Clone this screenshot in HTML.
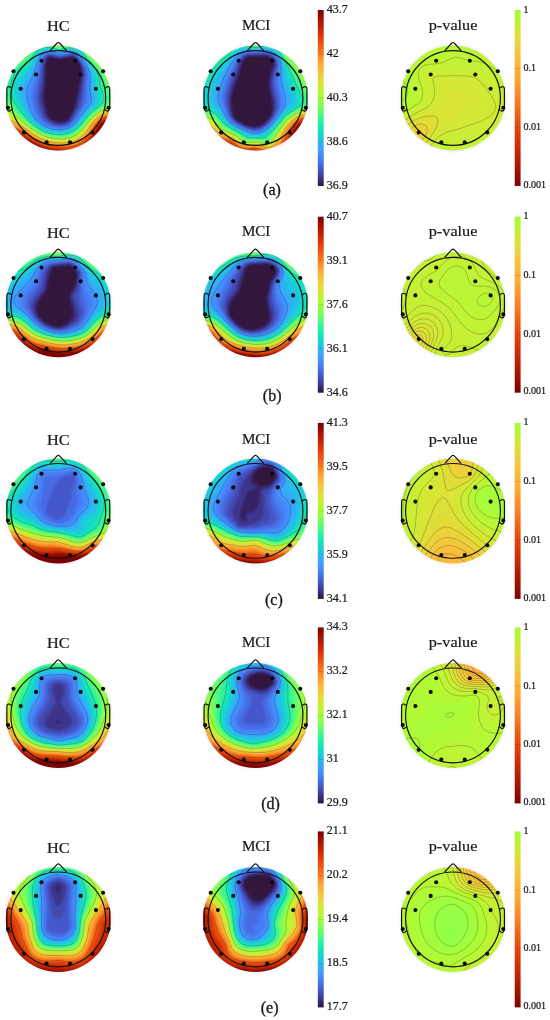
<!DOCTYPE html>
<html lang="en"><head><meta charset="utf-8"><title>Topographic maps</title>
<style>html,body{margin:0;padding:0;background:#fff}body{width:550px;height:1020px;overflow:hidden}svg{display:block}text{font-family:"Liberation Serif","DejaVu Serif",serif;fill:#181818;stroke:#181818;stroke-width:.22}.t{font-size:15.2px;text-anchor:middle}.l{font-size:16px;text-anchor:middle;stroke-width:.35}.k{font-size:12px}.p{font-size:10px}.cl{fill:none;stroke:#1a1a1a;stroke-width:.4;stroke-opacity:.6}.hd{fill:none;stroke:#111;stroke-width:1.15;stroke-linejoin:round}</style></head><body>
<svg width="550" height="1020" viewBox="0 0 550 1020">
<defs><clipPath id="cd"><circle r="52.5"/></clipPath><filter id="b1" x="-10%" y="-10%" width="120%" height="120%"><feGaussianBlur stdDeviation="0.9"/></filter><filter id="b2" x="-10%" y="-10%" width="120%" height="120%"><feGaussianBlur stdDeviation="1.1"/></filter><linearGradient id="gt" x1="0" y1="0" x2="0" y2="1"><stop offset="0.0000" stop-color="#7a0403"/><stop offset="0.0312" stop-color="#920b01"/><stop offset="0.0625" stop-color="#a91601"/><stop offset="0.0938" stop-color="#be2102"/><stop offset="0.1250" stop-color="#d02f05"/><stop offset="0.1562" stop-color="#df3f08"/><stop offset="0.1875" stop-color="#eb500e"/><stop offset="0.2188" stop-color="#f46617"/><stop offset="0.2500" stop-color="#fb7e21"/><stop offset="0.2812" stop-color="#fe962b"/><stop offset="0.3125" stop-color="#fdac34"/><stop offset="0.3438" stop-color="#f8be39"/><stop offset="0.3750" stop-color="#eecf3a"/><stop offset="0.4062" stop-color="#dfdf37"/><stop offset="0.4375" stop-color="#cdec34"/><stop offset="0.4688" stop-color="#b9f635"/><stop offset="0.5000" stop-color="#a4fc3c"/><stop offset="0.5312" stop-color="#8bff4b"/><stop offset="0.5625" stop-color="#6dfe62"/><stop offset="0.5938" stop-color="#4ef97d"/><stop offset="0.6250" stop-color="#32f298"/><stop offset="0.6562" stop-color="#1fe9af"/><stop offset="0.6875" stop-color="#18ddc2"/><stop offset="0.7188" stop-color="#1ccdd8"/><stop offset="0.7500" stop-color="#28bceb"/><stop offset="0.7812" stop-color="#37a8fa"/><stop offset="0.8125" stop-color="#4294ff"/><stop offset="0.8438" stop-color="#4680f6"/><stop offset="0.8750" stop-color="#466be3"/><stop offset="0.9062" stop-color="#4456c7"/><stop offset="0.9375" stop-color="#4040a2"/><stop offset="0.9688" stop-color="#392a73"/><stop offset="1.0000" stop-color="#30123b"/></linearGradient><linearGradient id="gp" x1="0" y1="0" x2="0" y2="1"><stop offset="0.0000" stop-color="#a4fc3c"/><stop offset="0.0312" stop-color="#affa37"/><stop offset="0.0625" stop-color="#bef434"/><stop offset="0.0938" stop-color="#cbed34"/><stop offset="0.1250" stop-color="#d7e535"/><stop offset="0.1562" stop-color="#e1dd37"/><stop offset="0.1875" stop-color="#e9d539"/><stop offset="0.2188" stop-color="#f1cb3a"/><stop offset="0.2500" stop-color="#f6c33a"/><stop offset="0.2812" stop-color="#f9bc39"/><stop offset="0.3125" stop-color="#fbb637"/><stop offset="0.3438" stop-color="#fdae35"/><stop offset="0.3750" stop-color="#fea732"/><stop offset="0.4062" stop-color="#fe9e2f"/><stop offset="0.4375" stop-color="#fe932a"/><stop offset="0.4688" stop-color="#fd8a26"/><stop offset="0.5000" stop-color="#fb8122"/><stop offset="0.5312" stop-color="#f9751d"/><stop offset="0.5625" stop-color="#f56918"/><stop offset="0.5938" stop-color="#f15d13"/><stop offset="0.6250" stop-color="#ec530f"/><stop offset="0.6562" stop-color="#e7490c"/><stop offset="0.6875" stop-color="#e14109"/><stop offset="0.7188" stop-color="#da3907"/><stop offset="0.7500" stop-color="#d23105"/><stop offset="0.7812" stop-color="#ca2a04"/><stop offset="0.8125" stop-color="#c12302"/><stop offset="0.8438" stop-color="#b71d02"/><stop offset="0.8750" stop-color="#ac1701"/><stop offset="0.9062" stop-color="#a11201"/><stop offset="0.9375" stop-color="#950d01"/><stop offset="0.9688" stop-color="#880802"/><stop offset="1.0000" stop-color="#7a0403"/></linearGradient><g id="head"><circle class="hd" r="47.4"/><path class="hd" d="M-8.4 -47.2L-1.2 -55Q0 -56 1.2 -55L8.4 -47.2"/><path class="hd" d="M-46.4 -9.8L-49.3 -11.4Q-51.4 -11.6 -51.4 -9V7Q-51.8 12.6 -49.2 13.3L-46.1 11.4"/><path class="hd" d="M46.4 -9.8L49.3 -11.4Q51.4 -11.6 51.4 -9V7Q51.8 12.6 49.2 13.3L46.1 11.4"/><circle cx="-16.8" cy="-37.2" r="2.05" fill="#0a0a0a"/><circle cx="16.8" cy="-37.2" r="2.05" fill="#0a0a0a"/><circle cx="-44.8" cy="-26.7" r="2.05" fill="#0a0a0a"/><circle cx="44.8" cy="-26.7" r="2.05" fill="#0a0a0a"/><circle cx="-22.3" cy="-23.5" r="2.05" fill="#0a0a0a"/><circle cx="22.3" cy="-23.5" r="2.05" fill="#0a0a0a"/><circle cx="-37.6" cy="-9.3" r="2.05" fill="#0a0a0a"/><circle cx="37.6" cy="-9.3" r="2.05" fill="#0a0a0a"/><circle cx="-50.3" cy="9.7" r="2.05" fill="#0a0a0a"/><circle cx="50.3" cy="9.7" r="2.05" fill="#0a0a0a"/><circle cx="-34.3" cy="34.4" r="2.05" fill="#0a0a0a"/><circle cx="34.3" cy="34.4" r="2.05" fill="#0a0a0a"/><circle cx="-11.7" cy="44.2" r="2.05" fill="#0a0a0a"/><circle cx="11.7" cy="44.2" r="2.05" fill="#0a0a0a"/></g></defs>
<g id="row-a">
<text class="t" x="58.2" y="30.8" textLength="22.6" lengthAdjust="spacingAndGlyphs">HC</text>
<text class="t" x="256.1" y="29.7" textLength="28.4" lengthAdjust="spacingAndGlyphs">MCI</text>
<text class="t" x="453.1" y="29.7" textLength="48.7" lengthAdjust="spacingAndGlyphs">p-value</text>
<text class="l" x="272.0" y="195.3">(a)</text>
<rect x="317.8" y="10.0" width="5.9" height="176" fill="url(#gt)"/>
<rect x="514.7" y="10.0" width="5.9" height="176" fill="url(#gp)"/>
<text class="k" x="326.7" y="12.9">43.7</text>
<text class="k" x="326.7" y="56.9">42</text>
<rect x="317.8" y="53.7" width="5.9" height=".6" fill="#000" fill-opacity=".18"/>
<text class="k" x="326.7" y="100.9">40.3</text>
<rect x="317.8" y="97.7" width="5.9" height=".6" fill="#000" fill-opacity=".18"/>
<text class="k" x="326.7" y="144.9">38.6</text>
<rect x="317.8" y="141.7" width="5.9" height=".6" fill="#000" fill-opacity=".18"/>
<text class="k" x="326.7" y="188.9">36.9</text>
<text class="p" x="523.4" y="12.5">1</text>
<text class="p" x="523.4" y="71.2">0.1</text>
<rect x="514.6" y="68.4" width="6" height=".6" fill="#000" fill-opacity=".18"/>
<text class="p" x="523.4" y="129.9">0.01</text>
<rect x="514.6" y="127.0" width="6" height=".6" fill="#000" fill-opacity=".18"/>
<text class="p" x="523.4" y="187.6">0.001</text>
<g transform="translate(58.3 98.0)">
<circle r="54" fill="#e6e8fa" fill-opacity=".5" filter="url(#b2)"/>
<g clip-path="url(#cd)"><g filter="url(#b1)">
<rect x="-57" y="-57" width="114" height="114" fill="#30123b"/>
<path fill="#372466" d="M-57 -57l114 0 0 114 -114 0 0 -114zM11.5 -41l-6.5 1.5 -3.5 .5 -3.5 -.3 -5.5 -1.3 -1.5 0 -1.7 1.6 -1.3 4 -.4 5 0 14 -1.7 13 .6 7 2.7 10.5 1.8 3.8 2 2.2 2 1.4 5 1.8 4 .1 3.3 -.8 2.2 -1.7 2.2 -3.3 3.6 -8 1.4 -4 5.7 -27 .4 -7 -.7 -3.5 -1.1 -2.5 -2.5 -3.7 -2.5 -2.5 -2 -.9 -2.5 .1z"/>
<path fill="#3d358b" d="M-57 -57l114 0 0 114 -114 0 0 -114zM12.5 -42l-8 1.7 -3 .3 -3.5 -.3 -6 -1.6 -1.5 .1 -2.1 1.8 -1.6 4.5 -.7 6 -.2 14 -1.9 12 .5 7.5 3 11.5 1.7 3.5 1.8 2 2.5 1.9 2.5 1.2 3 .8 4 .4 3.5 -.5 2.5 -1.2 2.1 -2.1 1.9 -3.1 4.8 -10.4 3 -12.5 3.1 -18 .1 -4 -.5 -3.5 -1.4 -4 -3.6 -5.1 -3 -2.5 -3 -.4z"/>
<path fill="#4249b1" d="M-57 -57l114 0 0 114 -114 0 0 -114zM-10 -42.7l-1.8 1.2 -1.3 2 -1.8 7 -.9 16 -2.2 13 0 5 .8 4.5 3.1 11 1.8 3 2.3 2.3 3.4 2.2 4.1 1.4 4.5 .6 4.4 -.5 3.4 -1.5 2.9 -3 5.5 -10.5 1.9 -4.5 2.2 -9.5 2.7 -18 .2 -4.5 -.6 -4.5 -1.3 -3.5 -2.5 -4 -2.8 -3.3 -2.6 -1.7 -3.4 -.3 -7.5 1.7 -3.5 .3 -3 -.3 -6 -1.7 -2 .1z"/>
<path fill="#4559cb" d="M-57 -57l114 0 0 114 -114 0 0 -114zM-9.5 -43.6l-2 .7 -2 2 -1.1 2.4 -1.4 5.5 -1.5 15.7 -2.6 13.3 0 5.5 .7 5 3.4 11 1.9 3 2.5 2.5 3.9 2.5 4.2 1.4 5 .7 4.5 -.4 4 -1.5 3.4 -3.2 6.3 -11 2.5 -5.5 1.7 -7 2.3 -19.5 .2 -4 -.5 -4 -1.2 -4 -2.3 -4 -3.4 -4.3 -3 -2.2 -2 -.6 -2 .1 -7.5 1.6 -3.5 .3 -3 -.3 -5.5 -1.6 -2 -.1z"/>
<path fill="#466be3" d="M-57 -57l114 0 0 114 -114 0 0 -114zM-10.5 -44.1l-2.3 1.1 -1.8 2 -1.1 2.5 -1.7 6.5 -1.7 13 -3.2 14.5 0 6.5 .9 6 1.7 6 1.7 4 2.6 3.5 3.4 3 4 2.2 4.5 1.4 5 .5 5 -.5 4.5 -1.9 3.3 -3.2 7.7 -12.5 2.6 -5.5 1.2 -5 .6 -11 1.1 -10 0 -4 -.6 -3.5 -1.6 -4.5 -2.8 -4.6 -3.5 -4.2 -3 -2 -4 -.5 -7.5 1.7 -3.5 .3 -3 -.4 -5.5 -1.5 -3 .1z"/>
<path fill="#477bf2" d="M-57 -57l114 0 0 114 -114 0 0 -114zM-11.5 -44.6l-3.1 2.1 -1.9 3.5 -2.3 7.5 -2.1 12 -3.2 11 -.6 4 -.1 4 .3 4.5 .8 4.5 1.7 5.5 2.2 4.5 2.7 3.5 4.1 3.4 4 2.2 5 1.5 5.5 .5 5 -.5 5 -2.1 3.8 -3.5 9.4 -14.5 2.3 -4.5 .9 -4 -.1 -10.5 .9 -11 -.1 -3.5 -.6 -3.5 -1.8 -5 -2.8 -4.5 -3.6 -4.5 -3.3 -2.3 -2 -.6 -2.5 0 -8 1.7 -3 .2 -3 -.3 -6 -1.6 -3.5 .3z"/>
<path fill="#458afc" d="M-57 -57l114 0 0 114 -114 0 0 -114zM-11 -45.5l-2 .7 -1.8 1.3 -2.4 3.5 -2.8 8 -2.4 11 -4 11 -.7 3.5 -.3 3.5 .4 6 .8 4.5 2.1 6.5 2.6 5 2.9 3.5 4.1 3.3 4.9 2.7 5 1.5 5.6 .6 5.5 -.6 5 -2 4.2 -3.5 11.6 -16.5 1.9 -3.5 .8 -4 -.8 -9.5 .7 -12 -.6 -6 -1.8 -5 -3 -5.1 -4 -5.1 -3.5 -2.6 -2.5 -.7 -2.5 -.1 -8 1.7 -3 .3 -3 -.4 -6 -1.6 -3 .1z"/>
<path fill="#3e9bfe" d="M-57 -57l114 0 0 114 -114 0 0 -114zM-11.5 -46.1l-2 .7 -2 1.3 -2.6 3.6 -3.1 8 -2.8 10 -5 11.5 -.9 3.5 -.2 3.5 1.2 10 2.2 6.5 3 6 3.2 4 4.3 3.5 5.2 3 5.5 1.8 6.5 .7 6 -.7 5 -2 4.5 -3.8 13.1 -17.5 2 -3.5 .5 -3 -1.4 -10 .5 -12 -.7 -5.5 -1.9 -5 -3.2 -5.5 -4.3 -5.5 -3.6 -2.7 -2.5 -.9 -2.5 -.2 -9 1.8 -3 .2 -8.5 -1.9 -3.5 .1z"/>
<path fill="#35abf8" d="M-57 -57l114 0 0 114 -114 0 0 -114zM-12.5 -46.6l-3.8 2.1 -2.7 3.5 -3.1 7 -3.8 10.5 -6.2 12 -.8 3 -.3 3.5 1.4 9 2.4 7 3.7 7 3.4 4.5 4.3 3.5 6 3.7 5.5 1.8 7.5 .8 6.5 -.8 5 -2 4.4 -3.5 8.6 -11.4 6.1 -7.1 1.9 -3 .7 -3.5 -2 -10 .3 -11.5 -.8 -5.5 -2.1 -5.5 -3.8 -6 -4.3 -5.5 -4 -2.9 -2.5 -.8 -3 -.2 -8.5 1.8 -3 .2 -9 -2 -4 .3z"/>
<path fill="#28bceb" d="M-57 -57l114 0 0 114 -114 0 0 -114zM-11.5 -47.5l-4.2 1.5 -1.9 1.5 -1.6 2 -2.5 4.5 -5.8 12.9 -6.8 11.1 -1.3 3 -.6 3 .1 3.5 .7 4 2.3 7.5 3.1 6.5 4.8 7.5 4 4 7.2 4.7 5.7 2.3 8.3 1.2 7 -.7 5.5 -2.1 4.6 -3.4 9.4 -11.9 7 -7.6 1.9 -3 .6 -2 .1 -2 -2.4 -9.5 .1 -11 -.6 -4.5 -1.7 -5 -3.1 -5.5 -5.9 -7.8 -4 -3.4 -3 -1.1 -3 -.2 -9 1.8 -3 .2 -8.5 -2 -3.5 0z"/>
<path fill="#1fc9dd" d="M-57 -57l114 0 0 114 -114 0 0 -114zM-12.5 -48.1l-4 1.6 -3.5 3.4 -8.8 16.1 -8.2 11.5 -1.5 3.5 -.6 3 .1 3.5 .6 3.5 2.3 7 3.7 7.5 5.8 8.5 3.8 4 7.8 5.1 6 2.6 8.5 1.3 4 -.1 4 -.7 5.7 -2.2 4.6 -3.5 9.7 -12 7.4 -7.5 2.4 -3.5 .7 -2 .1 -2 -3 -10 .1 -10 -.6 -4.5 -2 -5.5 -3.4 -5.5 -6.5 -8.5 -4.2 -3.4 -3 -1 -3 -.2 -12 2 -8.5 -2 -4.5 0z"/>
<path fill="#19d5cd" d="M-57 -57l114 0 0 114 -114 0 0 -114zM-14 -48.5l-3.5 1.6 -3.1 2.9 -8.9 14.4 -7.6 9.1 -2.4 3.5 -1.5 3.5 -.8 3.5 .1 4 .8 4 2.6 7 4.1 7.5 7 9.5 4.2 4 8.5 5.4 5.5 2.1 9 1.3 4 -.2 4 -.7 6 -2.4 4.5 -3.5 9.4 -11.5 8.7 -8.5 2.9 -4 .6 -2 .1 -2 -.6 -2.5 -2.9 -7 0 -9.5 -.8 -5 -2.2 -5.5 -3.6 -5.5 -7.1 -9.1 -2 -1.9 -2.5 -1.6 -3 -1 -3 -.2 -12 2.1 -9.5 -2.2 -5 .4z"/>
<path fill="#19e2bb" d="M-57 -57l114 0 0 114 -114 0 0 -114zM-13 -49.5l-4 1.3 -3.6 2.7 -2 2.5 -7.9 11.6 -10.5 11.4 -2.1 4 -1.1 4 -.2 4 .7 4.5 2.5 7 4.3 7.5 7.2 9.5 5.2 5.5 9 5.7 6 2.5 4.5 .9 5 .4 4 -.1 4 -.6 5.8 -2.3 4.7 -3.3 3 -3.2 7.5 -9.4 9.3 -8.6 3.3 -4 .7 -2 .1 -2.5 -.7 -2.5 -3.2 -7 -.2 -8.5 -.6 -4 -2.1 -5.5 -3.4 -5.5 -8.7 -11 -2.1 -2 -2.3 -1.5 -3.1 -1.1 -3.5 -.3 -9.5 1.9 -3 .2 -8.5 -2.2 -4.5 0z"/>
<path fill="#20eaac" d="M-57 -57l114 0 0 114 -114 0 0 -114zM-14 -50.1l-4 1.5 -3.5 2.6 -9.5 12.5 -9.8 9 -2.5 3 -2.2 4 -1.2 4.5 -.2 4.5 .8 5 2.8 7 4.6 7.5 9.1 11 5.1 5 9 5.6 6 2.4 4.5 .9 5 .4 4.5 -.2 4 -.7 5.5 -2.1 4.8 -3.3 3.4 -3.5 7.8 -9.7 11.2 -9.8 2.5 -3 .9 -2.5 0 -2.5 -.9 -3 -2.9 -6.5 -1.5 -11.5 -2.1 -5.5 -3.6 -5.5 -9.7 -12 -4.4 -3.5 -3.5 -1.3 -3.5 -.3 -12 2.2 -9.5 -2.3 -5 .1z"/>
<path fill="#32f298" d="M-57 -57l114 0 0 114 -114 0 0 -114zM-13 -51l-4.5 1.1 -4 2.5 -2.3 2.4 -7.7 9.5 -3.5 3.2 -7.4 5.8 -2.6 2.7 -2.5 4.3 -1.5 5 -.3 5 .7 5 2.6 7 4.7 7.5 8.1 9.5 5.2 5.5 3 2.5 8.7 5.5 6.3 2.6 5 1 5 .4 4.5 -.1 4 -.6 5.5 -2.1 4.9 -3.2 3.6 -3.6 8.9 -10.9 12.9 -10.5 1.6 -2 .8 -2 .2 -2 -.3 -2.5 -3.4 -8.5 -1.9 -10 -2.1 -5.5 -4.4 -6.5 -10 -12 -2.6 -2.5 -3.7 -2.2 -4 -1 -4 .2 -10 1.9 -9 -2.2 -4.5 -.2z"/>
<path fill="#46f884" d="M-57 -57l114 0 0 114 -114 0 0 -114zM-15 -51.5l-4 1.3 -3.4 2.2 -9.6 10.7 -4 3.3 -8 5.7 -3.2 3.3 -2.8 4.9 -1.4 5.1 -.2 5.5 1 5.5 3.1 7.5 5.2 7.5 4.8 5.5 7.9 8 6.1 4.9 8.6 5.1 6.4 2.2 5 .8 5 .3 4.5 -.3 4 -.8 5 -2.1 4 -2.7 4 -3.9 6.2 -8 3.3 -3.4 5.5 -4.5 8.5 -6.1 1.4 -2 .9 -2.5 .1 -3 -.6 -3 -3 -8 -2.7 -10 -2.2 -4.5 -4.4 -6 -6.9 -7.5 -4.4 -5.5 -2.7 -2.5 -3.5 -1.9 -4 -.9 -4.5 .2 -9.5 1.9 -10 -2.5 -5.5 .2z"/>
<path fill="#5dfc6f" d="M-57 -57l114 0 0 114 -114 0 0 -114zM-14 -52.5l-4.5 1.1 -4.3 2.4 -2.8 2.5 -6.9 7.5 -12.5 8.6 -4 3.8 -2.9 4.6 -1.7 5.5 -.4 5.5 .9 6 1.4 4 1.9 4 5.2 7.5 5.6 6 8.3 8 6.8 5.5 8.4 5 7 2.4 5 .8 5 .3 4.5 -.3 4 -.7 5 -2 4.5 -3 4 -3.9 6.3 -8.1 3.3 -3.5 5.9 -4.7 9 -5.8 1.5 -2 1.1 -3 .1 -3.5 -.6 -3.5 -5.6 -16.5 -2.2 -4.5 -4.6 -6 -8.2 -8.5 -4.5 -5.7 -2.6 -2.3 -3.9 -2.1 -4 -.9 -4.5 .2 -9.5 1.9 -9.5 -2.4 -5 -.2z"/>
<path fill="#79fe59" d="M-57 -57l114 0 0 114 -114 0 0 -114zM-16 -53.1l-4 1.3 -3.5 2 -2.8 2.3 -6.7 6.7 -13.4 8.8 -4.8 4.5 -3.1 5 -1.7 5.5 -.3 6 1.3 6.5 1.7 4.5 2.1 4 5.7 7.5 5.4 5.5 10.6 9.5 7.5 5.5 8 4.4 7 2 5 .6 5 .2 4 -.3 4 -.9 4.5 -1.8 4.1 -2.7 3.9 -3.8 6.8 -8.7 3.9 -4 5.3 -4.1 8 -4.4 2 -1.6 1.9 -2.9 .9 -3.5 .1 -4 -.9 -4.5 -4.9 -13.5 -2.9 -5.5 -5 -6 -8.7 -8.5 -4.5 -5.7 -3.3 -2.8 -3.7 -1.9 -4 -.8 -4.5 .2 -9.5 1.9 -10 -2.5 -3.5 -.3 -3 .3z"/>
<path fill="#8fff49" d="M-57 -57l114 0 0 114 -114 0 0 -61.2 3.6 7.7 5.1 7 7.2 7 14.1 11.9 7.8 5.1 6.2 3 6.5 1.7 8 .7 5.5 -.3 4.5 -.9 4.5 -1.9 4 -2.6 4 -3.9 7 -9 4 -4.1 5.5 -4 8.2 -4.2 1.9 -1.5 1.4 -2 1.2 -2.5 .9 -5.5 -.5 -4.5 -1.6 -5.5 -3.8 -9.5 -3.1 -5.5 -4.9 -5.5 -9.7 -9 -6 -7.1 -4 -2.7 -4.5 -1.4 -5.5 -.1 -10 1.9 -8.5 -2.2 -3.5 -.5 -4.5 .1 -4.5 1.3 -5.4 3.2 -9.1 8 -11 6.6 -3.9 2.9 -4.2 4.5 -2.9 5.2 0 -34.7z"/>
<path fill="#a4fc3c" d="M-57 -57l114 0 0 114 -114 0 0 -56.4 4.4 6.9 5.9 6.5 16.9 14 6.8 4.9 6.5 3.8 5.5 2.1 7 1.4 8 .4 5 -.5 4 -1.1 4.3 -2 3.7 -2.7 3.5 -3.5 7.2 -9.3 3.8 -3.9 5 -3.6 9 -4.3 2 -1.7 1.9 -2.5 1.2 -2.5 .8 -3 .3 -3.5 -.6 -5 -1.7 -5.5 -3.4 -8 -3.2 -5.5 -5 -5.5 -10.3 -9.1 -5.8 -6.9 -2.4 -2 -2.6 -1.5 -3.2 -1.1 -3.5 -.5 -4 .2 -9.5 1.7 -12 -2.7 -4.5 0 -3.9 .9 -5.3 2.5 -10.3 8.2 -14.1 8.3 -4.2 3.5 -3.2 4 0 -29.5z"/>
<path fill="#b4f836" d="M-57 -57l114 0 0 50 -1 -5 -2.2 -6 -3 -6 -3 -4.5 -4.8 -5 -11 -9.3 -6.3 -7.2 -2.6 -2 -2.6 -1.4 -3 -1 -3.5 -.5 -4 .2 -9.5 1.6 -12 -2.7 -4.5 0 -4 .8 -5.9 2.5 -10.6 7.6 -13.2 7.4 -4.2 3 -3.1 3.1 0 -25.6zM57 -1.5l0 58.5 -114 0 0 -53.1 4.6 6.1 6.2 6 18.2 14.2 7.1 4.8 5.9 3.1 5.5 1.8 7 1.1 7.5 .2 4.5 -.5 4 -1.1 4 -1.8 3.5 -2.5 4 -3.9 7.1 -9.4 3.9 -4 5 -3.5 9 -4.2 2.4 -1.8 3 -4.5 1.6 -5.5z"/>
<path fill="#c3f134" d="M-57 -57l114 0 0 42.7 -4.1 -9.2 -5.1 -7 -4.8 -4.5 -10 -8.1 -7 -7.7 -3 -2.2 -3 -1.4 -3.5 -1 -4 -.2 -12 1.6 -12.5 -2.7 -4.5 0 -4 .7 -3.5 1.2 -3.5 1.8 -10 6.5 -13.5 7.2 -6 4.5 0 -22.2zM56.9 3.5l.1 53.5 -114 0 0 -50.3 4.6 5.3 6.2 5.5 19.7 14.5 6.5 4.2 5.5 2.7 5.5 1.8 6.5 1 7 .3 4.5 -.4 4 -1 3.5 -1.4 3.6 -2.2 4.9 -4.5 7.1 -9.5 3.7 -4 5.7 -4.1 10.4 -4.9 2.9 -3 2.1 -3.5z"/>
<path fill="#d4e735" d="M-57 -57l36.1 0 -3.6 1.1 -4 1.9 -10 5.9 -13 6.6 -5.5 3.7 0 -19.2zM-8.3 -57l65.3 0 0 38.1 -3.9 -7.1 -4.4 -5.5 -4.5 -4 -10.2 -8 -6.5 -7 -4 -3.1 -4 -1.8 -4 -.9 -5 0 -10 1.3 -8.8 -2zM56.7 6l.3 -.5 0 51.5 -114 0 0 -48 4.9 5 6.1 5 21 14.8 6 3.7 5 2.3 5.5 1.6 6.5 1 7 .2 4.5 -.4 3.5 -.8 3.7 -1.4 3.3 -2 5.5 -5 7.4 -10 3.8 -4 5.3 -3.6 9.8 -4.4 2.5 -2 2.4 -3z"/>
<path fill="#e1dd37" d="M-57 -57l32 0 -4.7 2 -9.8 5.2 -11.1 5.3 -6.4 3.8 0 -16.3zM-4.6 -57l13.8 0 -8.2 1 -5.6 -1zM16.2 -57l40.8 0 0 34.5 -3.5 -5.5 -4 -4.5 -4.6 -4 -9.9 -7.5 -7.9 -8 -5.1 -3.3 -5.8 -1.7zM56.8 7.5l.2 49.5 -114 0 0 -46 4.8 4.5 5.8 4.5 12.4 8.1 10 7.1 5.5 3.3 5 2.2 5.5 1.5 6.5 .9 7 .2 4.5 -.4 3.5 -.8 3.5 -1.4 3.5 -2.1 5.5 -5.1 7.5 -10.2 4 -4.2 5 -3.3 9.8 -4.3 2.2 -1.6 2.3 -2.4z"/>
<path fill="#eecf3a" d="M-57 -57l28.2 0 -22.2 10.3 -6 3.2 0 -13.5zM19.8 -57l37.2 0 0 31.4 -3.7 -4.9 -4.8 -4.7 -12.5 -9.3 -9.4 -9 -3.2 -2 -3.6 -1.5zM56.6 9l.4 -.5 0 48.5 -114 0 0 -44.1 4.8 4.1 5.5 4 12.7 7.9 10.5 7.4 5.5 3.1 5 2.1 5.5 1.4 6.5 .9 7 .2 7.5 -1.1 3.6 -1.4 3.5 -2 5.5 -5 8 -11 3.9 -4 5 -3.3 9.5 -4 4.1 -3.2z"/>
<path fill="#f6c33a" d="M-57 -57l24.3 0 -18.3 7.8 -6 3 0 -10.8zM22.2 -57l34.8 0 0 28.8 -3.5 -4.1 -4 -3.7 -13 -9.5 -9 -8.4 -5.3 -3.1zM56.7 10l.3 -.3 0 47.3 -114 0 0 -42.4 9.3 6.9 12.7 7.5 11 7.7 6.5 3.6 5 2 5.5 1.4 6.5 .8 7 .2 4 -.4 3.5 -.8 3.5 -1.3 3.5 -2 5.6 -5.2 7.9 -11 4 -4.2 5 -3.2 9 -3.7 4.2 -2.9z"/>
<path fill="#fbb637" d="M-57 -57l19.8 0 -19.8 8.1 0 -8.1zM24.3 -57l32.7 0 0 26.5 -6.7 -6.5 -12.3 -8.8 -9 -8.1 -4.7 -3.1zM56.7 11l.3 -.3 0 46.3 -114 0 0 -40.9 9 6.4 13 7.3 11.1 7.7 6.9 3.8 5.5 2 5.5 1.2 7 .8 6.5 .1 4 -.5 3.5 -.9 3.5 -1.4 3 -1.8 5.7 -5.3 7.7 -11 4.1 -4.4 4 -2.6 9.5 -3.9 4.2 -2.6z"/>
<path fill="#fea431" d="M-57 -57l14.3 0 -14.3 5.5 0 -5.5zM26.1 -57l30.9 0 0 24.3 -5.8 -5.3 -12.7 -8.9 -8.5 -7.4 -3.9 -2.7zM56.6 12l.4 -.3 0 45.3 -114 0 0 -39.4 8 5.4 14 7.6 11 7.5 7.2 3.9 5.3 1.9 5.5 1.3 7.5 .8 6.5 0 4 -.4 3.5 -1 3.5 -1.4 3 -1.9 3 -2.4 3 -3.3 7.2 -10.6 3.8 -4.2 4.5 -3 9 -3.5 4.1 -2.3z"/>
<path fill="#fe932a" d="M-57 -57l7.7 0 -7.7 2.9 0 -2.9zM27.9 -57l29.1 0 0 22.3 -5 -4.4 -12.9 -8.9 -11.2 -9zM56.3 13l.7 -.4 0 44.4 -114 0 0 -37.9 8.7 5.4 13.8 7.1 10.5 7.3 7.5 3.9 5 1.8 5.5 1.2 7.5 .8 6.5 .1 4 -.4 3.5 -.9 3.5 -1.4 3 -1.7 3 -2.4 3.2 -3.4 7.8 -11.5 3.5 -3.9 4.5 -2.9 8.5 -3.2 3.8 -2z"/>
<path fill="#fb7e21" d="M-57 -57l.7 0 -.7 .3 0 -.3zM29.7 -57l27.3 0 0 20.3 -5.5 -4.4 -12 -8.1 -9.8 -7.8zM56.8 13.5l.2 43.5 -114 0 0 -36.6 8.6 5.1 13.9 6.9 10.5 7.2 8 4.1 5 1.7 5.5 1.2 8 .8 6 0 4 -.4 3.5 -.9 3.5 -1.5 3 -1.7 3 -2.5 3.2 -3.4 7.6 -11.5 3.6 -4 4.6 -2.9 8.4 -3.1 3.9 -2z"/>
<path fill="#f66c19" d="M31.5 -57l25.5 0 0 18.4 -5.1 -3.9 -11.4 -7.6 -9 -6.9zM56.5 14.5l.5 -.3 0 42.8 -114 0 0 -35.3 8.5 4.8 13.5 6.3 11 7.5 8 4.1 5 1.7 5.5 1.1 8.5 .9 6 0 4 -.5 3.5 -.9 3.5 -1.5 3 -1.7 3.5 -3 3 -3.4 7.2 -11.1 3.5 -4 4.3 -2.8 12 -4.7z"/>
<path fill="#f05b12" d="M33.4 -57l23.6 0 0 16.5 -15.5 -10.5 -8.1 -6zM57 15l0 42 -114 0 0 -34 8 4.3 14 6.3 11 7.5 8.5 4.2 5 1.6 5.5 1 8.5 .9 6 0 4 -.5 3.5 -1 3.5 -1.5 3 -1.8 3.5 -3 3 -3.4 7 -11.1 3.5 -4.1 4.5 -2.8 12 -4.6z"/>
<path fill="#e7490c" d="M35.5 -57l21.5 0 0 14.7 -21.5 -14.7zM56.4 16l.6 -.3 0 41.3 -114 0 0 -32.8 7.4 3.8 14.1 6.1 11.5 7.7 8.5 4.2 5 1.5 5.5 1.1 9 .9 6 0 7.5 -1.6 3.5 -1.5 3 -1.8 3.5 -3 3 -3.4 7.2 -11.7 3.3 -3.8 4.5 -2.8 10.9 -3.9z"/>
<path fill="#dd3d08" d="M37.6 -57l19.4 0 0 12.8 -19.4 -12.8zM56.9 16.5l.1 40.5 -114 0 0 -31.6 7.4 3.6 13.6 5.7 11.5 7.6 9 4.4 5 1.5 5.5 1.1 9.5 .9 5.5 0 4 -.5 4 -1.1 3.5 -1.6 3 -1.8 3.5 -3.1 3 -3.4 2.9 -4.2 4.2 -7.5 3.4 -4 4 -2.5 11.4 -4z"/>
<path fill="#d02f05" d="M39.9 -57l17.1 0 0 11 -17.1 -11zM56.3 17.5l.7 -.3 0 39.8 -114 0 0 -30.4 20.5 8.7 12.5 8 9 4.2 5 1.5 5.5 1 9 .9 6 0 7.5 -1.6 3.5 -1.4 3.2 -1.9 3.5 -3 3.3 -3.8 2.8 -4.2 4.2 -7.5 3.3 -4 4.2 -2.6 10.3 -3.4z"/>
<path fill="#c32503" d="M42.4 -57l14.6 0 0 9.2 -14.6 -9.2zM56.8 18l.2 39 -114 0 0 -29.3 20.1 8.3 12.9 8.1 9 4.2 5.5 1.5 5.5 1 9 .9 6 -.1 7.5 -1.6 3.5 -1.5 3.2 -2 3.5 -3 3.4 -4 2.7 -4 4.4 -8 2.9 -3.5 3.9 -2.5 10.8 -3.5z"/>
<path fill="#b41b01" d="M45.2 -57l11.8 0 0 7.3 -11.8 -7.3zM56 19l1 -.4 0 38.4 -114 0 0 -28.1 19.5 7.7 14 8.5 9 4 5 1.5 5.5 .9 9 .9 6 -.1 4 -.6 4 -1.1 3.5 -1.5 3.3 -2.1 3.4 -3 3.4 -4 2.7 -4 4.3 -8 2.9 -3.6 4 -2.5 9.5 -2.9z"/>
<path fill="#a11201" d="M48.1 -57l8.9 0 0 5.4 -8.9 -5.4zM56.6 19.5l.4 -.2 0 37.7 -114 0 0 -27 19 7.3 15 8.8 8.5 3.8 5.5 1.5 5.5 .9 9 .8 6 -.1 4 -.6 4 -1.2 3.5 -1.5 3.4 -2.2 3.6 -3.2 3.2 -3.8 2.6 -4 4.6 -8.5 2.8 -3.5 3.8 -2.2 9.6 -2.8z"/>
<path fill="#8e0a01" d="M51.2 -57l5.8 0 0 3.5 -5.8 -3.5zM55.7 20.5l1.3 -.4 0 36.9 -114 0 0 -25.9 18.5 6.9 15.5 8.9 8.5 3.7 5.5 1.5 6 1 8.5 .8 6 -.1 4.5 -.8 4 -1.2 3.5 -1.6 3.5 -2.2 3.5 -3.2 3.5 -4.3 6.8 -12 2.7 -3.5 3.5 -2 8.7 -2.5z"/>
<path fill="#7a0403" d="M54.4 -57l2.6 0 0 1.6 -2.6 -1.6zM56.3 21l.7 -.2 0 36.2 -114 0 0 -24.8 18.5 6.8 15.5 8.7 8.5 3.6 5.5 1.5 6.5 1.1 8.5 .7 6 -.1 4.5 -.8 4 -1.2 3.5 -1.7 3.5 -2.3 3.5 -3.1 3.5 -4.3 6.8 -12.1 2.6 -3.5 3.5 -2 8.9 -2.5z"/>
</g>
<path class="cl" d="M-11 -46.6l-4 1.6 -1.7 1.5 -1.7 2.5 -3.2 7.5 -3.4 10.7 -5.4 11.3 -1.2 6.5 1.2 9.5 2 6.5 3.5 7 3 4 4.1 3.5 5.8 3.6 5.3 1.9 6.7 .9 6.5 -.5 5.5 -2.1 4.5 -3.6 14.1 -18.2 1.9 -3 .7 -3.5 -1.8 -10 .4 -11.5 -.6 -5 -1.9 -5.5 -3.2 -5.5 -4.6 -6 -3.8 -3 -2.7 -.9 -2.5 -.2 -12 2 -8 -1.8 -3.5 -.2M-13.5 -50.6l-4 1.2 -4 2.7 -10 12.4 -10 8.7 -2.5 2.7 -2.5 4.4 -1.3 4.5 -.3 5 .8 5 2.6 7 4.7 7.5 9.7 11.5 5.8 5.4 9 5.6 6 2.4 9.5 1.3 8.5 -.8 5.5 -2.1 4.8 -3.3 3.5 -3.5 8.2 -10.1 12.7 -10.9 1.6 -2 .8 -2 -.1 -4.5 -3.4 -8 -1.7 -10.5 -2.2 -6 -4.4 -6.5 -9.3 -11.3 -2.5 -2.4 -3.5 -2.1 -4 -1 -4 .1 -10 2 -9 -2.3 -5 -.1M-57 2.4l4.6 6.6 5.9 6 17.5 14 7.5 5.2 6 3.3 6 2.1 7 1.1 7.5 .2 7.5 -1.3 6.5 -3.2 5 -4.5 8 -10.3 4 -4 5.5 -3.8 9.7 -4.8 2.2 -2.5 1.6 -3 1.1 -3.5 .3 -4 -.7 -5.5 -1.9 -6 -3.4 -7.5 -3.5 -5.5 -4.8 -5 -10.4 -9 -6.7 -7.6 -4 -2.7 -4 -1.3 -6 -.3 -10.5 1.8 -12.5 -2.8 -4.5 .1 -4 1 -5 2.3 -10.5 7.9 -14 8.1 -3.8 3 -3.2 3.5M-34.9 -57l-22.1 9.4M57 -29.4l-7.1 -7.1 -12.9 -9.4 -9 -8.2 -4.7 -2.9M-57 15.4l9.1 6.6 12.9 7.4 11 7.6 6.5 3.7 5 1.9 6 1.5 7 .8 6.5 .1 7.5 -1.2 6.7 -3.3 5.8 -5.4 7.5 -10.6 4 -4.3 5 -3.3 9.6 -3.9 3.9 -2.8M57 -41.4l-22.6 -15.6M-57 23.6l7.5 3.9 14.5 6.5 11 7.4 8.5 4.2 5 1.6 5.5 1.1 9 .8 5.5 0 7.5 -1.4 6.5 -3.2 3.5 -2.9 3.2 -3.6 7.2 -11.5 3.4 -4 4.2 -2.7 12 -4.4M57 -52.5l-7.4 -4.5M-57 30.6l19 7.2 15 8.7 8.5 3.7 11 2.4 9 .9 6 -.1 8 -1.8 7 -3.7 3.5 -3.1 3.5 -4.2 7 -12.2 3 -3.8 3.5 -1.9 10 -3"/>
</g>
<use href="#head"/>
</g>
<g transform="translate(255.5 98.0)">
<circle r="54" fill="#e6e8fa" fill-opacity=".5" filter="url(#b2)"/>
<g clip-path="url(#cd)"><g filter="url(#b1)">
<rect x="-57" y="-57" width="114" height="114" fill="#30123b"/>
<path fill="#372466" d="M-57 -57l114 0 0 114 -114 0 0 -114zM2.5 -42l-10 .6 -2.5 1.5 -2.5 3 -1.6 3.9 -2.2 9.5 -5.3 14.5 -1.4 5.5 -.8 5 -.1 5.5 .6 5.5 1.2 4.5 1.8 3.5 2.8 2.4 5.7 3.1 4.4 2 3.9 .8 3.5 0 3.5 -.7 2.5 -1.1 3 -2.3 3.5 -3.6 2.2 -3.1 1.4 -3.5 .7 -4 -.3 -6.5 -3.2 -14.5 -.4 -4.5 1.3 -8 3.7 -9.5 .2 -4 -.6 -1.5 -1.5 -1.4 -4 -2.1 -4.5 -.9 -5 .4z"/>
<path fill="#3d358b" d="M-57 -57l114 0 0 114 -114 0 0 -114zM3.5 -43l-11.5 .7 -3 1.8 -2.5 3 -2 4.5 -2 8.5 -5.4 14 -1.6 6 -.8 5 -.1 5.5 .8 6.5 1.5 5 1.9 3.5 2.2 2.1 5.3 2.9 6.2 2.9 4 .9 4 0 3.5 -.8 2.5 -1.1 3.1 -2.4 3.5 -3.5 2.6 -3.5 1.7 -4 .9 -4.5 -.4 -7 -3.2 -14 -.4 -3.5 1.3 -8 3.6 -10 .2 -2.5 -.2 -2 -1.7 -2.6 -4.1 -2.4 -4.9 -1.2 -5 .2z"/>
<path fill="#4249b1" d="M-57 -57l114 0 0 114 -114 0 0 -114zM5.5 -44l-5 .5 -8.5 .2 -3 1.5 -2.8 2.8 -2.7 5 -2.5 9 -4.8 12 -2.1 7 -1 5 -.1 5.5 .9 7 1.6 5.5 2.1 4 2.4 2.5 3.5 2.1 8.5 4 4.5 1.1 4 0 3.5 -.7 3.2 -1.5 3.3 -2.5 3.8 -4 2.5 -3.5 2 -4.5 1 -4.5 .1 -3.5 -.5 -4 -3.1 -13 -.4 -3.5 1 -7.5 3.3 -10 .2 -2.5 -.3 -2.5 -1.6 -2.8 -3.5 -2.5 -4.5 -1.4 -5 -.3z"/>
<path fill="#4559cb" d="M-57 -57l114 0 0 114 -114 0 0 -114zM4 -44.5l-12.5 .5 -3.1 1.5 -3.1 3 -3.1 5.5 -2.8 8.5 -4.7 11.5 -2.3 7.5 -1 6 0 5.5 1.3 7 1.9 5.5 2.7 4.5 2.7 2.5 4.6 2.5 7.9 3.6 5 1 4 -.1 4 -1.1 3.3 -1.9 3.7 -3.2 3.5 -3.9 2.4 -3.9 2.1 -5 .9 -4.5 -.5 -7 -2.9 -12 -.5 -4 .8 -7 2.9 -9.5 .2 -3 -.6 -3 -.8 -1.7 -1.5 -1.8 -4 -2.4 -5 -1.3 -5.5 .2z"/>
<path fill="#466be3" d="M-57 -57l114 0 0 114 -114 0 0 -114zM7 -45.5l-6.5 .6 -9 .2 -3.5 1.4 -3.3 2.8 -3.8 6.5 -7.1 17.5 -2.6 8 -1.5 6.5 -.1 5.5 1.3 6.5 2.4 7 2.9 5 2.5 2.5 3.8 2.3 9.5 4.4 4.5 1.2 4.5 .1 4 -1 3.5 -1.8 4 -3.2 3.7 -4 2.8 -4 2.6 -5.5 1.4 -5 .1 -3 -.4 -4 -3 -12.5 -.5 -4 .6 -6.5 2.4 -9 .1 -3 -.5 -3 -1.8 -3.5 -3.5 -2.9 -4.5 -1.6 -5 -.5z"/>
<path fill="#477bf2" d="M-57 -57l114 0 0 114 -114 0 0 -114zM5.5 -46l-5 .5 -7 -.1 -3 .3 -3.5 1.5 -3.2 2.8 -4.3 7 -7 16 -3.1 9 -1.6 7.5 .1 5 1.6 6.5 2.9 7.5 3.2 5 2.9 2.8 4 2.3 10 4.5 5 1.2 4.5 -.1 4 -1.2 4 -2.4 4 -3.4 4 -4.7 3.2 -5 2.6 -5.5 1 -4.5 -.5 -7 -2.7 -11 -.6 -4.5 .3 -6 1.9 -9 -.1 -3.5 -.7 -3 -.9 -2.1 -1.5 -2 -4 -2.9 -5 -1.5 -5.5 0z"/>
<path fill="#458afc" d="M-57 -57l114 0 0 114 -114 0 0 -114zM4.5 -46.5l-5 .4 -7 -.2 -2.5 .4 -4 1.7 -3.5 3.2 -4.5 7 -7.1 15 -3.6 10.5 -1.6 7.5 .3 4.5 1.7 5.5 3.8 9 3.5 5.1 3.3 2.9 4.3 2.5 10.4 4.6 5 1.1 4.5 -.2 3.5 -1.1 4.1 -2.4 4.4 -3.7 4.1 -4.8 4.3 -6.5 2.8 -5.5 1 -4 -.5 -7.5 -2.7 -10.5 -.7 -4 0 -5.5 1.4 -10 -.3 -3.5 -1.1 -3.5 -2.7 -4 -4.1 -2.8 -5.5 -1.4 -6 .2z"/>
<path fill="#3e9bfe" d="M-57 -57l114 0 0 114 -114 0 0 -114zM8.5 -47.5l-8 .8 -7.5 -.3 -3 .3 -4 1.5 -3.6 2.7 -2.5 3 -2.7 4 -7.3 14 -3 7.5 -3.2 11.5 -.1 4 1.2 4.5 5.4 11.5 3.7 5.5 3.2 3 3.9 2.5 11.5 5.2 4.5 1.2 4.5 .1 4 -.9 4 -2.2 4.5 -3.5 4.1 -4.4 4.6 -6.5 4.6 -7.5 1.4 -4 -.3 -7.5 -2.9 -11 -.8 -4.5 -.2 -4.5 .8 -9.5 -.5 -3.5 -.8 -3 -2.5 -4.5 -3.4 -3 -4.6 -1.9 -5 -.6z"/>
<path fill="#35abf8" d="M-57 -57l114 0 0 114 -114 0 0 -114zM6.5 -48l-6 .7 -8 -.3 -3.5 .4 -4.3 1.7 -3.8 3 -5.6 7.5 -7.7 13.5 -2.8 7 -3.7 12.5 .1 4 1.2 3.5 7.5 13.5 3.8 5 3.5 3 4.3 2.5 11.5 5.2 4.5 1.1 4.5 0 4 -1 4 -2.3 4.5 -3.5 5 -5.5 9.4 -13 1.7 -3 .8 -3 -.5 -6.5 -3.2 -10.5 -1 -4.5 -.4 -4.5 -.1 -10 -.8 -4 -1.3 -3.5 -3.1 -4.5 -4 -2.9 -5 -1.6 -5.5 0z"/>
<path fill="#28bceb" d="M-57 -57l114 0 0 114 -114 0 0 -114zM5.5 -48.5l-5.5 .6 -7.5 -.4 -4 .4 -4.5 1.8 -4.1 3.1 -6.3 8 -8.1 13 -2.3 5 -3.9 10.5 -1.2 5 .2 3.5 1.3 3 5.4 7.6 4.8 7.9 3.3 4 3.6 3 4.3 2.5 12 5.5 4.5 1.1 5 -.1 3.5 -.8 3 -1.6 5.5 -4.1 4 -4.1 8 -10.4 6.1 -7 1.5 -2.5 .7 -2.5 -.6 -4.5 -5.2 -15 -.9 -5 -.9 -11 -1.3 -4.5 -1.8 -4 -3.1 -4 -4.5 -3 -5 -1.2 -6 .2z"/>
<path fill="#1fc9dd" d="M-57 -57l114 0 0 114 -114 0 0 -114zM5 -49.1l-5 .7 -8 -.6 -4 .4 -5 1.9 -4.2 3.2 -7.5 9 -8.1 12 -2.6 5 -4.3 10 -1.5 6 .3 3.5 1.4 3 7 7.7 5.8 8.8 3.7 4 3.9 3 4.1 2.3 12 5.6 4.5 1 5 0 4 -.9 2.5 -1.3 5.5 -4.1 4 -4 9.5 -11.9 8.2 -7.7 1.6 -2.5 .5 -2 -.7 -4 -4.2 -9 -2.3 -6.5 -3.5 -17.5 -1.5 -4 -2.1 -3.9 -3.5 -4 -4.5 -2.5 -5 -1 -6 .3z"/>
<path fill="#19d5cd" d="M-57 -57l114 0 0 114 -114 0 0 -114zM7.5 -50l-7.5 1 -8 -.6 -4 .2 -5 1.7 -4.5 3 -3.3 3.2 -5.1 6 -9.2 12 -3.2 5.5 -3.9 8 -1.6 4 -.7 3.3 .2 4.7 1.7 3.5 9.1 8.1 6.1 8.4 3.2 3.5 3.8 3 3.9 2.3 8.5 3.8 4.5 2.5 3.5 .9 6 .2 4.5 -.6 2.5 -1.3 5 -3.7 4.5 -4.4 10 -12.1 10.4 -8.6 1.8 -2.5 .7 -2 -.1 -2 -.7 -2 -4.6 -9 -2.7 -6.5 -4.8 -17.5 -4 -8.3 -3.1 -3.7 -3.9 -2.6 -4.5 -1.3 -5.5 -.1z"/>
<path fill="#19e2bb" d="M-57 -57l114 0 0 114 -114 0 0 -114zM6.5 -50.6l-6.5 1 -8 -.7 -4.5 .2 -5.1 1.6 -4.8 3 -3.8 3.5 -7.3 8 -8.7 10.5 -3.5 5.5 -3.4 6.5 -1.6 4 -.9 4 .3 5.5 .9 2.5 1.2 2 1.5 1.5 6.2 4 3 2.5 6.7 8.5 2.8 2.9 4 3.1 3.5 2.1 9.5 4.3 4 2.4 3.5 .9 9.5 .1 2.5 -.5 2 -1 8 -6.8 8 -9.9 4 -4.2 8.3 -5.9 4.1 -3.5 1.5 -2 .6 -2 -.7 -4 -6.8 -13.5 -7 -19.5 -5 -9.5 -3.5 -3.8 -4 -2.3 -5 -1.2 -5.5 .2z"/>
<path fill="#20eaac" d="M-57 -57l114 0 0 114 -114 0 0 -114zM9.5 -51.5l-9.5 1.3 -8 -.9 -4.5 .2 -5.2 1.4 -4.8 2.6 -3.5 2.9 -8.7 8.5 -9.8 10.5 -3.5 5 -3.2 5.5 -2 4.5 -1 4 -.3 4 .6 4 1.4 3.5 2.2 3 10.3 6.4 2.5 2.4 6.3 7.7 4.9 4 5.1 3 8.7 4 3.5 2.4 3 1 11.5 .3 2.5 -.4 1.8 -.8 7.7 -6.8 11.5 -13.7 3.5 -2.9 5 -3.1 6.3 -4.5 1.8 -2 .7 -2 -.1 -2.5 -1 -3 -5.9 -11.5 -8.7 -20.5 -5.3 -9.5 -2.9 -3.5 -3.9 -2.7 -4.5 -1.5 -4.5 -.3z"/>
<path fill="#32f298" d="M-57 -57l114 0 0 114 -114 0 0 -58.4 1.7 5.9 3.1 4.5 2.2 1.8 6 3 3.5 2.3 2.5 2.3 5.6 6.6 2.9 2.7 5.9 3.8 10.1 5 4 2.8 2.1 .7 3.4 .3 11.5 .2 2 -.3 1.3 -.7 7.2 -7.1 7.5 -9.5 4.5 -4.7 3.5 -2.8 10.5 -6.4 2.7 -2 1.3 -2 .4 -2.5 -.4 -2.5 -.9 -2.5 -10.3 -21.5 -5.1 -10 -5.9 -10 -2.8 -3.4 -3 -2.3 -3.5 -1.6 -4 -.8 -4.5 0 -8 1.3 -8 -1 -5 .1 -5 1.2 -5 2.6 -3.9 2.9 -11.7 10.5 -9 9 -3.7 5 -2.9 5 -1.9 4.5 -.9 4.1 0 -50.1z"/>
<path fill="#46f884" d="M-57 -57l114 0 0 114 -114 0 0 -51.7 2.2 3.2 2.6 2.5 8.2 4.2 3.5 2.4 7.5 8.1 3.2 2.8 4.7 3 10.7 5.5 4.4 3.2 3 .8 16 .6 2 -.4 1.5 -1.2 7 -8.1 6.5 -8.5 4.8 -4.9 3.7 -2.8 13.5 -7.9 1.6 -2.3 .5 -3 -.3 -2.5 -.8 -2.5 -9.1 -19.5 -13.4 -22.2 -2.5 -3.2 -2.5 -2.2 -3.5 -1.9 -3.5 -1.1 -5.5 -.3 -9 1.4 -8 -1 -4.5 -.1 -4.5 .8 -4.7 1.8 -6.2 4 -18.5 15.5 -6.4 7 -4.2 6.7 0 -40.2z"/>
<path fill="#5dfc6f" d="M-57 -57l114 0 0 114 -114 0 0 -48.8 4.5 4.1 8 4 3.3 2.2 7.7 8 3 2.6 14.5 7.9 5.5 4.2 2.5 .6 9 0 9.5 .9 1.5 -.4 1.5 -1.3 12.1 -16 5.4 -5.7 5 -3.6 11.7 -6.2 1.8 -1.3 1.7 -2.7 .5 -3.5 -.3 -2.5 -.9 -2.8 -9.6 -20.7 -14.9 -22.2 -2.5 -2.8 -3.5 -2.4 -4.5 -1.7 -4.5 -.6 -11 1.5 -8.5 -1.2 -4.5 0 -4 .6 -3.5 1.1 -7 3.7 -17.4 13 -6.8 6 -5.3 6.3 0 -34.3z"/>
<path fill="#79fe59" d="M-57 -57l114 0 0 114 -114 0 0 -46.7 4.1 3.2 10.4 5.3 2.6 2.2 5.6 6 2.8 2.5 14 7.5 6.5 5.1 2.5 .5 10 -.2 9.5 1.4 1.5 -.4 2 -1.8 11.5 -15.9 5.3 -5.7 5.7 -4.1 11.9 -5.9 1.6 -1.2 2 -3.3 .7 -4 -.3 -2.5 -1 -3 -6.3 -15 -2.9 -5.5 -12.2 -16.1 -4.5 -6.8 -3 -3 -3 -1.9 -4.5 -1.6 -4.5 -.5 -11 1.3 -8.5 -1.1 -4.5 -.1 -4 .5 -3.5 .9 -7.5 3.5 -15.3 10.4 -8 6 -5.7 5.6 0 -29.6z"/>
<path fill="#8fff49" d="M-57 -57l114 0 0 114 -114 0 0 -44.9 4 2.7 10 5 2.7 2.2 8 8 14.2 7.5 6.6 5.5 2.5 .4 10.5 -.4 10 1.6 2 -.7 2 -1.9 10.8 -15.5 5.5 -6 6.2 -4.4 11 -5.1 2.2 -1.5 1.6 -2 1 -2 .7 -4.5 -.3 -3 -1 -3 -5.4 -13.5 -3.3 -6.5 -13.5 -16.3 -4.9 -7.2 -2.6 -2.5 -3 -1.9 -4.5 -1.7 -4.5 -.6 -11.5 1.3 -12 -1.3 -4.5 .3 -4 .8 -6 2.3 -6.7 3.8 -15.7 10 -8.1 6.5 0 -25.5z"/>
<path fill="#a4fc3c" d="M-57 -57l114 0 0 114 -114 0 0 -43.4 3.5 2.2 10 4.9 2.5 2 8 7.9 14 7.2 7.5 6.1 2.5 .2 10 -.5 10.5 1.8 2.5 -.9 2.3 -2 10.5 -15.5 5.7 -6.2 6 -4.2 11.2 -5.1 2.8 -2 2.5 -4 .9 -5 -.4 -3.5 -1.1 -3.5 -4.8 -12.5 -3.7 -7 -13.4 -15 -6 -8.3 -3 -2.7 -3 -1.9 -4 -1.4 -4.5 -.7 -4 .2 -8 1 -12 -1.3 -4.5 .2 -4 .7 -6 1.9 -6.6 3.3 -15.6 9 -8.3 5.8 0 -21.8z"/>
<path fill="#b4f836" d="M-57 -57l40.6 0 -7.1 1.3 -7.2 2.7 -16.7 8.5 -9.6 5.9 0 -18.4zM-10.6 -57l67.6 0 0 54.1 -1 -4.1 -3.5 -9.5 -2.2 -5 -2.5 -4.5 -3.2 -4 -11.1 -11.4 -5.6 -7.6 -3.4 -3.3 -5 -2.9 -5.5 -1.4 -5 -.1 -9.5 1 -10.1 -1.3zM57 2.5l0 54.5 -114 0 0 -41.9 13 6.4 2.5 2 8 7.9 13.5 6.5 8 6.5 2.5 .4 10 -.7 9 1.8 2.5 .1 2.7 -1 2.8 -2.5 9.5 -14.5 4.6 -5.5 3.4 -2.9 3.5 -2.3 4.5 -2.3 7 -2.9 2.5 -1.5 2.9 -3.6 1.6 -4.5z"/>
<path fill="#c3f134" d="M-57 -57l33.5 0 -6 1.8 -7.5 3.2 -12 5.7 -8 4.4 0 -15.1zM-3.5 -57l7.1 0 -3.6 .3 -3.5 -.3zM16.7 -57l40.3 0 0 47.7 -4.5 -11.7 -2.5 -4.5 -2.5 -3.5 -13 -12.9 -5.5 -7.1 -2.8 -3 -4.2 -3 -5.3 -2zM56.8 6.5l.2 50.5 -114 0 0 -40.6 12.5 6 2.5 1.9 7.8 7.7 13.2 6.1 8.9 6.9 2.6 .4 10 -.7 9 1.8 2.5 .1 3.3 -1.1 2.8 -2.5 9.7 -15 5.7 -6.4 3.4 -2.6 3.6 -2.1 11.5 -5.1 2.7 -2.3 2.1 -3z"/>
<path fill="#d4e735" d="M-57 -57l28.3 0 -14.4 5.5 -13.9 6.5 0 -12zM19.7 -57l37.3 0 0 42.4 -3.9 -8.9 -4.6 -6.6 -13 -12.4 -8.5 -10 -3.5 -2.6 -3.8 -1.9zM57 8l0 49 -114 0 0 -39.3 12 5.5 10.5 9.6 13 5.7 9 7 3 .5 10 -.8 9 1.9 2.5 .2 3.5 -1.1 3.3 -2.7 9.9 -15.5 2.8 -3.5 3 -2.9 6.5 -4.3 11.2 -4.8 2.7 -2 2.1 -2.5z"/>
<path fill="#e1dd37" d="M-57 -57l23 0 -13 4.7 -10 4.3 0 -9zM22 -57l35 0 0 37.7 -3.5 -6.7 -4.2 -5.5 -12.8 -11.7 -8.5 -9.7 -3 -2.4 -3 -1.7zM56.9 9.5l.1 47.5 -114 0 0 -38.1 11.5 5.2 10.5 9.4 13 5.4 3 2 4.5 4 1.9 1.1 3.1 .5 10 -.7 9 1.9 3 .1 3.9 -1.3 3.1 -2.6 2.5 -3.4 7.2 -12 2.8 -3.5 3 -3 6.5 -4.3 11.2 -4.7 4.2 -3.5z"/>
<path fill="#eecf3a" d="M-57 -57l16.9 0 -16.9 6.1 0 -6.1zM24 -57l33 0 0 33.8 -3.3 -5.3 -3.8 -4.5 -12.5 -11 -8.7 -9.5 -4.7 -3.5zM56.6 11l.4 -.4 0 46.4 -114 0 0 -36.9 11 4.9 10.5 9.1 13 5.3 9.5 7 3.5 .6 10 -.7 9 2 3 .1 2.1 -.4 2.3 -1 3.5 -3 2.5 -3.5 7.2 -12 2.8 -3.5 3.1 -3 5 -3.4 11.2 -4.6 4.4 -3z"/>
<path fill="#f6c33a" d="M-57 -57l9.7 0 -9.7 3.3 0 -3.3zM25.9 -57l31.1 0 0 30.5 -2.9 -4 -3.6 -4 -11.5 -9.8 -8.8 -9.2 -4.3 -3.5zM56.6 12l.4 -.3 0 45.3 -114 0 0 -35.7 10 4.3 11 9.1 13 5.1 3 1.9 5 4.1 2 1.1 3.5 .6 10 -.7 8.5 1.9 3.5 .3 2.5 -.5 2 -.8 4 -3.2 2.5 -3.5 7.4 -12.5 2.8 -3.5 2.8 -2.7 5.5 -3.6 10.5 -4.1 4.1 -2.6z"/>
<path fill="#fbb637" d="M-57 -57l1.3 0 -1.3 .4 0 -.4zM27.7 -57l29.3 0 0 27.7 -5.5 -6.3 -12 -10.1 -8 -8.1 -3.8 -3.2zM56.5 13l.5 -.4 0 44.4 -114 0 0 -34.5 10 4.4 7.9 6.6 3.1 2.1 10 3.5 3.5 1.6 6.8 5.3 2.7 1.5 4 .6 9.5 -.8 9 2.1 3.5 .1 4.5 -1.3 4 -3.2 2.9 -4 7 -12 2.7 -3.5 3.1 -3 5.3 -3.5 10 -3.7 4 -2.3z"/>
<path fill="#fea431" d="M29.5 -57l27.5 0 0 25.1 -5 -5.3 -11.5 -9.4 -11 -10.4zM56.3 14l.7 -.5 0 43.5 -114 0 0 -33.3 9.5 4.2 7.7 6.1 3.8 2.4 13 4.7 7 5.3 2.5 1.4 4 .8 10 -.8 8.5 2 4 .3 2.5 -.4 2.5 -1 4 -3.2 3 -4 7.2 -12.5 2.8 -3.5 3 -2.9 5 -3.2 9.5 -3.5 3.8 -1.9z"/>
<path fill="#fe932a" d="M31.3 -57l25.7 0 0 22.6 -4.5 -4.4 -11.5 -9.3 -9.7 -8.9zM56.8 14.5l.2 42.5 -114 0 0 -32.1 9 4 8.2 6.1 3.3 1.9 10 3.3 3.5 1.5 7 5.3 2.5 1.3 4.5 .7 9.5 -.7 9 2.2 4 .2 2.5 -.5 2.5 -1.1 2.4 -1.6 2.1 -2 2.9 -4 7.2 -12.5 2.7 -3.5 2.6 -2.5 5.1 -3.2 9.2 -3.3 4.1 -2z"/>
<path fill="#fb7e21" d="M33.2 -57l23.8 0 0 20.3 -23.8 -20.3zM56.4 15.5l.6 -.3 0 41.8 -114 0 0 -31 8 3.6 8.5 5.9 3.5 2 13.5 4.6 7 5.2 3 1.5 4.5 .7 9.5 -.7 8.5 2.1 4.5 .3 3 -.5 2.5 -1.1 4.5 -3.6 3 -4.1 7 -12.4 2.7 -3.5 2.8 -2.7 5 -3.2 9 -3 3.4 -1.6z"/>
<path fill="#f66c19" d="M35.2 -57l21.8 0 0 18.1 -21.8 -18.1zM56.9 16l.1 41 -114 0 0 -29.8 7.5 3.3 11.9 7.5 14.1 4.7 7 5.2 3 1.5 4.5 .6 9.5 -.7 9 2.3 4.5 .2 3 -.6 2.5 -1.1 4.5 -3.6 3.3 -4.5 7.1 -12.5 2.7 -3.5 2.5 -2.5 4.9 -3 8.5 -2.8 3.9 -1.7z"/>
<path fill="#f05b12" d="M37.3 -57l19.7 0 0 15.8 -19.7 -15.8zM56.4 17l.6 -.3 0 40.3 -114 0 0 -28.6 7 3.1 12 7.1 14 4.5 7 5.1 3.5 1.7 4.5 .6 9 -.8 9.5 2.4 4.5 .3 3 -.6 2.5 -1 2.5 -1.5 2.5 -2.3 3.4 -4.5 7.3 -13 2.7 -3.5 2.6 -2.5 4.5 -2.6 11.4 -3.9z"/>
<path fill="#e7490c" d="M39.5 -57l17.5 0 0 13.7 -17.5 -13.7zM56.9 17.5l.1 39.5 -114 0 0 -27.4 6.5 2.8 12 6.7 14.5 4.6 7 5.1 3.5 1.6 4.5 .6 9 -.8 9.5 2.5 5 .2 3 -.6 3 -1.3 2.5 -1.6 2.5 -2.4 3.2 -4.5 7 -12.5 2.6 -3.5 2.5 -2.5 4.2 -2.5 11.9 -4z"/>
<path fill="#dd3d08" d="M42 -57l15 0 0 11.5 -15 -11.5zM56.3 18.5l.7 -.3 0 38.8 -114 0 0 -26.3 6 2.6 12 6.4 14.5 4.4 7.5 5.3 3.5 1.5 4.5 .7 9 -.9 9.5 2.6 5.2 .2 2.8 -.5 3 -1.2 2.8 -1.8 2.7 -2.5 3.5 -4.9 7 -12.6 4.6 -5.5 4.4 -2.6 10.8 -3.4z"/>
<path fill="#d02f05" d="M44.6 -57l12.4 0 0 9.3 -12.4 -9.3zM56.9 19l.1 38 -114 0 0 -25.1 18 8.6 14.5 4.3 7 4.9 3.5 1.6 5 .8 9 -.8 9.5 2.5 5.5 .3 3 -.6 3 -1.3 2.8 -1.7 2.7 -2.5 3.6 -5 7.2 -13 2.2 -3 2.5 -2.5 4 -2.2 10.9 -3.3z"/>
<path fill="#c32503" d="M47.4 -57l9.6 0 0 7.1 -9.6 -7.1zM56.1 20l.9 -.3 0 37.3 -114 0 0 -23.9 17.5 8 14.5 4.1 7 4.8 4 1.8 5 .8 9 -.7 9.5 2.5 6 .2 3 -.6 3 -1.3 3 -1.9 2.5 -2.3 3.7 -5 7.4 -13.5 4.3 -5 3.6 -2.1 10.1 -2.9z"/>
<path fill="#b41b01" d="M50.4 -57l6.6 0 0 4.8 -6.6 -4.8zM56.7 20.5l.3 -.1 0 36.6 -114 0 0 -22.8 17 7.5 15 4.2 7 4.7 4 1.8 5 .7 9 -.6 9.5 2.5 6 .2 3.5 -.7 3 -1.3 3 -1.9 2.5 -2.3 4 -5.5 7.1 -13 4.4 -5.2 3.5 -2 10.2 -2.8z"/>
<path fill="#a11201" d="M53.5 -57l3.5 0 0 2.6 -3.5 -2.6zM55.9 21.5l1.1 -.4 0 35.9 -114 0 0 -21.6 16.5 6.9 15 4.1 7.5 4.8 4.5 1.9 4.5 .5 9 -.4 8 2.1 4 .6 3.5 -.1 3.5 -.7 5.5 -2.6 4.8 -4.5 3.4 -5 6.4 -12 4 -5 3.4 -2 9.4 -2.5z"/>
<path fill="#8e0a01" d="M56.6 -57l.4 .3 -.4 -.3zM56.6 22l.4 -.1 0 35.1 -114 0 0 -20.5 16.5 6.6 14.5 3.8 8 5 4.5 1.7 4.5 .6 9 -.4 8 2.1 4 .6 4 -.1 3.5 -.7 5.5 -2.7 4.8 -4.5 3.5 -5 6.7 -12.5 3.6 -4.5 3.4 -2 9.6 -2.5z"/>
<path fill="#7a0403" d="M55.8 23l1.2 -.4 0 34.4 -40.6 0 3.6 -.8 3.5 -1.5 3 -2 3 -2.7 4 -5.5 7.4 -13.5 3.6 -4.3 3 -1.6 8.3 -2.1zM-57 38l0 -.4 16.5 6.3 14 3.6 8 4.7 4.5 1.9 5 .7 9 -.3 10.8 2.5 -67.8 0 0 -19z"/>
</g>
<path class="cl" d="M5 -47.5l-5 .5 -7 -.3 -3.5 .4 -4.5 1.8 -3.8 3.1 -5.4 7.5 -7.3 13.5 -2.9 7.5 -3.3 12 .3 4 1.4 4 6.5 12.5 3.8 5 3.5 3 4.2 2.4 11 4.9 5 1.1 4.5 -.1 3.5 -1 4.5 -2.7 4.5 -3.6 4.7 -5.5 7.3 -10.5 2.2 -4 .8 -3 -.4 -7 -3.9 -15 -.3 -4.5 .3 -10 -.7 -4 -1.3 -3.5 -3.1 -4.5 -4.1 -2.8 -5.5 -1.4 -6 .2M6.5 -51.6l-6.5 1.1 -8.5 -.9 -5 .2 -5.5 1.7 -5 3 -15.2 14 -7.4 8 -6.4 10 -1.8 4.5 -.9 4 -.1 4.5 .9 4 1.5 3.5 2.4 3.1 11 6.6 8.5 9.6 5 4 14 7.2 3.5 2.5 3 .8 12.5 .3 3.8 -1.1 7.7 -7.2 11 -13.2 4 -3.3 12 -7.8 1.7 -2 .7 -2 -.2 -3 -1.1 -3 -5.2 -10 -9.5 -21 -6.4 -11 -3.5 -3.7 -4.5 -2.5 -5 -1.1 -5.5 .2M-57 14.4l13 6.5 3 2.4 7.7 7.7 13.8 6.8 7.5 6.3 2.5 .4 10.5 -.6 8.5 1.7 2.5 .1 2.5 -1 2.4 -2.2 10.3 -15.5 5.5 -6 6.3 -4.3 11 -5 3 -2.2 2.7 -4.5 .8 -5 -.7 -5 -3.6 -10 -2.8 -6.5 -2.9 -5 -13.5 -14.6 -7 -9.3 -3.5 -2.8 -4.5 -2.1 -7 -1.1 -12 1.1 -12 -1.3 -8.5 1 -6 2 -6.5 3.1 -14.5 8 -8.5 5.6M-51.4 -57l-5.6 1.8M57 -28l-6 -7 -12 -10.2 -8 -8.3 -4.2 -3.5M-57 21.9l10 4.4 10.7 8.7 13.3 5.1 7.8 5.9 2.2 1.2 4 .6 9.5 -.8 9 2.1 3.5 .1 4.5 -1.4 4 -3.3 2.5 -3.5 7 -12 5.8 -6.5 5.2 -3.5 10.5 -4.1 4.5 -2.7M57 -42.2l-18.6 -14.8M-57 29l7 3.1 12 6.9 14 4.4 7.1 5.1 3.4 1.6 4.5 .7 9 -.8 9.5 2.4 5 .2 5.5 -1.7 5 -3.9 3.3 -4.5 7.3 -13 4.8 -5.5 4.6 -2.8 12 -4.1M57 -55.6l-2 -1.4M-57 35.9l16.5 6.8 15 4 7.4 4.8 4.1 1.7 5 .7 9 -.4 10 2.5 6 .1 3.5 -.8 3.2 -1.3 3 -2 2.8 -2.5 4 -5.5 7.1 -13 4.1 -5 3.3 -1.8 10 -2.7"/>
</g>
<use href="#head"/>
</g>
<g transform="translate(453.0 98.0)">
<circle r="54" fill="#e6e8fa" fill-opacity=".5" filter="url(#b2)"/>
<g clip-path="url(#cd)"><g filter="url(#b1)">
<rect x="-57" y="-57" width="114" height="114" fill="#acfb38"/>
<path fill="#b1f936" d="M-40.8 -56.5l.7 -.5 97.1 0 0 114 -114 0 0 -56.2 2 -1.5 1.5 -1.8 1 -2 .4 -2.5 -.8 -4 -4.1 -10.5 0 -15.7 2.3 -5.3 3.4 -5 4.4 -4.5 6.1 -4.5z"/>
<path fill="#b7f735" d="M-18.8 -56.5l.5 -.5 58.9 0 16.4 6.7 0 107.3 -114 0 0 -48.8 5.1 -2.2 4.7 -3.5 3.1 -4 1.3 -4 0 -2 -.7 -2.5 -5 -9.5 -1.7 -4.5 -.5 -5 .9 -5 1.3 -3 1.9 -3 2.3 -2.5 2.8 -2.3 5.5 -3.1 11.5 -4.4 2.8 -1.7 2.9 -2.5z"/>
<path fill="#bcf534" d="M-4.3 -56.5l.8 -.5 15.2 0 11.8 6.1 15 5.7 18.5 8.3 0 93.9 -114 0 0 -44.3 7 -2.8 7 -4.9 4.4 -4.5 1 -2 .7 -2.5 .1 -3 -.5 -3 -4.9 -10 -1.7 -5 -.1 -3.5 1.1 -3.5 1.5 -2.5 1.9 -2.1 2.5 -1.9 3 -1.5 5.5 -1.5 9.5 -.5 2.7 -1 2.8 -2.6 6 -8 3.2 -2.9z"/>
<path fill="#c1f334" d="M.5 -46.5l2 -.5 2.5 .3 12 5.3 10.5 2 5.5 1.6 5 2.2 10.4 6.1 8.6 4.1 0 82.4 -114 0 0 -40.5 8.5 -3.8 10.2 -6.7 3.8 -3.5 1.9 -4 .3 -3.5 -.5 -4 -3.8 -10.5 -.9 -3.5 0 -3.5 1 -3 3 -3.5 4 -2.1 4.5 -.8 8 .1 3.9 -1.2 4.3 -2.5 6.8 -5.4 2.5 -1.6z"/>
<path fill="#c6f034" d="M2.2 -36.5l4.3 .1 9.5 2 8 .9 6 1.7 5.5 2.8 10 7.2 11.5 7.1 0 64.5 -11 .4 -22.5 -2.2 -7 -.1 -2.4 .6 -1.6 .9 -7 6.3 -2.5 1 -2 .1 -2 -.5 -1.7 -1.3 -1.3 -2 -2.3 -5.5 -1.7 -1.4 -1.5 -.3 -1 .2 -1 .9 -1.2 2.6 -.4 3.5 .4 4 -44.3 0 0 -37.2 6.3 -2.8 5.3 -3 12 -7.5 2.4 -2 1.1 -1.5 1.3 -3.5 .4 -4 -.7 -4.5 -3.5 -12 .1 -3.5 1.3 -3 2.5 -2.5 3 -1.3 12.5 -1.3 11.5 -3.3 3.7 -.6z"/>
<path fill="#cbed34" d="M0 -30l6.5 -.1 13 1.2 4.5 .9 3.5 1.3 6.5 4.3 22.5 19.9 .5 .6 0 31 -6 3.2 -8 2.2 -27.5 2.9 -12.5 2.9 -9.5 -.3 -4 .7 -3.5 2.2 -3 4 -1.8 4.6 -.9 5.5 -37.3 0 0 -34.1 8 -3.9 17.9 -10.5 2.7 -2 2 -2.5 1.7 -4 .5 -4.5 -.6 -4.5 -3 -10.5 0 -3 .9 -2.5 2.1 -2 3.3 -1.2 10.5 -.5 11 -1.3z"/>
<path fill="#d0ea34" d="M-5.7 -24l11.2 -.3 13 .7 4 .9 3.7 2.2 3.3 2.9 3.3 3.6 10 12.5 3.4 5 1.7 3.5 .6 3 -.5 3 -1.2 2.5 -2.1 2.5 -3.2 2.5 -3.5 2 -5 2.2 -8.5 2.8 -21 6.1 -10.5 2.1 -4.5 1.9 -4.5 3.6 -4.2 5.3 -1.9 4 -1.8 6.5 -33.1 0 0 -31 8.5 -4.5 10 -6.3 10.1 -5.2 3.4 -2.5 2.2 -2.5 2.1 -4 .9 -5 -.4 -5.5 -2.5 -10 .1 -2 .9 -1.5 3.2 -.9 12.8 -.1z"/>
<path fill="#d4e735" d="M.9 -17.5l8.1 .1 6.7 .9 4.3 1.7 3.5 2.9 4.5 6.4 1.9 4 1.1 3.5 .3 3 -.2 2.5 -.8 2.5 -1.5 2.5 -4 4 -6.3 4 -7 3.3 -17 6.6 -3.5 1.8 -3.5 2.5 -4.5 4.2 -5.7 7.1 -1.8 3.5 -3 7.5 -29.5 0 0 -27.9 18 -11.2 13 -6.1 5.1 -3.3 2.9 -3 2.3 -4 1.4 -4.5 1.4 -8.5 1.4 -2.9 1.5 -1.1 2.7 -1 8.2 -1z"/>
<path fill="#d9e436" d="M2.4 -7l3.7 0 3.7 1 3 2 1.9 2.5 .9 3 -.1 3.5 -1.1 3 -2.4 3.3 -4.4 3.7 -11.1 6.7 -7.5 6.8 -5 5.7 -8.5 10.9 -6.6 11.9 -25.9 0 0 -24.4 5 -3.8 14.5 -9.5 5 -2.2 13.1 -4.6 5.4 -2.7 4.1 -3.8 6.4 -10 2.5 -1.9 3.4 -1.1z"/>
<path fill="#dde037" d="M-22.2 17.5l4.2 .3 2.7 1.7 .9 2.5 -.6 4 -2.2 5 -3.3 5.5 -14.8 20.5 -21.7 0 0 -20.1 .7 -.9 6.5 -6 11.8 -8.3 7 -2.8 8.8 -1.4z"/>
<path fill="#e1dd37" d="M-27.6 21l3.1 .3 2.5 1 1.6 1.7 .7 2.5 -.3 3 -1.3 4 -2.1 4 -2.7 4 -8.4 10 -3.5 3.1 -3.5 2.3 -13.4 .1 -2.1 -3.3 0 -8.8 1.7 -4.4 2.9 -4.5 5.3 -5.5 8.1 -6.2 5.5 -2.4 5.9 -.9z"/>
<path fill="#e5d938" d="M-33.3 24l3.3 -.3 2.5 .3 2.1 1 1.4 1.5 .7 2 .1 2.5 -.7 3 -1.3 3 -2.3 3.5 -3 3.7 -3.5 3.3 -3 2.3 -3.5 1.8 -3 .7 -2.5 .1 -2.5 -.9 -2.2 -2 -1.2 -3.5 .3 -4 1.8 -4.5 3.1 -4.5 4.7 -4.4 4.5 -3.1 4.2 -1.5z"/>
<path fill="#e9d539" d="M-34.7 26.5l2.2 -.4 2.5 .3 1.6 .6 1.4 1.3 .9 1.7 .2 2 -1.2 4.5 -3.4 4.9 -4.5 3.8 -2.5 1.3 -2.5 .7 -2 .1 -2 -.4 -2 -1.5 -1.1 -2.4 0 -3 1.1 -3.5 2.2 -3.5 2.8 -2.9 3 -2.2 3.3 -1.4z"/>
<path fill="#ecd13a" d="M-35.7 29l3.2 -.4 2.5 1 1.4 2.4 -.3 3.5 -2 3.5 -3.1 2.6 -3.5 1.5 -3 -.2 -1.4 -.9 -1 -1.5 -.3 -2 .5 -2.5 1.3 -2.5 1.7 -2 1.9 -1.5 2.1 -1z"/>
<path fill="#eecf3a" d="M-35.6 31.5l2.1 -.2 1.4 .7 .8 1.5 0 1.5 -.7 1.6 -1.5 1.6 -1.6 .8 -1.9 .2 -1 -.3 -.9 -.9 -.2 -2.5 1.3 -2.5 2.2 -1.5z"/>
</g>
<path class="cl" d="M51.1 -57l5.9 2.3M-57 6.4l4.3 -1.9 3.7 -2.9 2.5 -3.1 1.3 -3.5 -.5 -4.5 -5.2 -10.5 -1.7 -6 0 -6 2.1 -6.2 3.3 -4.8 4.7 -4.3 4.5 -2.7 9.7 -4.5 4.2 -2.5M-57 18.2l6.5 -2.8 5.9 -3.4 9.8 -6.5 3.2 -3.5 1.3 -4 -.1 -4.5 -.8 -4 -3.2 -9.5 -.4 -5 .7 -2.5 1.6 -2.5 2 -1.7 2.9 -1.3 3.6 -.7 10 -.7 4 -1.3 10 -4.5 2.5 -.5 3 0 11 3.4 9.5 1.1 6 1.8 5.5 2.7 9.5 6.3 10 5.3M-57 26.9l9 -4.9 9.5 -6.1 11.5 -5.8 2.9 -2.1 2.3 -2.5 2.3 -4 1.2 -5 -.1 -5.5 -1.7 -9.5 .3 -1.5 .8 -1 3.5 -.8 15 -.6 15.5 .4 6.5 1.2 5 3.3 6.7 8 5.5 8 2.8 5 1 3 .3 3 -.5 2.5 -1.4 2.5 -4.8 4.5 -8.6 4.5 -21.9 7.5 -12.6 3.4 -5 2.5 -4.5 3.8 -4.6 5.8 -1.9 4 -2 6.5M-57 37.4l3.5 -3.9 4 -3.5 9 -6.6 4.5 -2.5 6 -2 6.5 -.9 4 .1 3 1.4 1.2 2 .2 2.5 -.9 3.5 -1.8 4 -4.6 7.5 -13.4 18M-33.4 26l4.4 .4 1.7 1.1 1.1 1.5 .5 4 -1.7 4.5 -3.6 4.7 -5 3.9 -5 1.7 -2 -.1 -2 -.7 -1.9 -2 -.7 -2.5 .3 -3.5 1.5 -3.5 2.6 -3.5 3.2 -3 3.5 -2.1 3.1 -.9M-35 34.5l.7 0 -.2 .6 -.6 -.1 .1 -.5"/>
</g>
<use href="#head"/>
</g>
</g>
<g id="row-b">
<text class="t" x="58.2" y="237.5" textLength="22.6" lengthAdjust="spacingAndGlyphs">HC</text>
<text class="t" x="256.1" y="236.4" textLength="28.4" lengthAdjust="spacingAndGlyphs">MCI</text>
<text class="t" x="453.1" y="236.4" textLength="48.7" lengthAdjust="spacingAndGlyphs">p-value</text>
<text class="l" x="272.2" y="400.9">(b)</text>
<rect x="317.8" y="216.7" width="5.9" height="176" fill="url(#gt)"/>
<rect x="514.7" y="216.7" width="5.9" height="176" fill="url(#gp)"/>
<text class="k" x="326.7" y="219.6">40.7</text>
<text class="k" x="326.7" y="263.6">39.1</text>
<rect x="317.8" y="260.4" width="5.9" height=".6" fill="#000" fill-opacity=".18"/>
<text class="k" x="326.7" y="307.6">37.6</text>
<rect x="317.8" y="304.4" width="5.9" height=".6" fill="#000" fill-opacity=".18"/>
<text class="k" x="326.7" y="351.6">36.1</text>
<rect x="317.8" y="348.4" width="5.9" height=".6" fill="#000" fill-opacity=".18"/>
<text class="k" x="326.7" y="395.6">34.6</text>
<text class="p" x="523.4" y="219.2">1</text>
<text class="p" x="523.4" y="277.9">0.1</text>
<rect x="514.6" y="275.1" width="6" height=".6" fill="#000" fill-opacity=".18"/>
<text class="p" x="523.4" y="336.6">0.01</text>
<rect x="514.6" y="333.7" width="6" height=".6" fill="#000" fill-opacity=".18"/>
<text class="p" x="523.4" y="394.3">0.001</text>
<g transform="translate(58.3 304.7)">
<circle r="54" fill="#e6e8fa" fill-opacity=".5" filter="url(#b2)"/>
<g clip-path="url(#cd)"><g filter="url(#b1)">
<rect x="-57" y="-57" width="114" height="114" fill="#30123b"/>
<path fill="#372466" d="M-57 -57l114 0 0 114 -114 0 0 -114zM5.5 -39l-9 1.1 -1.5 .6 -1.2 1.3 -2.8 9 -2.5 12.5 -1.5 2.8 -6.3 8.7 -1.3 3 -.6 3 .1 3.5 .9 3 1.7 2.8 2.4 2.7 3.1 2.5 4 2.3 4 1.5 4 .8 3.5 -.2 4.1 -1.9 5.1 -4.5 2.1 -3.5 .5 -2.5 -.1 -3 -3.1 -11 -.4 -4 1.2 -3.5 4.9 -8 1.9 -9.5 -.3 -2.5 -3 -3 -2.1 -3.5 -2.8 -.8 -5 .3z"/>
<path fill="#3d358b" d="M-57 -57l114 0 0 114 -114 0 0 -114zM5.5 -40.1l-10.4 1.1 -1.1 .5 -1.5 1.5 -1.1 2 -2.2 7 -2.3 13 -1.4 2.3 -6.5 8.2 -1.4 3 -.8 3.5 .1 3.5 1.1 3.8 1.9 3.2 2.7 3 3.8 3 4.1 2.3 4.5 1.6 4.5 .8 2.5 .1 2 -.5 5.1 -2.8 3.9 -3 1.9 -2 1.4 -2.5 .6 -2.5 0 -2.5 -.6 -3 -3.3 -9.5 -.5 -3.5 .6 -2 3.5 -5.5 1.6 -3.5 .7 -5.5 1.1 -4.5 0 -2.5 -.5 -1 -3.5 -2.8 -1.4 -3.2 -1.1 -.8 -3 -.6 -5 .3z"/>
<path fill="#4249b1" d="M-57 -57l114 0 0 114 -114 0 0 -114zM6 -41l-11.2 1 -2.2 1 -2 2 -1.4 2.5 -1.9 5.5 -2.3 13 -1.5 2.5 -6.5 8 -1.5 3 -.8 3.5 .2 4 1.3 4 2.1 3.5 3.1 3.5 3.8 3 4.5 2.5 4.8 1.7 5 1 3 0 3.5 -1 8.3 -4.7 2.2 -1.8 1.5 -1.9 1.1 -2.3 .6 -2.5 0 -2.5 -.5 -3 -3.7 -9.5 -.6 -3 .4 -2 2.8 -5 1.3 -3.5 .5 -6 1.3 -5 -.1 -2.5 -1.1 -2 -3.4 -2.5 -1.3 -3 -1.1 -1 -3.2 -.9 -5 .4z"/>
<path fill="#4559cb" d="M-57 -57l114 0 0 114 -114 0 0 -114zM7 -42l-13 1.3 -2.7 1.2 -2.8 2.5 -1.6 2.5 -1.4 3.5 -2 11.1 -.9 2.9 -1.5 2.5 -6.4 8 -1.6 3 -.7 3 .2 4 1.3 4 2.5 4.5 3.4 4 4.2 3.4 4.5 2.6 5.4 2 5.1 1.1 3.5 0 4 -.9 5 -2.2 5.4 -3 2.1 -1.8 1.7 -2.2 1.3 -3 .6 -3 -.5 -5.5 -3.4 -8.5 -.6 -3 2.6 -9.5 .2 -6.5 1.4 -5.5 -.3 -3 -1.2 -2 -3.4 -2.5 -1.5 -3 -1.4 -1.3 -3 -.9 -4.5 .2z"/>
<path fill="#466be3" d="M-57 -57l114 0 0 114 -114 0 0 -114zM9.5 -43l-16 1.5 -3.5 1.5 -3.7 3 -1.5 2 -1.3 3 -2.3 10.5 -1 3 -1.8 3 -6.3 8 -1.6 3 -.7 2.5 .1 3.5 1.5 4.5 3.2 5.5 3.7 4.5 4.1 3.5 4.6 2.7 5 2.1 5.5 1.4 4.5 .3 4 -.6 5.4 -1.9 6.6 -3.1 2.5 -1.9 2 -2.5 1.7 -3.5 1.2 -4 .3 -3.5 -.4 -3 -3 -8 -.5 -3 .6 -8 -.5 -6.5 1.5 -5.5 -.4 -3.5 -1 -2 -3.6 -3 -2.9 -4 -2.5 -1.2 -3.5 -.3z"/>
<path fill="#477bf2" d="M-57 -57l114 0 0 114 -114 0 0 -114zM7 -43.5l-14.7 1.5 -4.4 2 -3.9 3 -2.4 4.5 -2.6 9.3 -1.3 3.2 -1.9 3 -6.7 8.5 -1.6 3 -.7 3 .3 3.5 2 4.5 4.8 7 4.6 5.1 4.5 3.4 4.7 2.5 5.5 2 5.8 1.2 4.5 0 4.5 -.9 8.5 -3 4.3 -2.3 2.5 -2.5 2.4 -4 2.2 -5.5 1 -4.5 -.2 -4.5 -3.3 -9.5 -2 -12 0 -2 1.1 -5 -.6 -4 -1.7 -2.5 -3.2 -3 -1.8 -2.5 -1.7 -1.5 -3.5 -1.2 -5 .2z"/>
<path fill="#458afc" d="M-57 -57l114 0 0 114 -114 0 0 -114zM10 -44.5l-17.5 1.6 -4.5 1.6 -4.5 2.9 -1.7 1.9 -1.5 2.5 -5.2 12.5 -8.7 11 -2.1 3.5 -1.1 3 .2 3.5 1.7 3.5 7.7 10 4.7 5 3.8 3 4.4 2.5 5.3 2.1 5.5 1.5 5.5 .5 5 -.6 10 -3 4.5 -2.1 2.6 -2.4 3 -4.5 3.7 -7.5 1.8 -5.5 .3 -3 -.5 -3 -4.6 -10 -2.4 -7.5 -.2 -2 .6 -6 -1.1 -4 -1.7 -2.5 -6.5 -6.7 -3 -1.4 -3.5 -.4z"/>
<path fill="#3e9bfe" d="M-57 -57l114 0 0 114 -114 0 0 -114zM7.5 -45l-16 1.5 -5 1.8 -4 2.5 -3.4 4.2 -6.1 11.4 -10.7 12.1 -2.8 4 -1.2 3 .4 3 1.8 3 14.1 15 3.4 3.1 4.1 2.9 5.1 2.5 5.8 2 5.5 1.1 5 .2 5.5 -.9 9.5 -2.7 4.5 -2.2 3.5 -4 6.7 -11 2.6 -5 1.2 -4 -.1 -3 -.9 -3 -6 -9.3 -2 -4.1 -.6 -2.6 -.5 -7 -2.1 -4.5 -6.4 -7 -2.4 -1.9 -3.5 -1.2 -5 .1z"/>
<path fill="#35abf8" d="M-57 -57l114 0 0 114 -114 0 0 -114zM6 -45.5l-15.5 1.4 -4.7 1.6 -3.8 2.3 -3.2 3.2 -5.8 8.8 -3 3.8 -14 12.9 -1.9 3 -.9 3 .4 3.5 1.9 3 10 7.6 9.3 9.4 3.7 3.1 4.6 2.9 5.4 2.3 6 1.8 5.5 .9 5.5 -.1 6 -1.2 8 -2.2 4.5 -2.3 3 -3.2 11.5 -16.5 1.8 -3.5 .8 -3.5 -.3 -3.5 -1.2 -3 -1.9 -3 -4.7 -5.5 -2 -2.8 -1.2 -2.7 -2 -7.5 -3 -5 -5.8 -6.1 -3 -2.1 -4.5 -1.2 -5.5 .4z"/>
<path fill="#28bceb" d="M-57 -57l114 0 0 114 -114 0 0 -114zM8.5 -46.5l-7.5 1 -10.5 .6 -4.5 1.3 -4.1 2.1 -3.5 3 -6.4 8.1 -3.5 3.7 -11.9 8.7 -3.4 3 -2.9 4 -1.3 4 0 2.5 .6 2.5 .9 2 1.6 2 2.4 1.9 6.5 3.3 4 2.7 12.6 11.6 3.9 2.5 5.4 2.5 5.6 1.8 5.5 1.1 5.5 .3 6.5 -.8 9.5 -2.4 5 -2.3 2.5 -2.5 6.5 -8.9 8.3 -9.8 1.8 -3 1 -3.5 -.2 -4.5 -1.6 -4.5 -2.5 -3.5 -7.3 -7.8 -4.3 -8.7 -2.8 -4 -5.9 -6.3 -2.9 -2.2 -4.1 -1.4 -4.5 -.1z"/>
<path fill="#1fc9dd" d="M-57 -57l114 0 0 114 -114 0 0 -114zM7 -47l-6.5 .9 -10.5 .5 -4.5 1.2 -4 1.9 -3.8 3 -6.7 7.4 -3.5 3.1 -4 2.8 -8.3 4.7 -4.4 3.5 -2.3 2.5 -1.5 2.5 -1 2.5 -.4 2.5 .2 3.5 1 3.5 1.8 3 2.7 2.5 8.7 3.8 4 2.3 3.5 2.8 8.5 7.9 5 3.3 9 3.7 9.5 2 6 0 6.5 -.9 8.5 -2.2 4.6 -2.2 2.5 -2.5 7.9 -10.1 9.2 -9.4 2 -3.5 1 -4 .1 -3 -.6 -3 -2.5 -5.5 -2.9 -3.5 -7.3 -6.6 -6.2 -8.9 -3.9 -4.5 -4.5 -4.5 -3.4 -2.2 -4.5 -1.1 -5 .3z"/>
<path fill="#19d5cd" d="M-57 -57l114 0 0 114 -114 0 0 -61.3 2.3 5.3 3.7 4.2 2.5 1.6 7.5 2.5 4.5 2.3 4 3 8 7.4 3.7 2.5 5.8 2.8 6.8 2.2 6.7 1.3 5.5 .3 6 -.6 7.2 -1.5 5.3 -1.7 3.5 -1.9 10 -11.8 11 -10.1 2.7 -5 .8 -5.5 -.4 -4 -1.1 -3.5 -1.9 -3.5 -2.4 -3 -9.7 -7.8 -7.5 -8.7 -7 -7 -4.1 -2.5 -4.9 -1 -11 1.3 -10.5 .3 -4.2 .9 -3.8 1.5 -4.3 3 -6.7 6.5 -4 3.2 -4 2.5 -8.5 4.1 -5 3.3 -4.1 4.4 -2.4 5 0 -45z"/>
<path fill="#19e2bb" d="M-57 -57l114 0 0 114 -114 0 0 -56 2.7 3.5 3 2.5 2.8 1.4 7.5 2.2 4 1.9 4 2.9 8.5 7.6 5.9 3.5 6.4 2.5 7.2 1.9 6 .8 5.5 0 6 -.9 6.5 -1.4 4.5 -1.6 3 -1.8 10.5 -11.9 9.7 -7.6 2.4 -2.5 1.6 -2.5 1.2 -3 .8 -3 .3 -3.5 -.4 -4 -1.3 -4 -1.9 -3.5 -2.9 -3.6 -2.5 -2.2 -6 -3.6 -3 -2.3 -14.4 -14.3 -3.6 -2.1 -4 -1 -4 0 -9 1.3 -10 .1 -4 .7 -3.5 1.2 -4.8 2.8 -7.2 6.3 -4 2.9 -4.5 2.4 -8.1 3.4 -4.5 2.5 -3.9 3 -2.5 2.8 0 -37.8z"/>
<path fill="#20eaac" d="M-57 -57l114 0 0 114 -114 0 0 -53.2 3.4 3.2 3.1 2 8.5 2.3 5 2.3 4 2.9 8.6 7.5 6.9 3.8 7 2.4 7.5 1.7 6 .5 6 -.3 6.5 -1.1 5.5 -1.5 4 -1.6 2.7 -1.9 9.8 -11 4 -3.3 6.4 -4.2 2.6 -2.6 1.9 -2.9 1.6 -3.5 1 -3.5 .3 -4 -.5 -4.5 -1.4 -4 -2.4 -4 -3 -3.4 -3 -2.4 -6.5 -3.6 -3.5 -2.4 -14.4 -13.2 -3.6 -1.9 -3.5 -.9 -4.5 0 -9 1.3 -10.5 .1 -6.6 1.4 -5.4 2.8 -7 5.6 -4 2.7 -4.5 2.2 -11.8 4.7 -4.2 2.5 -3 2.3 0 -33.3z"/>
<path fill="#32f298" d="M-57 -57l114 0 0 42.9 -1 -3.4 -1.8 -3.5 -2.3 -3 -3 -3 -2.9 -2 -7.5 -3.9 -4 -2.5 -4.5 -3.6 -6.2 -6 -3.2 -2.5 -3.6 -1.8 -3.5 -.7 -4.5 0 -9 1.4 -11 -.1 -6 1.2 -5.5 2.5 -7.5 5.5 -4 2.4 -16.2 6.1 -6.8 3.7 0 -29.7zM57 -5l0 62 -114 0 0 -51.1 3 2.4 3 1.7 8.5 2.2 5 2.2 4 2.8 9 7.7 6.9 3.6 6.6 2.2 7.5 1.8 6 .6 6 -.2 6 -.9 5.9 -1.5 4.1 -1.6 3 -1.8 11 -11.7 3.5 -2.7 6.8 -4.2 2.3 -2 3.8 -5.5 2.1 -6z"/>
<path fill="#46f884" d="M-57 -57l114 0 0 36.4 -3.1 -4.4 -4.5 -4 -3.4 -2.1 -8.5 -4.1 -4 -2.5 -3.5 -2.6 -6 -5.7 -3 -2.3 -3.5 -1.6 -4 -.9 -4.5 0 -9 1.5 -11.5 -.2 -5.6 1 -5.9 2.5 -7 4.8 -4 2.2 -16.5 5.6 -6.5 3 0 -26.6zM56.9 .5l.1 56.5 -114 0 0 -49.5 5.5 3.3 9 2.4 4.5 1.9 4 2.7 9 7.6 6.8 3.6 6.2 2.1 7.5 1.8 6 .8 5.5 -.1 6 -.6 6 -1.3 4.5 -1.5 3.5 -1.9 2.7 -2.3 6.3 -7 3.5 -3.3 11.9 -7.7 3.1 -3.5 2.4 -4z"/>
<path fill="#5dfc6f" d="M-57 -57l114 0 0 32.5 -3.2 -3.5 -4 -3 -12.3 -5.9 -6 -3.6 -9.5 -8.2 -4 -1.9 -4.5 -1 -5 .2 -8.5 1.5 -10.5 -.5 -7 1 -5.5 2.1 -7.5 4.7 -4 2 -16.5 5 -6 2.3 0 -23.7zM56.9 3.5l.1 53.5 -114 0 0 -48.1 5 2.7 9 2.3 4.5 1.9 4.5 3 8.5 7.1 7 3.7 6 2 8 1.9 5.5 .7 5.5 .1 5.5 -.5 6 -1.2 5 -1.5 3.5 -1.7 3.7 -2.9 8.8 -9.3 4 -2.9 8.5 -4.8 2.6 -2.5 2.8 -3.5z"/>
<path fill="#79fe59" d="M-57 -57l114 0 0 29.4 -3.2 -2.9 -3.8 -2.4 -12.5 -5.6 -5 -2.7 -7.3 -6.3 -3.2 -2.2 -4 -1.8 -4.5 -.9 -5 .2 -8.5 1.6 -10.5 -.6 -7 .8 -6 2 -8 4.6 -3.5 1.5 -16.5 4.5 -5.5 1.9 0 -21.1zM56.6 6l.4 -.4 0 51.4 -114 0 0 -46.9 5 2.4 8.5 2.1 4.5 1.8 4.5 3 9 7.4 7 3.5 6 2 8 1.8 5.5 .8 5.5 .1 5.5 -.5 6 -1.2 4.5 -1.3 4 -1.8 4.2 -3.2 9.3 -9.5 4 -2.8 7.9 -4.2 4.7 -4.5z"/>
<path fill="#8fff49" d="M-57 -57l114 0 0 26.7 -3.5 -2.6 -3.5 -2 -12 -4.9 -4.5 -2.3 -2.5 -1.6 -5.5 -4.8 -3.5 -2.3 -4 -1.6 -4.5 -.8 -5 .2 -8.5 1.6 -11 -.7 -7 .7 -5.9 1.9 -8.1 4.1 -4 1.6 -21 5.3 0 -18.5zM56.9 7.5l.1 49.5 -114 0 0 -45.7 4.5 1.9 8.5 2.1 4.5 1.7 4.5 2.9 9 7.4 7.3 3.7 6.2 1.9 8 1.8 5.5 .8 5.5 .1 6 -.5 5.5 -1.1 4.5 -1.3 4 -1.8 4.5 -3.3 9.5 -9.5 3.5 -2.4 8.1 -4.2 4.8 -4z"/>
<path fill="#a4fc3c" d="M-57 -57l114 0 0 24.2 -6.5 -3.7 -16 -6.5 -3 -1.9 -6 -4.9 -3.5 -2 -4 -1.5 -4 -.7 -5 .2 -9 1.6 -11 -.8 -7 .6 -6 1.6 -12.5 5.2 -20.5 4.6 0 -16zM56.9 9l.1 48 -114 0 0 -44.7 4.5 1.7 9 2.2 4 1.7 4 2.5 9.4 7.6 7.1 3.6 6 1.8 8.5 1.9 5.5 .8 5 .1 6 -.4 5.5 -1 5 -1.4 4 -1.8 4.5 -3.1 10 -9.8 3.5 -2.3 8 -4.1 4.4 -3.3z"/>
<path fill="#b4f836" d="M-57 -57l114 0 0 21.9 -6.5 -3.3 -15.5 -6 -9 -6.3 -3.5 -2 -4 -1.4 -4 -.7 -5 .1 -10 1.6 -11 -.8 -7 .5 -5.7 1.4 -13.3 4.8 -19.5 3.8 0 -13.6zM56.7 10.5l.3 -.2 0 46.7 -114 0 0 -43.7 4.5 1.5 8.5 2.1 4 1.6 4.1 2.5 9.4 7.5 7 3.6 6 1.8 9 2.1 5.5 .7 5 .2 5.5 -.4 5.9 -1 4.6 -1.2 4.2 -1.8 5.1 -3.5 7.2 -7.2 3.3 -2.8 3.2 -2 8 -4 3.7 -2.5z"/>
<path fill="#c3f134" d="M-57 -57l114 0 0 19.8 -6 -2.9 -14.5 -5.2 -12 -7.5 -3.5 -1.6 -4 -1 -6.5 -.3 -11 1.7 -11 -.9 -6.5 .3 -6 1.2 -14 4.4 -19 3.2 0 -11.2zM56.3 12l.7 -.5 0 45.5 -114 0 0 -42.8 12.5 3.3 4 1.5 4.1 2.5 9.9 7.8 7 3.5 5.5 1.7 9.5 2.1 5.5 .7 5 .2 6 -.4 5.5 -1 5 -1.3 4 -1.7 5.2 -3.6 7.3 -7.2 3 -2.5 14.3 -7.8z"/>
<path fill="#d4e735" d="M-57 -57l114 0 0 17.7 -5.5 -2.4 -14 -4.9 -13 -7.4 -3.5 -1.4 -4 -1 -6.5 -.2 -11 1.6 -11.5 -.9 -6.5 .3 -6 1 -14 3.7 -18.5 2.7 0 -8.8zM56.5 13l.5 -.3 0 44.3 -114 0 0 -41.9 12 3 4 1.4 4.5 2.8 9.5 7.5 7 3.6 5.5 1.6 10.5 2.3 5 .6 5 .2 6 -.4 5.5 -.9 5 -1.4 4 -1.6 5.5 -3.7 7.5 -7.4 3 -2.4 14 -7.3z"/>
<path fill="#e1dd37" d="M-57 -57l63.4 0 -7.4 1 -11.5 -.9 -7 .2 -5.5 .9 -14 3.1 -18 2.1 0 -6.4zM19 -57l38 0 0 15.6 -5.5 -2.2 -13.5 -4.5 -12.5 -6.7 -6.5 -2.2zM56.6 14l.4 -.2 0 43.2 -114 0 0 -41 11.5 2.6 4.5 1.7 4 2.5 10 7.8 6.8 3.4 5.2 1.5 11 2.4 5 .7 5 .1 6 -.4 5.5 -.9 5 -1.3 4 -1.6 6 -4 7.5 -7.3 3 -2.4 13.6 -6.8z"/>
<path fill="#eecf3a" d="M-57 -57l30.6 0 -13.1 2.4 -17.5 1.6 0 -4zM23 -57l34 0 0 13.6 -18.5 -6.2 -11.5 -5.8 -4 -1.6zM56.6 15l.4 -.2 0 42.2 -114 0 0 -40.2 11 2.4 4.5 1.6 4 2.5 10 7.8 7 3.5 5 1.4 12 2.6 9.5 .7 11.5 -1.2 5 -1.3 4 -1.6 6 -3.9 8 -7.6 3 -2.4 13.1 -6.3z"/>
<path fill="#f6c33a" d="M-57 -57l21 0 -21 1.6 0 -1.6zM26.3 -57l30.7 0 0 11.5 -18 -5.7 -12.7 -5.8zM56.6 16l.4 -.2 0 41.2 -114 0 0 -39.3 10.5 2.1 4.5 1.6 4 2.4 10.5 8.1 6.5 3.3 5 1.4 12.5 2.6 9.5 .8 11.5 -1.3 5 -1.3 4 -1.5 6.5 -4.2 8 -7.6 2.7 -2.1 12.9 -6z"/>
<path fill="#fbb637" d="M29.7 -57l27.3 0 0 9.5 -17 -5.2 -10.3 -4.3zM56.5 17l.5 -.2 0 40.2 -114 0 0 -38.5 10.5 2 4.3 1.5 4 2.5 10.2 7.9 3.5 2 3.5 1.5 17.5 3.9 9 .8 6 -.4 6 -.8 5 -1.3 4 -1.6 6.6 -4 10.9 -9.8 12.5 -5.7z"/>
<path fill="#fea431" d="M33.4 -57l23.6 0 0 7.4 -15.5 -4.4 -8.1 -3zM56.4 18l.6 -.3 0 39.3 -114 0 0 -37.7 10 1.8 4.5 1.5 3.8 2.4 10.7 8.2 6.5 3.3 4.5 1.2 14 2.8 8.5 .7 12 -1.2 5 -1.3 4 -1.5 3.5 -1.8 3.5 -2.4 11 -9.8 11.9 -5.2z"/>
<path fill="#fe932a" d="M38 -57l19 0 0 5.4 -19 -5.4zM56.2 19l.8 -.3 0 38.3 -114 0 0 -36.8 10 1.6 4 1.3 4 2.5 10.5 8.1 3.5 2.1 3.5 1.4 19 4 8 .7 12 -1.3 5 -1.2 4.5 -1.7 7 -4.3 10.5 -9.4 3.5 -1.8 8.2 -3.2z"/>
<path fill="#fb7e21" d="M44.3 -57l12.7 0 0 3.3 -12.7 -3.3zM56 20l1 -.4 0 37.4 -114 0 0 -36 9.5 1.4 4 1.3 3.8 2.3 11.2 8.6 6.5 3.2 19.5 4 8 .7 12 -1.2 5 -1.2 4.5 -1.7 3.6 -1.9 3.7 -2.5 10.7 -9.4 11 -4.6z"/>
<path fill="#f66c19" d="M52.5 -57l4.5 0 0 1.1 -4.5 -1.1zM55.8 21l1.2 -.5 0 36.5 -114 0 0 -35.2 9.5 1.4 4 1.3 3.5 2.2 11 8.4 6.5 3.3 20 4.1 8 .6 12 -1.2 5 -1.2 4.5 -1.6 4 -2.1 3.5 -2.3 11 -9.5 10.3 -4.2z"/>
<path fill="#f05b12" d="M56.9 21.5l.1 35.5 -114 0 0 -34.4 9.5 1.3 3.4 1.1 4 2.5 11.1 8.5 6.5 3.2 20.5 4 7.5 .6 12.5 -1.3 5 -1.3 4.5 -1.6 4 -2.1 3.5 -2.4 11 -9.3 10.9 -4.3z"/>
<path fill="#e7490c" d="M56.7 22.5l.3 -.1 0 34.6 -114 0 0 -33.5 9 1.1 3.5 1.1 3.8 2.3 11.2 8.5 6.5 3.3 21 4.1 7 .5 12.5 -1.2 5 -1.1 5 -1.8 7.5 -4.3 11.5 -9.5 10.2 -4z"/>
<path fill="#dd3d08" d="M56.5 23.5l.5 -.2 0 33.7 -114 0 0 -32.7 9 1.2 3.5 1.1 3.5 2.2 11.5 8.7 6.5 3.2 4 .9 8 1 9 2 7 .5 12.5 -1.2 5 -1.2 5 -1.7 7.5 -4.2 11.5 -9.3 3.5 -1.7 6.5 -2.3z"/>
<path fill="#d02f05" d="M56.3 24.5l.7 -.3 0 32.8 -114 0 0 -31.8 8 1 4 1.1 4 2.5 11 8.3 6.5 3.2 4 1 8.5 1 9.5 2 6.5 .5 12.5 -1.2 5 -1.2 5 -1.7 7.8 -4.2 11.7 -9.2 3.5 -1.7 5.8 -2.1z"/>
<path fill="#c32503" d="M56.1 25.5l.9 -.3 0 31.8 -114 0 0 -30.9 8 1 4 1.2 3.5 2.2 11.5 8.5 6.5 3.2 4 .9 8 .8 10 2.1 6.5 .5 13 -1.4 5 -1.1 5 -1.8 7.8 -4.2 11.7 -9 8.6 -3.5z"/>
<path fill="#b41b01" d="M56 26.5l1 -.3 0 30.8 -114 0 0 -30 7.9 1 4.1 1.4 3.5 2.1 11 8.1 6.5 3.3 4 .9 8.5 .8 10 2.1 6 .5 13 -1.3 5.5 -1.2 5 -1.7 7.6 -4 12.4 -9.2 8 -3.3z"/>
<path fill="#a11201" d="M56 27.5l1 -.3 0 29.8 -114 0 0 -29.1 7.5 1 4 1.3 4 2.4 11 8 6.5 3.2 4 .8 8.5 .8 10 2 6 .5 13 -1.3 5.5 -1.2 5 -1.7 8 -4.1 12.5 -9 7.5 -3.1z"/>
<path fill="#8e0a01" d="M56 28.5l1 -.4 0 28.9 -114 0 0 -28.1 7 .9 4.5 1.5 4 2.5 10.5 7.5 6.5 3.2 4 .9 9 .7 10 2.1 6 .4 13 -1.3 5.5 -1.2 5.5 -1.8 8 -4.1 12 -8.5 7.5 -3.2z"/>
<path fill="#7a0403" d="M56 29.5l1 -.3 0 27.8 -114 0 0 -27.1 6.5 .9 4.5 1.5 4 2.3 11 7.7 6.5 3.1 4 .8 9 .7 10.5 2.1 5.5 .3 6 -.3 7 -1 5.5 -1.2 5.5 -1.8 8 -3.9 12.5 -8.5 7 -3.1z"/>
</g>
<path class="cl" d="M9 -45.5l-17.5 1.6 -4.5 1.4 -4.4 2.5 -3.7 4 -7.8 12.5 -13.1 13.5 -1.6 2.5 -.7 2.5 .3 3 1.9 3 8.6 7.6 11.5 11.6 4 2.7 4.5 2.2 5.5 2 5.5 1.2 5.5 .4 5.5 -.7 9.5 -2.6 5.3 -2.4 3.7 -4 8.7 -13.5 2.3 -4 1 -3.5 0 -3 -.8 -3 -1.6 -3 -5.1 -6.5 -2 -3.5 -1 -3 -1 -6.5 -2.1 -4.5 -6.4 -7 -2.4 -2 -3.6 -1.3 -4 -.2M-57 4.9l3 2.6 3.2 2 8.8 2.4 5 2.3 3.5 2.4 9 7.8 7 3.8 7 2.3 7.5 1.7 6 .6 6.5 -.4 11.5 -2.5 4 -1.6 3 -2.1 10 -11 3.5 -2.8 6.9 -4.4 3 -3 3.6 -6.5 1 -3.5 .4 -4 -.4 -4.5 -1.5 -4.5 -2.4 -4 -3.1 -3.5 -3.2 -2.5 -7.3 -3.9 -4 -2.7 -13.5 -12.1 -3.5 -2 -3.5 -.9 -5 -.1 -9 1.4 -10.5 0 -6.5 1.3 -5.3 2.5 -7.2 5.6 -4.5 2.7 -16 6.4 -7 4.3M57 -33.9l-6.5 -3.6 -15.5 -6.1 -9.5 -6.8 -3.5 -2 -4 -1.4 -4 -.6 -5 .2 -9 1.5 -11 -.7 -7 .4 -6 1.6 -13 5 -20 4.2M-57 12.8l4.5 1.6 8.5 2.1 4 1.5 4.5 2.9 9.5 7.6 7 3.4 15 3.8 10.5 .8 11.5 -1.5 8.5 -3 4.9 -3.5 10.1 -9.7 11.5 -6.3 4 -2.9M-48 -57l-9 .4M57 -46.5l-17.5 -5.4 -11.5 -5.1M-57 18.1l10.5 2.1 4.5 1.5 4 2.5 10.5 8.1 6.5 3.2 17.5 4 9.5 .8 11.5 -1.3 9 -2.8 6.5 -4.1 11 -9.9 13 -5.9M-57 23.1l9 1.1 3.5 1 4 2.5 11.5 8.7 6.2 3.1 20.8 4.1 7.5 .5 12.5 -1.3 9.5 -2.9 7.5 -4.3 11 -9.3 11 -4.4M-57 28.4l7 .9 4.5 1.5 14.8 10.2 6.2 3.1 4 .8 9 .8 10 2.1 6 .4 13 -1.2 10.7 -3 7.9 -4 12.4 -8.8 8.5 -3.6"/>
</g>
<use href="#head"/>
</g>
<g transform="translate(255.5 304.7)">
<circle r="54" fill="#e6e8fa" fill-opacity=".5" filter="url(#b2)"/>
<g clip-path="url(#cd)"><g filter="url(#b1)">
<rect x="-57" y="-57" width="114" height="114" fill="#30123b"/>
<path fill="#372466" d="M-57 -57l114 0 0 114 -114 0 0 -114zM8.5 -41l-13.5 1 -2 1 -1.6 1.5 -1.3 2.5 -1.1 5.5 -2.2 6.5 -2.3 8.5 -1.5 2.5 -6.2 8 -2.4 5.5 -.5 3 .1 3 .7 3 1.3 2.5 3.3 4 4.7 4.4 2.6 1.6 3.9 1.4 3.5 .7 3.5 .2 3.5 -.6 3.5 -1.2 3 -1.7 2.7 -2.3 1.8 -2.5 1 -2.5 .3 -5.5 -2.3 -12 .1 -4.5 3 -13 1.5 -3.5 4 -6.5 .8 -2 .2 -2 -1.1 -2.4 -3 -2.2 -4 -1.6 -4 -.3z"/>
<path fill="#3d358b" d="M-57 -57l114 0 0 114 -114 0 0 -114zM4.5 -41.5l-10 .6 -2.8 1.4 -2 2 -1.4 2.5 -.7 4.5 -3 7.5 -1.9 8 -7.6 10 -1.7 3.5 -.9 3.5 -.2 3.5 .6 3.5 1.4 3.5 1.9 2.5 4.8 5 3.5 2.9 4 1.9 4.5 1.1 4 .4 3 -.3 4 -1 3.5 -1.6 2.9 -1.9 2.5 -2.5 1.5 -2.5 .9 -3 -.2 -6 -2.6 -11 0 -3.5 2.8 -13.5 1.6 -3.5 4.1 -6.9 .6 -2.1 .1 -2 -.6 -1.5 -1.3 -1.5 -4.8 -2.9 -4.5 -1 -6 .4z"/>
<path fill="#4249b1" d="M-57 -57l114 0 0 114 -114 0 0 -114zM6.5 -42.5l-12.5 .9 -3.4 1.6 -2.7 2.5 -1.5 2.5 -1.1 4.5 -3.1 7 -1.7 7.5 -7.2 10 -1.5 3 -.9 3 -.3 3.5 .4 3.5 1.4 4 2.1 3.5 5.3 5.5 4.1 3.5 3.6 1.8 4.5 1.4 4.5 .5 3.5 -.2 4.5 -1 3.7 -1.5 3.3 -2 2.7 -2.5 2.1 -3 1 -3 .3 -3 -.2 -3 -3.1 -11.5 -.1 -4 2.3 -13 1.5 -3.5 3.9 -6.5 .7 -2.5 0 -2 -.5 -1.5 -1.1 -1.5 -4.5 -3.1 -5 -1.5 -5 .1z"/>
<path fill="#4559cb" d="M-57 -57l114 0 0 114 -114 0 0 -114zM9.5 -43.5l-16 1.3 -3.9 1.7 -3.1 2.5 -1.9 2.5 -5.2 11.5 -2.3 8 -5.6 8.5 -2.3 5.5 -.5 3.5 .4 4 1.6 4.5 2.3 4 3.6 4 6 5.5 3.4 2.1 4 1.5 4.5 .9 4.5 .1 4.5 -.7 4.5 -1.5 4.4 -2.4 3.1 -2.5 2.3 -3 1.5 -3.5 .5 -3 -.1 -3.5 -.9 -4 -2.5 -8 -.2 -5.5 1.6 -11 1.3 -3.5 3.9 -6.5 .6 -2.3 -.1 -2.2 -1.4 -3 -3.5 -3 -4.5 -1.9 -4.5 -.6z"/>
<path fill="#466be3" d="M-57 -57l114 0 0 114 -114 0 0 -114zM7 -44l-14.5 1.3 -4.7 2.2 -3.8 3 -1.4 2 -5.9 11 -2.7 7.5 -5.3 9.5 -1.9 5 -.3 3.5 .8 4 2.5 5.5 2.9 4.5 5.3 5.5 5 4.3 4 2.1 5 1.5 5 .6 4.5 -.3 5.2 -1.2 4.7 -2 3.9 -2.5 3.2 -3 2.2 -3.5 1.3 -4 .3 -3 -.3 -3 -3.7 -11.5 -.4 -3.5 0 -4.5 .5 -5.5 .8 -3.5 4.9 -9 .3 -2.5 -.3 -2 -2.1 -3.5 -4.5 -3.4 -5 -1.6 -5.5 0z"/>
<path fill="#477bf2" d="M-57 -57l114 0 0 114 -114 0 0 -114zM5.5 -44.6l-11 .9 -3 .6 -4.8 2.1 -4 3 -1.9 2.5 -6.7 11 -8.3 17 -1.7 5 .1 3.5 1.3 4 4 7 3.4 4.5 6.2 6 3.9 3.1 4.5 2.3 5.5 1.5 5.5 .4 5.5 -.6 5 -1.4 5 -2.4 4 -2.9 3 -3.3 2.3 -4.2 1.2 -4.5 0 -5.5 -4.1 -11.5 -.7 -4 -.1 -5 .2 -4 .6 -3 1 -2 2.7 -4 .9 -2 .3 -2.5 -.5 -2.5 -1.2 -2.5 -1.6 -2 -2.4 -2 -2.6 -1.4 -5.5 -1.5 -6 .3z"/>
<path fill="#458afc" d="M-57 -57l114 0 0 114 -114 0 0 -114zM8.5 -45.5l-17.5 1.8 -4.5 1.7 -4.5 3 -3 3.5 -8.2 12 -5.7 10.5 -3.8 9 -.1 3.5 1.2 3.5 4.9 7.5 4.6 6 6.1 6 4.3 3.5 4.2 2.3 4.5 1.4 6 .8 6 -.3 5.5 -1.2 5.7 -2.5 4.6 -3 3.5 -3.5 2.7 -4.5 2 -5.5 .4 -3.5 -.3 -3.5 -4.7 -11.5 -.9 -4 -.4 -4.5 .1 -3.5 .5 -2.5 3.1 -4.5 1.1 -2.5 .3 -2.5 -.6 -3 -2.6 -4.4 -4 -3.3 -5 -2 -5.5 -.3z"/>
<path fill="#3e9bfe" d="M-57 -57l114 0 0 114 -114 0 0 -114zM7 -46.1l-17 2 -5 1.9 -4 2.6 -2.5 2.6 -6.8 8.5 -5.5 7.5 -4.5 7.5 -2.7 5.5 -1 3 -.2 3.5 1.3 3.5 12.7 15.5 6.9 6.5 3.8 3 4.5 2.2 5 1.5 6.5 .6 6.5 -.6 6.2 -1.7 6 -3 4.1 -3 3.2 -3.7 3.7 -6.8 1.9 -5.5 .3 -3.5 -.5 -3 -5.5 -11 -1.1 -3.5 -.6 -4 .3 -4.7 3 -4.5 1 -2.8 0 -3 -.8 -3 -1.4 -2.5 -1.8 -2.3 -4.5 -3.4 -5.5 -1.9 -6 0z"/>
<path fill="#35abf8" d="M-57 -57l114 0 0 114 -114 0 0 -114zM6 -46.6l-16.5 1.8 -5 1.8 -4.1 2.5 -3.1 3 -8.6 9.5 -6.8 8 -5.4 8.5 -1.5 3.2 -.8 2.8 .1 4 1.6 3.5 8.6 8.4 8.2 9.1 6.6 6 3.7 2.6 4.5 2.1 5.5 1.4 7 .4 7.5 -.9 6.1 -2.1 6.3 -3.5 3.6 -3 3.7 -5 4.6 -8 1.8 -5.5 .1 -3.5 -.7 -3.1 -1.2 -2.4 -5.1 -7.5 -2 -5.5 0 -4 2.7 -5 .8 -3 -.4 -3.5 -1.3 -3.5 -3.8 -5 -4.7 -3.3 -5.5 -1.5 -6.5 .2z"/>
<path fill="#28bceb" d="M-57 -57l114 0 0 114 -114 0 0 -114zM9 -47.5l-19.5 2 -4.9 1.5 -4.1 2.2 -4 3.3 -18.1 18 -4.9 7 -2.4 6 -.4 3 .4 3 .9 2.5 1.8 2.5 9.7 7.4 8.2 8.6 8.3 7.4 5 3 6 2 7.5 .9 8 -.7 7 -2 6.7 -3.6 3.9 -3 4 -5 6.5 -10 2.7 -6.5 .3 -4 -1.1 -4 -1.6 -2.5 -5.4 -6.1 -2 -3.9 -.1 -3 1.7 -5 .4 -3 -.6 -3.5 -1.7 -4 -3.6 -5 -4.1 -3.2 -5 -2 -5.5 -.3z"/>
<path fill="#1fc9dd" d="M-57 -57l114 0 0 114 -114 0 0 -114zM7.5 -48l-7.5 1 -11.5 1 -4.5 1.3 -4.3 2.2 -20.1 17 -4.1 3.9 -5 6.6 -1.5 3.2 -1 3.3 -.2 3.5 .5 3.5 1.4 3.5 2 2.5 11.3 7.3 9 9 8.5 7.3 5.3 2.9 6.2 1.8 8 .7 8 -.8 6.7 -2.2 7.3 -4.1 4.4 -3.9 9.5 -12.5 3.8 -6 1.8 -5 .2 -4 -.8 -3.5 -2.3 -4 -5 -5 -1.6 -2.3 -.6 -2.2 -.2 -6 -.7 -3.5 -1.6 -4 -2.5 -4 -3.9 -4.4 -4.5 -2.8 -5 -1.4 -5.5 .1z"/>
<path fill="#19d5cd" d="M-57 -57l114 0 0 114 -114 0 0 -114zM6.5 -48.5l-6.5 1 -12.5 .9 -4.5 1.4 -4.3 2.2 -10.2 8.1 -11.6 8.4 -3.9 3.5 -3 3.4 -2.1 3.1 -1.6 3.5 -1 3.5 -.2 4 .7 4 1.8 4 2.4 3.1 1.9 1.4 6.6 3.1 4 2.6 9.5 9.1 8.6 7.2 5.4 2.8 6.5 1.8 8.5 .6 8 -1 6.6 -2.2 7.4 -4.2 3.8 -3.3 14.5 -17.5 2.7 -4.5 1.4 -4.5 0 -6 -1.9 -5.7 -2.3 -3.3 -5.9 -6 -5.2 -11 -5.1 -7.2 -3.5 -3.3 -4.5 -2.4 -5 -1 -5.5 .4z"/>
<path fill="#19e2bb" d="M-57 -57l114 0 0 114 -114 0 0 -60.5 2.1 5.5 3.5 4.5 2.4 1.7 7 2.9 4 2.4 10 9.2 8.5 7 4.5 2.4 5 1.6 6 1 6 .1 6.5 -.7 5.5 -1.5 6.5 -3.2 5.5 -3.8 19.5 -21.6 2.6 -5.5 .9 -6 -.9 -6.5 -2.6 -5.5 -2.5 -3 -7 -5.5 -10.8 -15 -2.7 -2.6 -3.5 -2.2 -3.5 -1.2 -3.5 -.5 -4 .1 -9 1.4 -11 .6 -4.5 1 -4.3 1.9 -10.7 7.8 -12.8 8.2 -3.8 3 -3.4 3.4 -2.5 3.3 -1.8 3.3 -1.2 3.8 0 -45.3z"/>
<path fill="#20eaac" d="M-57 -57l114 0 0 114 -114 0 0 -55.2 2.6 3.7 2.9 2.7 2.2 1.3 7.3 2.7 3.5 2 15.5 13.8 5 3.4 5 2.1 5.5 1.4 6.1 .6 6.4 -.1 5.5 -.9 5 -1.7 6.4 -3.3 4.8 -3.5 8.8 -9.6 9.6 -8.9 2.7 -3 1.8 -3 1.2 -3 .8 -3.5 .3 -3.5 -.3 -4 -1.1 -4.2 -1.9 -3.8 -2.6 -3.5 -2 -1.8 -5 -2.7 -3 -2.4 -10.4 -12.6 -3.1 -2.9 -4.5 -2.6 -5 -1.1 -4.5 0 -9.5 1.5 -11 .4 -4 .8 -3.9 1.4 -4.1 2.3 -8.5 5.9 -15.6 9.3 -5.1 4.5 -3.8 5 0 -38z"/>
<path fill="#32f298" d="M-57 -57l114 0 0 114 -114 0 0 -52.4 2.7 2.9 3.3 2.4 8 2.9 4.5 2.5 15 13.2 6 3.9 5.5 2.1 6 1.2 6.5 .5 6.5 -.3 4.5 -.9 4 -1.4 4.5 -2.1 4.8 -3 3.6 -3 9.6 -10 9.6 -8 2.9 -3.5 2.1 -4 1.4 -4.5 .5 -5 -.4 -4.5 -1.2 -4 -2.1 -4 -2.8 -3.4 -2.6 -2.1 -6.4 -3.3 -3 -2.2 -6 -6.1 -4.9 -5.9 -2.6 -2.3 -4 -2.2 -4.5 -1.2 -5.5 0 -9.5 1.5 -11 .3 -4 .6 -3.5 1.1 -4.5 2.2 -9 5.8 -15.3 8.2 -4.8 3.5 -3.9 4 0 -33.5z"/>
<path fill="#46f884" d="M-57 -57l114 0 0 114 -114 0 0 -50.4 2.7 2.4 2.8 1.8 8.5 3 4 2.1 15.5 13.5 6.5 3.9 5.5 2 6.5 1.2 6.5 .4 6.5 -.5 4 -.8 4 -1.4 8.7 -4.7 3.7 -3 10.1 -10.1 10.9 -8.4 3.2 -4 2.4 -4.5 1.5 -5 .4 -4.5 -.4 -4.5 -1.2 -4 -2.1 -4 -2.9 -3.5 -3.8 -3 -7 -3.4 -4 -2.7 -5.5 -5.1 -4.9 -5.8 -2.6 -2.2 -4 -2.1 -4 -1 -5.5 -.2 -10 1.7 -11.5 .2 -7 1.4 -4.9 2.2 -8.6 5.2 -15.5 7.5 -4.5 2.9 -4 3.3 0 -29.9z"/>
<path fill="#5dfc6f" d="M-57 -57l114 0 0 36.8 -2.7 -4.3 -3.4 -3.5 -3.4 -2.3 -8.5 -4 -4 -2.6 -4.5 -3.8 -4.4 -5.3 -2.9 -2.5 -4.7 -2.6 -5 -1.1 -5 .1 -9 1.6 -12.5 .1 -6.5 1.2 -5 2 -9.5 5.3 -15 6.6 -8 5.1 0 -26.8zM56.8 0l.2 57 -114 0 0 -48.7 5 3.3 8.5 2.9 4 2.1 3.2 2.4 11.8 10.5 6.5 4.1 5 1.9 5.5 1.3 6.5 .7 6.5 -.1 5.5 -.8 4.5 -1.4 5.5 -2.6 4.9 -3.1 13.1 -12.2 11.5 -8.3 3.4 -4 2.9 -5z"/>
<path fill="#79fe59" d="M-57 -57l114 0 0 32.8 -2.9 -3.3 -3.8 -3 -11.8 -5.6 -5 -3.2 -3.2 -2.7 -4.3 -5.1 -3 -2.5 -4.5 -2.2 -5 -1.1 -5.5 .2 -8.5 1.5 -13 0 -6.5 1.2 -5 1.9 -10 5 -14 5.6 -8 4.5 0 -24zM56.8 3.5l.2 53.5 -114 0 0 -47.3 4.5 2.6 8.5 2.9 4 2 3.5 2.6 11.4 10.2 3.6 2.5 3.5 1.8 5 1.9 5.5 1.2 6.5 .7 6 0 5 -.6 4.5 -1.2 5 -2.1 5 -2.9 4.4 -3.3 11.1 -10.3 11.3 -7.7 3 -3 2.5 -3.5z"/>
<path fill="#8fff49" d="M-57 -57l114 0 0 29.8 -3.1 -2.8 -3.4 -2.3 -11.5 -5 -5 -2.9 -3 -2.4 -5 -5.6 -3.5 -2.6 -4.5 -2 -4.5 -.8 -5.5 .2 -8.5 1.5 -12.5 -.1 -7 1 -4.6 1.5 -10.4 4.7 -14.2 5.3 -7.8 3.9 0 -21.4zM56.9 6l.1 51 -114 0 0 -46.1 4 2.2 8.5 2.8 4.4 2.1 3.3 2.5 10.8 9.7 3.5 2.5 4 2.1 5 1.9 5.5 1.2 6.5 .8 6 .1 5 -.5 4.5 -1.1 5 -2 4.9 -2.7 5.1 -3.7 11.5 -10.3 11.5 -7.5 4.9 -5z"/>
<path fill="#a4fc3c" d="M-57 -57l114 0 0 27.3 -3 -2.3 -3.5 -2 -11 -4.5 -5 -2.6 -3 -2.3 -5.3 -5.6 -3.7 -2.7 -4.5 -1.9 -4.5 -.8 -5 .2 -9.5 1.6 -12 -.3 -7.5 1 -4.7 1.4 -10.3 4.2 -14 4.9 -7.5 3.3 0 -18.9zM57 8l0 49 -114 0 0 -45 4.5 2.1 8.5 2.8 3.5 1.8 3.5 2.6 10.1 9.2 3.9 2.7 4 2.1 5 1.8 6 1.4 6.5 .8 6 .1 5 -.4 4.5 -1.1 4.5 -1.7 4.5 -2.3 6 -4.2 11.5 -10.1 11.5 -7.2 5 -4.4z"/>
<path fill="#b4f836" d="M-57 -57l114 0 0 25.1 -6 -3.5 -11.5 -4.4 -4.5 -2.3 -3 -2.2 -5.5 -5.6 -4 -2.7 -4.5 -1.8 -4.5 -.7 -5 .1 -9.5 1.6 -12.5 -.3 -7 .8 -5.3 1.4 -10.7 3.9 -13 4.2 -7.5 2.9 0 -16.5zM56.8 10l.2 47 -114 0 0 -43.9 4 1.7 8.5 2.7 3.5 1.7 3.5 2.6 10 9.2 4 2.7 4 2.1 5 1.8 6 1.4 6.5 .9 6.5 .2 5 -.5 4 -.8 4.5 -1.6 4.5 -2.3 6.5 -4.4 12 -10.2 11.5 -7 4.3 -3.3z"/>
<path fill="#c3f134" d="M-57 -57l114 0 0 23.1 -5.9 -3.1 -11.1 -4 -4.2 -2 -2.9 -2 -6.4 -6 -4 -2.5 -4 -1.6 -4.5 -.8 -5.5 .1 -9.5 1.5 -12.5 -.3 -7.5 .7 -5 1.2 -23.3 7.2 -7.7 2.7 0 -14.2zM56.8 11.5l.2 45.5 -114 0 0 -42.9 12 4 3.5 1.7 3.5 2.6 9.5 8.9 4 2.7 4.5 2.3 5.5 2 6 1.3 6.5 .9 6.5 .2 5 -.4 4 -.8 4.5 -1.6 4.5 -2.2 6.3 -4.2 12.7 -10.6 11.1 -6.4 4.2 -3z"/>
<path fill="#d4e735" d="M-57 -57l114 0 0 21.2 -5.5 -2.7 -14.5 -5.3 -3.5 -2.2 -5.5 -4.9 -3 -2.2 -4 -2 -4.5 -1.3 -5.5 -.3 -12.5 1.6 -12.5 -.4 -7 .6 -6.5 1.4 -29.5 8.5 0 -12zM56.7 13l.3 -.2 0 44.2 -114 0 0 -41.9 11.5 3.6 3.5 1.6 3.6 2.7 8.9 8.5 4.5 3 4.5 2.3 5.5 2 6.5 1.4 6.5 .9 6.5 .2 4.5 -.3 4.5 -.8 4 -1.4 4.5 -2 6.5 -4.2 13.5 -11 14.7 -8.6z"/>
<path fill="#e1dd37" d="M-57 -57l62.6 0 -7.1 1 -13 -.5 -8 .7 -26.5 6.3 -8 2.3 0 -9.8zM17.6 -57l39.4 0 0 19.3 -5 -2.2 -14.5 -5.1 -3.5 -2.1 -8.5 -6.7 -4 -2 -3.9 -1.2zM56.4 14.5l.6 -.4 0 42.9 -114 0 0 -41 11 3.3 3.8 1.7 3.3 2.5 8.9 8.6 4.4 2.9 4.6 2.3 5.5 1.9 6.5 1.5 6.5 1 6.5 .3 5 -.3 4.5 -.9 4.2 -1.3 4.3 -2 6.5 -4.1 14 -11.2 13.9 -7.7z"/>
<path fill="#eecf3a" d="M-57 -57l34.9 0 -7.4 1.3 -27.5 6.4 0 -7.7zM-5.3 -57l4.2 0 -4.2 0zM20.8 -57l36.2 0 0 17.6 -19 -6.8 -3.5 -2.1 -8 -6 -5.7 -2.7zM56.8 15.5l.2 41.5 -114 0 0 -40.1 10.5 3 3.7 1.6 3.3 2.5 8.6 8.5 4.4 2.9 5 2.4 6 2.1 7 1.5 6.5 .9 6.5 .3 4.5 -.3 4.5 -.8 4 -1.2 4.5 -2 6.5 -4.1 14.5 -11.3 13.8 -7.4z"/>
<path fill="#f6c33a" d="M-57 -57l27.2 0 -27.2 5.5 0 -5.5zM23.4 -57l33.6 0 0 15.8 -18.5 -6.3 -3.5 -2 -7.5 -5.3 -4.1 -2.2zM56.2 17l.8 -.4 0 40.4 -114 0 0 -39.2 10 2.7 4 1.7 3.5 2.8 7.9 8 4.6 3 5 2.3 6 2.1 7.5 1.6 6.5 .9 6.5 .3 4.5 -.3 4.5 -.7 4 -1.2 4.5 -2 6.5 -4 15 -11.5 12.7 -6.5z"/>
<path fill="#fbb637" d="M-57 -57l18.7 0 -18.7 3.4 0 -3.4zM25.7 -57l31.3 0 0 14.1 -18 -6 -13.3 -8.1zM56.5 18l.5 -.3 0 39.3 -114 0 0 -38.3 10 2.6 3.5 1.5 3.4 2.7 7.8 8 4.3 2.8 5.5 2.6 6 2 8 1.8 6.5 .8 6.5 .3 4.5 -.2 4.5 -.8 4.5 -1.3 4 -1.7 6.2 -3.8 15.8 -11.8 12.5 -6.2z"/>
<path fill="#fea431" d="M-57 -57l7.2 0 -7.2 1.3 0 -1.3zM27.9 -57l29.1 0 0 12.3 -17 -5.3 -4 -2 -8.1 -5zM56.7 19l.3 -.1 0 38.1 -114 0 0 -37.4 9.5 2.3 3.5 1.4 3 2.4 7.9 8.3 4.1 2.6 5.5 2.6 6.5 2.2 8 1.8 6.5 .9 7 .4 9 -1 4.5 -1.3 4 -1.7 6.5 -3.9 16 -11.8 12.2 -5.8z"/>
<path fill="#fe932a" d="M30.2 -57l26.8 0 0 10.6 -16 -4.8 -4 -1.9 -6.8 -3.9zM56.9 20l.1 37 -114 0 0 -36.5 9 2.1 3.7 1.4 3 2.5 7.5 8 4.3 2.7 5.5 2.6 6.5 2.1 8.5 1.9 6.5 .9 7 .4 9 -.9 4.2 -1.2 4.3 -1.8 6.4 -3.7 16.6 -12 11.9 -5.5z"/>
<path fill="#fb7e21" d="M32.7 -57l24.3 0 0 8.9 -15 -4.4 -9.3 -4.5zM-57 21.5l8.5 1.8 3.5 1.2 3 2.4 7.5 8.1 4.5 2.8 5.5 2.5 7 2.3 9 1.9 6.5 .9 7 .3 9 -1 4.3 -1.2 4.2 -1.8 6 -3.4 16.5 -11.8 12 -5.4 0 35.9 -114 0 0 -35.5z"/>
<path fill="#f66c19" d="M35.6 -57l21.4 0 0 7.1 -13.5 -3.8 -7.9 -3.3zM-57 22.5l8 1.5 4 1.5 2.4 2 5.4 6 2.7 2.5 4.2 2.5 5.3 2.4 7.5 2.4 9 1.8 6.5 .9 7 .3 9 -.9 4 -1.1 4.5 -1.8 6 -3.4 16.5 -11.5 12 -5.5 0 34.9 -114 0 0 -34.5z"/>
<path fill="#f05b12" d="M39.1 -57l17.9 0 0 5.3 -11.5 -3 -6.4 -2.3zM-57 23.5l0 -.3 7.5 1.6 4 1.5 2.5 2.1 5.1 5.6 2.8 2.5 4.1 2.5 5.6 2.5 7.4 2.3 9 1.9 7 .9 7 .4 9 -.9 8.5 -2.9 6 -3.2 17 -11.7 11.5 -5.1 0 33.8 -114 0 0 -33.5z"/>
<path fill="#e7490c" d="M43.7 -57l13.3 0 0 3.5 -13.3 -3.5zM-57 24.5l0 -.3 6.3 1.3 4.4 1.5 2.3 1.7 5.5 5.9 3 2.6 4 2.4 5.5 2.4 7.5 2.4 9 1.9 7 .9 7.5 .4 9 -.8 8.5 -2.8 6.5 -3.5 16.5 -11.1 11.5 -5.1 0 32.7 -114 0 0 -32.5z"/>
<path fill="#dd3d08" d="M50.1 -57l6.9 0 0 1.7 -6.9 -1.7zM-57 25.5l0 -.4 6 1.3 4.3 1.6 2.2 1.6 5.7 5.9 3 2.5 4.3 2.5 5.5 2.3 7.5 2.3 9.5 1.9 7 .9 7.5 .4 9 -1 8.5 -2.8 6 -3.2 16.5 -10.9 11.5 -5 0 31.6 -114 0 0 -31.5z"/>
<path fill="#d02f05" d="M-57 26.5l0 -.4 5 1.1 4.5 1.6 2.5 1.8 5.5 5.4 3.5 2.8 4 2.3 5.5 2.3 8 2.4 9 1.8 7 .9 8 .4 9 -.9 8.5 -2.7 6.3 -3.3 16.2 -10.5 11.5 -5 0 30.5 -114 0 0 -30.5z"/>
<path fill="#c32503" d="M-57 27.5l0 -.4 4.5 1.1 4.5 1.6 2.5 1.7 5.8 5.5 3.2 2.4 4.5 2.6 5 2 8 2.4 9 1.8 7 .9 8.5 .5 9 -.9 8.5 -2.6 6.5 -3.4 16 -10.1 11.5 -5.1 0 29.5 -114 0 0 -29.5z"/>
<path fill="#b41b01" d="M-57 28.5l0 -.3 4 .9 4.5 1.7 2.5 1.7 9 7.6 4.3 2.4 5.2 2.1 8 2.4 9 1.8 7.5 1 8.5 .4 9 -.8 8.5 -2.6 6.7 -3.3 16.3 -10.1 11 -4.8 0 28.4 -114 0 0 -28.5z"/>
<path fill="#a11201" d="M-57 29.5l4 .8 4 1.6 11.9 9.1 4.6 2.5 5 1.9 8 2.3 8.5 1.7 7.5 1 9 .5 9 -.8 8.7 -2.6 6.8 -3.3 16 -9.8 11 -4.7 0 27.3 -114 0 0 -27.5z"/>
<path fill="#8e0a01" d="M-57 30.5l4 1 3.5 1.4 12 8.9 4.5 2.3 5 2 8 2.3 8.5 1.6 8 1.1 9 .5 9 -.8 9 -2.6 7 -3.4 15.5 -9.3 11 -4.7 0 26.2 -114 0 0 -26.5z"/>
<path fill="#7a0403" d="M-57 31.5l7 2.5 12.1 8.5 4.4 2.3 5 1.9 8 2.3 8.5 1.7 8 1 9.5 .6 9 -.7 9 -2.6 7 -3.3 15.5 -9.1 11 -4.6 0 25 -114 0 0 -25.5z"/>
</g>
<path class="cl" d="M8.5 -46.5l-18.5 2 -4.5 1.5 -4.2 2.5 -4.1 4 -13.1 16 -5.5 9 -2.5 6 0 4 1.5 3.5 14.1 16 10.3 9.1 4 2.1 5 1.6 7 .9 7 -.5 6.2 -1.7 6.3 -3.1 4.5 -3.2 3.1 -3.7 4.4 -7.5 2.2 -6 .4 -3.5 -.7 -3.5 -5.9 -10.5 -1.9 -6.5 .2 -4.5 2.8 -4.5 .9 -2.5 .1 -3 -1 -3.5 -3.1 -4.7 -4.5 -3.7 -5 -1.8 -5.5 -.3M-57 3.3l3 3.6 3 2.4 8.5 3.2 4.5 2.6 15 13.4 5.4 3.5 5.1 2 5.5 1.3 6.5 .6 6.5 -.3 5.5 -1 5 -1.8 6.1 -3.3 4.7 -3.5 9.2 -9.8 9.9 -8.7 2.2 -2.5 3.4 -6.5 1 -4 .3 -3.5 -.4 -4.5 -1.2 -4 -2.1 -4 -2.6 -3.3 -2 -1.8 -6 -3.1 -3 -2.3 -10.5 -12.1 -3 -2.8 -4 -2.2 -5 -1.3 -5 0 -9.5 1.5 -11 .4 -7.5 1.8 -4.3 2.2 -8.7 5.9 -15.5 8.7 -5 3.9 -4 4.6M57 -30.8l-6 -3.8 -11.5 -4.6 -4.5 -2.3 -3 -2.1 -5.7 -5.9 -3.8 -2.6 -4.5 -1.9 -4.5 -.7 -5 .1 -9.5 1.6 -12 -.3 -7.5 .9 -29 10 -7.5 3.1M-57 12.6l4.3 1.9 8.2 2.6 3.5 1.7 3.5 2.5 10.5 9.6 8 4.7 5.1 1.9 5.9 1.3 6.5 .8 6 .1 5 -.4 4.5 -1 9 -4 6 -4.2 12 -10.4 11.5 -7 4.5 -3.8M-33.8 -57l-23.2 4.4M57 -42.1l-18 -6 -14.4 -8.9M-57 18.3l10 2.6 3.8 1.6 3.2 2.5 8 8.2 4.3 2.8 5.2 2.5 6 2.1 7.5 1.7 7 .9 6.5 .3 9 -1 8.5 -3.1 6.4 -3.9 15.1 -11.5 13.5 -6.9M57 -52.6l-15.8 -4.4M-57 23.7l7.5 1.6 3.5 1.3 2.5 1.9 8 8.2 4 2.5 5.5 2.5 7.5 2.4 9 1.8 7 1 7.5 .4 9 -.9 8.5 -2.8 6.5 -3.5 16.5 -11.3 11.5 -5M-57 29.8l4.5 1.2 3.5 1.5 11.5 8.8 4.5 2.4 5 2 8 2.3 8.5 1.7 8 1 9 .5 9.5 -.8 8.5 -2.6 6.7 -3.3 15.8 -9.5 11 -4.7"/>
</g>
<use href="#head"/>
</g>
<g transform="translate(453.0 304.7)">
<circle r="54" fill="#e6e8fa" fill-opacity=".5" filter="url(#b2)"/>
<g clip-path="url(#cd)"><g filter="url(#b1)">
<rect x="-57" y="-57" width="114" height="114" fill="#b7f735"/>
<path fill="#bcf534" d="M-57 -57l114 0 0 114 -114 0 0 -114zM33 -11.1l-2.5 .9 -2.1 1.2 -1.6 1.5 -.9 1.5 -.3 2 .4 1.6 1 1.4 2 1.3 3 .3 3 -1 2.5 -1.9 1.6 -2.7 .2 -3 -1.1 -2 -2.2 -1.1 -3 0z"/>
<path fill="#c1f334" d="M-57 -57l114 0 0 114 -114 0 0 -114zM2 -38.5l-3.5 1 -3 2 -3 3 -3.3 4.5 -2 3.5 -.7 2.5 .1 2.5 1.2 2.5 4.2 4.3 9 6.1 3.3 2.6 9.8 12 5.3 4.5 4.1 1.8 4 .5 4 -.8 3.5 -1.7 3 -2.4 3 -3.2 2.7 -3.7 1.9 -3.5 .9 -3 .1 -3 -.6 -3 -1.3 -2.5 -3.5 -3.5 -4.7 -2.2 -5 -.8 -9 .2 -3.7 -1.2 -1.7 -1.5 -1.3 -2 -2.7 -9 -2.1 -3.5 -1.7 -1.5 -2.3 -1.1 -2.5 -.5 -2.5 .1z"/>
<path fill="#c6f034" d="M-57 -57l114 0 0 114 -114 0 0 -46.9 4.5 -2.5 2.7 -3.6 2.3 -6 .8 -6.5 -.5 -4.5 -1.5 -3.5 -3 -4 -5.3 -5.3 0 -31.2zM3.5 -48.5l-4.5 1 -4 2 -3.6 3 -7.4 7.9 -9.4 5.1 -2.8 2 -2.4 2.5 -1.3 2.5 -.5 2.5 .4 2.5 1.9 3 3.8 3.5 15.9 9.5 6.4 4.8 4.2 4.7 8.4 12 4.9 4.7 5 2.8 5.5 1.9 5 .5 4 -.7 4 -2.5 4 -4.5 3 -4.9 7 -13.6 1.4 -3.7 .7 -3.5 -.1 -3.5 -.9 -3.5 -2.6 -4.6 -4.5 -4.1 -6.5 -3.8 -9.5 -4.1 -2.5 -1.8 -1.8 -2.6 -4.1 -8.5 -4.1 -4.5 -3 -2 -3 -1.3 -3.5 -.7 -3.5 0z"/>
<path fill="#cbed34" d="M-56 -57l48.2 0 -5.1 3 -9.6 7.4 -4 1.5 -5 .5 -6 -.7 -6 -2.2 -6 -3.9 -6.5 -5.6zM15 -57l42 0 0 41.7 -2.4 -3.2 -2.6 -2.5 -8.7 -6 -5.8 -5 -3.9 -4.5 -5.7 -9 -3.4 -4.3 -4.5 -4.2 -5 -3zM-31.8 1.5l3.3 -.3 4 .5 4 1.2 4.4 2.1 3.6 2.5 3 2.8 2.6 3.2 2 3.5 1.7 4 1 4 .4 4 -.4 3.5 -1.5 4 -6.3 6.8 -1 2.7 .2 2 1 2 1.3 1.2 2 .7 1.5 -.2 1.5 -.8 8.5 -7.1 2 -1.1 2.5 -.6 4 .3 10 3.8 5.5 1.1 6 -.5 5.5 -2.4 2.6 -1.9 2.5 -2.5 4.1 -6.5 2.8 -7 4.5 -15.5 0 46 -114 0 0 -38.5 4 -1.7 3.5 -2 11.5 -10.3 3 -1.9 3.2 -1.1z"/>
<path fill="#d0ea34" d="M31.4 -57l25.6 0 0 30.7 -7.6 -6.2 -3.9 -4 -14.1 -20.5zM-31.8 9.5l3.3 -.5 3 .2 3.5 1 3 1.4 2.5 1.9 2.4 2.5 1.9 3 1.2 3 .7 4 -.4 4.5 -1.3 4 -4.1 8 -1.6 4 -.8 5 .3 5.5 -38.8 0 0 -32.5 8.5 -4.3 11 -8.2 5.7 -2.5zM56.7 55l.3 -.5 0 2.5 -1.6 0 1.3 -2z"/>
<path fill="#d4e735" d="M44.8 -57l12.2 0 0 17.2 -5 -6.3 -7.2 -10.9zM-31.3 15l2.8 -.1 2.5 .3 2.5 .9 2.3 1.4 2.1 2 1.5 2 1.1 2.5 .5 2.5 .1 3.5 -.8 4 -1.4 4 -4.5 9.5 -2.1 9.5 -32.3 0 0 -27 10.5 -6.1 8.5 -6.4 3.5 -1.7 3.2 -.8z"/>
<path fill="#d9e436" d="M-33.9 20l2.4 -.4 2.5 .1 2.5 .7 2 1.1 1.7 1.5 1.4 2 1.3 4.5 -.2 4 -1.2 4 -4.5 9 -4.7 10.5 -26.3 0 0 -20.7 5.4 -4.8 11.6 -8.5 3 -1.8 3.1 -1.2z"/>
<path fill="#dde037" d="M-34.8 24l3.3 -.3 3 .7 2.5 1.8 1.7 2.8 .5 3 -.3 3.5 -1.2 3.5 -2.2 4 -6 8.6 -5.3 5.4 -16.3 0 -1.2 -3.5 0 -4.5 1.1 -4.5 2.4 -5 3.3 -4.5 4.6 -4.5 5.9 -4.6 4.2 -1.9z"/>
<path fill="#e1dd37" d="M-34.7 27.5l1.7 -.1 2 .4 1.5 .9 1.2 1.3 1.1 3.5 -.2 2 -.7 2.5 -2.9 4.6 -4.5 4.2 -4.5 2.1 -2 .2 -2 -.4 -2 -1.5 -1.1 -2.7 0 -3 1 -3.5 2 -3.5 3.1 -3.5 3 -2.2 3.3 -1.3z"/>
<path fill="#e5d938" d="M-35.6 31.5l2.1 -.1 1.5 .8 .9 1.8 -.1 2 -.9 2 -1.9 1.9 -2 1 -2 .1 -1 -.5 -.9 -1 -.3 -1.5 .1 -1.5 1.6 -3 2.9 -2z"/>
</g>
<path class="cl" d="M32.5 -11.6l-3 1 -2.5 1.6 -1.5 1.5 -1.1 2 -.1 2 .7 2.1 1.9 1.9 2.1 .9 3 .2 3.5 -1.4 2.6 -2.2 1.6 -3 .2 -3 -1.4 -2.4 -2.5 -1.2 -3.5 0M1 -38.5l-3.5 1.4 -2.8 2.1 -6.4 8 -1.6 3 -.6 2.5 .2 2 1.1 2.5 4.4 4.5 12.2 8.6 10 12.2 5 4.2 4 1.9 4 .7 4 -.6 4 -2 6 -5.6 2.9 -3.9 1.8 -3.5 .9 -3 .2 -3 -.7 -3 -1.2 -2.5 -3.5 -3.5 -4.9 -2.3 -5 -.8 -9 .1 -3.5 -1.1 -1.6 -1.4 -1.3 -2 -2.7 -9 -2.4 -3.9 -2 -1.5 -2.5 -1.1 -2.5 -.4 -3 .4M1.5 -48l-3.5 1.1 -3.5 2 -3.4 2.9 -7.1 7.6 -9 5 -3.3 2.4 -1.8 2 -1.4 2.5 -.4 2.5 .4 2.5 2.3 3.5 3.4 3 15.8 9.5 6 4.6 4.4 4.9 8.6 12 4.8 4.5 4.7 2.7 5.5 1.8 5 .6 4 -.8 4 -2.5 4 -4.6 10 -18.2 1.4 -4 .6 -3.5 -.2 -3.5 -1 -3.5 -2.8 -4.5 -4.5 -4 -5.5 -3.1 -10 -4.3 -2.5 -1.6 -1.8 -2.5 -4.3 -9 -2.4 -2.9 -2.4 -2.1 -3.1 -1.8 -3.5 -1.2 -3.5 -.4 -4 .4M-57 9.8l4.2 -2.3 2.7 -3.5 2.1 -5.5 .8 -6.5 -.5 -4.5 -1.3 -3.5 -3 -4 -5 -5.1M-5.8 -57l-6.2 3.5 -10.5 8.4 -4 1.4 -5 .5 -6.5 -.6 -6 -2.2 -6 -3.8 -7 -6.1M57 -14.5l-2.1 -3 -2.9 -3 -9.3 -6.5 -6.9 -6 -3.2 -4 -6.1 -9.5 -3.9 -4.5 -4.4 -3.5 -4.8 -2.5M-57 18.1l4.5 -1.9 3.5 -2.2 10.5 -9.7 3 -2.1 2.5 -1 4 -.6 4.5 .5 5 1.7 4.5 2.3 4.9 3.9 3.8 4.5 2.9 5.5 1.8 6 .5 6 -.8 4.5 -1.8 3 -5.4 5 -1 2 .2 2 .9 1.6 1.5 1 1.5 .1 2.5 -1.2 7 -6.4 4.5 -1.7 5.5 .3 10.5 3.9 5.5 1 5.5 -.5 5.5 -2.4 5 -4.6 3.8 -6.1 2.4 -6 5.3 -17.2M57 -25.2l-8.5 -6.8 -3.5 -3.6 -3.7 -4.9 -7.4 -11.5 -3.9 -5M-57 24l8.5 -4.3 11 -8.4 5.5 -2.4 4 -.5 4 .4 4 1.5 3.5 2.3 2.8 2.9 2.2 3.5 1.4 4 .4 4 -1.1 6 -4.9 9.5 -1.6 4.5 -.6 4.5 .5 5.5M52.9 57l4.1 -6.2M57 -37.5l-5.9 -7 -8.2 -12.5M-57 29.3l10 -5.7 8.5 -6.5 5 -2.3 3.5 -.7 3.5 .2 3.5 1.2 3 1.9 2.3 2.6 1.6 3 .9 3.5 0 3.5 -1.6 6 -5.4 12 -1.7 9M-57 35l17 -12.7 4 -2.3 3.5 -1.1 3 -.1 3.1 .7 2.9 1.6 2.2 2.4 1.3 2.8 .6 3.2 -.2 3.5 -1.5 5 -4.3 8.5 -4.1 10.5M-57 44.6l2.8 -5.1 3.5 -4.5 4.1 -4 6.6 -5.2 3.5 -2 3.5 -1 3 .1 2.8 1.1 2.3 2 1.5 3 .4 3.5 -.5 3.5 -1.9 4.5 -3.6 6.2 -4 6.1 -3.4 4.2M-34.2 26.5l2.2 0 2 .6 1.5 1 1.4 1.9 .8 4 -1.4 5 -4.3 6.1 -5 4.4 -5 2 -2 .1 -2 -.5 -2.2 -2.1 -1.1 -3 .2 -3.5 1.3 -4 2.5 -4 3.7 -4 3.6 -2.6 3.8 -1.4M-36.3 30.5l2.8 -.4 2.2 .9 1.3 2 .1 3 -1.4 3 -2.7 2.7 -3 1.4 -2.5 .1 -1.5 -.8 -1 -1.4 -.1 -3.5 2.1 -4.1 2 -1.9 1.7 -1"/>
</g>
<use href="#head"/>
</g>
</g>
<g id="row-c">
<text class="t" x="58.2" y="444.8" textLength="22.6" lengthAdjust="spacingAndGlyphs">HC</text>
<text class="t" x="256.1" y="443.7" textLength="28.4" lengthAdjust="spacingAndGlyphs">MCI</text>
<text class="t" x="453.1" y="443.7" textLength="48.7" lengthAdjust="spacingAndGlyphs">p-value</text>
<text class="l" x="273.9" y="605.4">(c)</text>
<rect x="317.8" y="422.9" width="5.9" height="176" fill="url(#gt)"/>
<rect x="514.7" y="422.9" width="5.9" height="176" fill="url(#gp)"/>
<text class="k" x="326.7" y="425.8">41.3</text>
<text class="k" x="326.7" y="469.8">39.5</text>
<rect x="317.8" y="466.6" width="5.9" height=".6" fill="#000" fill-opacity=".18"/>
<text class="k" x="326.7" y="513.8">37.7</text>
<rect x="317.8" y="510.6" width="5.9" height=".6" fill="#000" fill-opacity=".18"/>
<text class="k" x="326.7" y="557.8">35.9</text>
<rect x="317.8" y="554.6" width="5.9" height=".6" fill="#000" fill-opacity=".18"/>
<text class="k" x="326.7" y="601.8">34.1</text>
<text class="p" x="523.4" y="425.4">1</text>
<text class="p" x="523.4" y="484.1">0.1</text>
<rect x="514.6" y="481.3" width="6" height=".6" fill="#000" fill-opacity=".18"/>
<text class="p" x="523.4" y="542.8">0.01</text>
<rect x="514.6" y="539.9" width="6" height=".6" fill="#000" fill-opacity=".18"/>
<text class="p" x="523.4" y="600.5">0.001</text>
<g transform="translate(58.3 510.9)">
<circle r="54" fill="#e6e8fa" fill-opacity=".5" filter="url(#b2)"/>
<g clip-path="url(#cd)"><g filter="url(#b1)">
<rect x="-57" y="-57" width="114" height="114" fill="#4249b1"/>
<path fill="#4559cb" d="M-57 -57l114 0 0 114 -114 0 0 -114z"/>
<path fill="#466be3" d="M-57 -57l114 0 0 114 -114 0 0 -114zM10.5 -36l-6.5 3 -2.8 2 -1.9 2 -4.8 6.8 -6 15.2 -.8 5 .4 2.5 1 2.5 2.8 3 5.1 2.4 2.5 .5 2.5 -.4 2.1 -1 2.2 -2 1.3 -2.5 1.2 -5 3.2 -7.9 2.2 -10.6 2.3 -8.3 .3 -3.7 -.4 -2 -1.2 -1.5 -2.2 -.5 -2.5 .5z"/>
<path fill="#477bf2" d="M-57 -57l114 0 0 114 -114 0 0 -114zM10.5 -38.5l-12 3.6 -10.5 .7 -1.6 .7 -1.1 2 -.5 11.5 -3 12 .6 5.5 2 5 2.9 4 3.8 2.5 5.4 2.1 3.5 .7 3 -.3 4.5 -1.5 3 -1.8 2.7 -3.2 6.1 -12.5 .4 -4 -1.1 -9.5 .8 -9 -.5 -4.5 -.9 -2.1 -1.5 -1.5 -2.5 -.7 -3.5 .3z"/>
<path fill="#458afc" d="M-57 -57l114 0 0 114 -114 0 0 -114zM12 -40.5l-13.5 2.8 -12.5 .2 -2.4 1 -1.3 2 -.8 3.5 -.5 9 -3.7 11 -.4 2.5 .2 2.5 1.9 5 4.2 6.5 3.3 3.3 4.1 2.2 5.4 1.8 4.5 .7 5.6 -.5 4.6 -1.5 2.2 -1.5 1.6 -1.7 4.2 -6.8 4.2 -5.5 1.1 -2 .6 -2.5 -.1 -2.5 -2.8 -11 -.2 -8.5 -1 -4.5 -1.3 -2.5 -1.7 -1.7 -2.5 -1.1 -3 -.2z"/>
<path fill="#3e9bfe" d="M-57 -57l114 0 0 114 -114 0 0 -114zM11.5 -42l-13 2.2 -10 -.1 -3 .3 -2 .6 -1.5 1 -2 3 -1.1 4 -1 8 -5.2 11.5 -.6 2.5 .1 2.5 .6 2 1.5 2.5 7 8.5 3.7 3.5 3.6 2 6.3 2 5.6 .9 7 -.3 4.7 -1.1 3.4 -2.5 5.2 -8 5.8 -6 1.2 -2 .7 -3 -.2 -3.5 -3.8 -11 -1.3 -8.5 -1.3 -4.5 -1.8 -3 -2.1 -2 -3 -1.2 -3.5 -.3z"/>
<path fill="#35abf8" d="M-57 -57l114 0 0 114 -114 0 0 -114zM8 -43l-9 1.5 -12.5 -.1 -3 .8 -2.3 1.3 -1.7 1.8 -1.3 2.2 -1.3 3.5 -2.3 9 -5.8 10 -1.4 3 -.4 2 .2 2 .8 2 1.4 2 13.3 12.5 2.8 1.8 3.5 1.5 6.8 1.7 6.2 .7 8 -.1 4.5 -1 2.7 -2.1 4.9 -8 7.3 -7 2 -3.5 .6 -3.5 -.6 -3.5 -4.4 -10.8 -3 -10.7 -2 -4 -2.5 -2.9 -3 -1.7 -4 -.8 -4.5 .4z"/>
<path fill="#28bceb" d="M-57 -57l114 0 0 114 -114 0 0 -114zM8.5 -44.5l-9.5 1.4 -12.5 -.1 -3.5 .9 -2.5 1.4 -1.9 1.9 -1.7 2.5 -5.3 13 -7 10.5 -1.6 3 -.5 2 .2 2.5 .9 2.5 1.5 2 2.4 2.1 7.5 4.7 7 6.2 4.5 2.3 7.5 2 7.5 1.1 11 .4 4.5 -.8 2.5 -2.2 2.8 -6.3 1.6 -2.5 2.1 -2.1 5.6 -4.4 1.6 -2 1.2 -2.5 .7 -4 -.8 -4 -5.3 -11.5 -3.5 -9.5 -2.4 -4.5 -2.6 -3.1 -3.5 -2.2 -4 -.9 -4.5 .2z"/>
<path fill="#1fc9dd" d="M-57 -57l114 0 0 114 -114 0 0 -114zM10 -46l-10.5 1.4 -13.5 0 -4 1.1 -3.6 2.5 -3.7 5 -5.8 12 -7.3 10 -1.9 3.5 -.7 3 .1 3 1.1 3 1.8 2.3 3.6 2.7 8.4 3.9 8 6.4 5 2 10 2.1 18 1.9 4 0 2.5 -1 1.1 -1.8 1 -6 1.4 -3.1 2 -2.1 6.4 -4.3 2.7 -3.5 1.6 -4.5 0 -4 -2.3 -6.5 -9.2 -18.5 -3.1 -5 -2.6 -2.6 -3 -1.8 -3.5 -1 -4 -.1z"/>
<path fill="#19d5cd" d="M-57 -57l114 0 0 114 -114 0 0 -114zM7.5 -47.1l-8 1.1 -10 -.3 -4 .2 -4 1.2 -3.5 2.3 -3.5 4.1 -7.9 13.5 -8.8 12 -1.9 5 .1 4.5 1.7 4 3.6 3.5 4.2 2.4 8 2.8 6.3 4.8 3.7 2 10.5 2.5 14.5 1.9 10 1.9 3 0 2.5 -1.3 2 -3 .4 -2.5 -.2 -4.5 .7 -2 1.6 -1.4 6 -2.9 2 -2 1.5 -2.2 1.3 -3 .8 -3 0 -5.5 -1.1 -3.6 -2.1 -4.4 -9.8 -17.5 -4.1 -5.8 -3 -2.6 -3.5 -1.7 -4 -.7 -5 .2z"/>
<path fill="#19e2bb" d="M-57 -57l114 0 0 114 -114 0 0 -114zM8.5 -48.5l-9 1.2 -10 -.5 -4 .2 -4.5 1.4 -3.5 2.1 -4.1 4.6 -8.9 13.6 -9.1 11.9 -2.3 5.5 -.1 5 .7 2.5 1.4 2.5 1.7 2 2.4 2 5.5 3 7.8 2.3 10 6 8 2.1 17 2.4 11.5 2.8 3 0 1.8 -.6 2.1 -1.5 8.6 -8.9 5 -9.3 2 -4.8 1.1 -5 -.2 -5 -1.3 -4.5 -2.6 -5 -9.9 -16 -5.1 -7 -3 -2.6 -3.5 -1.7 -4 -.8 -4.5 .1z"/>
<path fill="#20eaac" d="M-57 -57l114 0 0 114 -114 0 0 -114zM11 -50l-11 1.3 -10.5 -.6 -4.5 .3 -5 1.6 -4.5 3.1 -5.2 6.3 -8.8 12.4 -7.1 8.6 -2.7 4.5 -1.4 4.5 0 4.5 1.3 4 2.4 3.5 3.8 3 5.2 2.9 3 1.2 6.5 1.8 7.5 4 3 1.3 7 1.6 17 2.5 12 3.2 3 0 2.5 -.8 12.1 -8.7 1.6 -2 1.3 -2.7 3.5 -9 1.4 -4.8 .5 -6.5 -1.5 -6.5 -1.9 -4 -3.4 -5.5 -7.5 -11 -6.6 -8.7 -3 -2.5 -3 -1.6 -3.5 -1 -3.5 -.2z"/>
<path fill="#32f298" d="M-57 -57l114 0 0 114 -114 0 0 -114zM7 -51.1l-7.5 1.1 -9.5 -.8 -5 .3 -5 1.4 -4.3 2.6 -2.6 2.5 -4.5 5.5 -9.1 11.9 -8.8 10.6 -1.7 3.2 -1 3.3 -.4 3.5 .3 3 1.6 4.5 3.1 4 4.2 3 7.7 4 8 2.2 8 3.7 4.5 1.4 21 3.2 12.5 3.6 4 .1 3 -1.2 11.5 -7.4 2 -1.6 1.6 -2 2.4 -5.2 3.4 -10.3 .8 -5.5 -.5 -5.5 -1.9 -5.5 -3.4 -6 -7.1 -10 -10.3 -12.9 -3.5 -2.6 -4 -1.7 -4.5 -.7 -5 .3z"/>
<path fill="#46f884" d="M-57 -57l114 0 0 114 -114 0 0 -114zM7.5 -52.6l-7.5 1.1 -10.5 -.8 -6 .4 -3 .9 -3 1.3 -4.7 3.7 -7.9 9 -8.3 10.5 -6.4 7 -3.5 5.5 -1.4 5 .1 5.5 1.7 5 3.3 4.5 4.1 3 9.5 4.9 8.5 2.3 9.6 3.8 6.4 1.5 17 2.3 14 4.1 3 -.1 3 -1.1 12.5 -7.3 3 -2.4 1.9 -2.5 1.8 -3.5 3 -8.5 1.3 -5.5 .4 -4 -.3 -4 -1 -4 -1.4 -3.5 -2.9 -5 -4.3 -6 -12.9 -16 -2.6 -2.6 -3.5 -2.5 -4 -1.5 -4 -.6 -5 .1z"/>
<path fill="#5dfc6f" d="M-57 -57l114 0 0 114 -114 0 0 -61.2 .8 3.2 1.4 3 3.8 5 3.5 2.6 11.5 5.7 8.5 2.3 11.5 4 20.5 2.9 12.5 3.9 4 .6 2.5 -.4 2.5 -1.1 6.5 -3.9 7.2 -3.6 3.7 -3 2.7 -4.5 3.5 -9 1.4 -5.5 .5 -5 -.6 -6 -2.1 -6 -3.2 -5.5 -5.7 -7.5 -9 -10 -3.9 -5.1 -3 -2.8 -2.5 -1.7 -3 -1.4 -3 -.8 -3.5 -.4 -12.5 1.1 -9.5 -.8 -4.5 .1 -5.5 1.2 -4.5 2.2 -5.2 4.4 -15.8 18.2 -6.4 6.8 -3.3 5 -1.8 5.6 0 -46.6z"/>
<path fill="#79fe59" d="M-57 -57l114 0 0 114 -114 0 0 -55 2.8 4 3.9 3.5 14.8 7.1 19.5 5.9 20 2.7 12.5 4 5 .7 3.5 -.9 7.5 -4.3 8.2 -3.7 2.4 -1.5 2 -2 2.8 -4.5 3.8 -9.5 1.5 -5.5 .5 -5.5 -.7 -6 -1.8 -5.5 -3.1 -5.5 -4.9 -6.5 -10.7 -11.5 -4.9 -6 -2.6 -2.5 -5.5 -3.2 -6 -1.5 -4.5 -.1 -9.5 .9 -13.5 -.7 -5 .8 -5 2 -5.3 3.8 -7.8 8 -16.1 17.5 -3.8 5.3 0 -38.8z"/>
<path fill="#8fff49" d="M-57 -57l39.8 0 -6.8 2.1 -3.4 1.9 -3.1 2.4 -10.8 10.6 -15.7 16.8 0 -33.8zM-4.8 -57l8.3 0 -8.3 0zM15.4 -57l41.6 0 0 114 -114 0 0 -51.9 3.2 3.4 3.3 2.4 15.5 7 18 5.4 5 .9 15 1.5 12.5 4.2 4 .8 2.5 0 2.5 -.6 9 -4.8 8.5 -3.5 3.4 -2.3 2.8 -3.5 5.3 -11.5 2.1 -8 .3 -4.5 -.3 -4 -.9 -4 -1.6 -4 -2.7 -5 -4.5 -6 -12 -12.5 -6.1 -7 -2.8 -2.4 -3 -1.9 -3 -1.2 -3.6 -1z"/>
<path fill="#a4fc3c" d="M-57 -57l32.8 0 -4.8 2.6 -5 3.9 -9.5 9 -13.5 13.7 0 -29.2zM21.1 -57l35.9 0 0 41 -1.6 -4.5 -2.1 -4 -6.3 -8.4 -18.4 -19.1 -3.6 -2.9 -3.9 -2.1zM57 .5l0 56.5 -114 0 0 -49.5 3 2.6 3.5 2.2 16.5 6.9 17 5.1 5 .8 14.5 1.3 13.5 4.5 5.5 .7 3.5 -.8 8.5 -4.5 9 -3.4 3.9 -2.4 2.8 -3 2.2 -3.5 3.5 -7.5 2.1 -6z"/>
<path fill="#b4f836" d="M-57 -57l28 0 -4.5 3 -4.9 4 -18.6 17.7 0 -24.7zM24.8 -57l32.2 0 0 34.5 -3.6 -6 -5.4 -6.5 -17.5 -17.6 -5.7 -4.4zM56.9 7l.1 50 -114 0 0 -47.6 5.5 3.6 14 6 17 5.3 7.5 1.6 14.5 1 14 4.7 5.5 .9 4 -.9 8.5 -4.5 9.5 -3.1 3.5 -1.9 2.9 -2.6 2.4 -3 5.1 -9.5z"/>
<path fill="#c3f134" d="M-57 -57l23.4 0 -9.6 7.5 -13.8 12.6 0 -20.1zM28.1 -57l28.9 0 0 29.7 -3.4 -4.7 -4.6 -5.2 -16.7 -16.3 -4.2 -3.5zM-57 11.5l0 -.4 5.5 3.1 15.5 6.4 15.5 4.8 8 1.4 13.5 .6 14 4.9 6 1 3.5 -.7 9.5 -4.8 10 -3 2.7 -1.3 2.8 -2.1 2.7 -2.9 4.8 -7.4 0 45.9 -114 0 0 -45.5z"/>
<path fill="#d4e735" d="M-57 -57l18.6 0 -8.4 6.5 -10.2 8.8 0 -15.3zM31.4 -57l25.6 0 0 25.4 -7 -7.9 -18.6 -17.5zM-57 13l0 -.4 5 2.6 17 6.7 14 4.4 8.5 1.5 13 .2 14 4.9 6.5 1.2 4 -.9 10 -5 9 -2.3 3 -1.3 5.3 -4.1 4.7 -5.9 0 42.4 -114 0 0 -44z"/>
<path fill="#e1dd37" d="M-57 -57l13.2 0 -13.2 10.5 0 -10.5zM34.7 -57l22.3 0 0 21.4 -6 -6.4 -16.3 -15zM-57 14l4.5 2.1 18 7 13 4.1 9 1.5 12.5 -.1 13.7 4.9 6.8 1.3 2.5 -.2 2 -.6 10 -5 12 -3.2 5.1 -3.3 4.9 -5.1 0 39.6 -114 0 0 -43z"/>
<path fill="#eecf3a" d="M-57 -57l7.2 0 -7.2 5.5 0 -5.5zM38.3 -57l18.7 0 0 17.4 -5.5 -5.5 -13.2 -11.9zM-57 15.5l13 4.6 11 4.5 11 3.5 9.5 1.5 12.5 -.1 13.5 4.7 7 1.3 2.5 -.1 2 -.7 10 -4.9 12.5 -3.1 4.7 -2.7 4.8 -4.3 0 37.3 -114 0 0 -41.5z"/>
<path fill="#f6c33a" d="M-57 -57l.5 0 -.5 .4 0 -.4zM42.2 -57l14.8 0 0 13.4 -14.8 -13.4zM-57 17l0 -.5 13 4.6 12 4.9 10 3.2 9 1.4 13 -.1 13.5 4.5 6.5 1.2 2.5 -.1 2.5 -.6 10 -5 13 -3 4.8 -2.5 4.2 -3.3 0 35.3 -114 0 0 -40z"/>
<path fill="#fbb637" d="M46.5 -57l10.5 0 0 9.4 -10.5 -9.4zM-57 18l12 3.6 12.5 5.3 10.5 3.3 8.5 1.3 13 .1 14.5 4.3 6 1 2.5 -.1 2.5 -.6 10 -4.9 13.5 -2.9 4 -1.9 4.5 -3.1 0 33.6 -114 0 0 -39z"/>
<path fill="#fea431" d="M51.1 -57l5.9 0 0 5.2 -5.9 -5.2zM-57 19l12 3.6 12.5 5.3 10 3.2 8 1.3 13 .3 6 1.3 10.5 2.9 4.5 .6 3 -.1 2.5 -.5 8 -4.1 2.5 -.9 13 -2.5 4.4 -1.9 4.1 -2.5 0 32 -114 0 0 -38z"/>
<path fill="#fe932a" d="M56.1 -57l.9 0 0 .8 -.9 -.8zM-57 20.5l0 -.4 12 3.4 13 5.7 10 3.1 7.5 1.2 12 .3 6.5 1 10.5 2.7 5 .7 3 -.1 3 -.7 7.5 -3.9 2.5 -.9 13.5 -2.4 4 -1.5 4 -2.2 0 30.5 -114 0 0 -36.5z"/>
<path fill="#fb7e21" d="M-57 21.5l12 3 13 5.7 10 3.2 6.5 1 11 .3 7.5 .8 11.5 2.7 4.5 .6 3 0 3 -.6 9.5 -4.6 14 -2.3 4 -1.3 4.5 -2.1 0 29.1 -114 0 0 -35.5z"/>
<path fill="#f66c19" d="M-57 22.5l11.5 2.9 13.5 5.9 10 3.2 7 1 10.5 .2 7.5 .7 11.5 2.5 4.5 .6 3 0 3 -.6 10 -4.6 13.5 -2 4.3 -1.3 4.2 -1.8 0 27.8 -114 0 0 -34.5z"/>
<path fill="#f05b12" d="M-57 24l0 -.4 11 2.7 14.5 6.3 10 3.1 7 .9 10 .1 7 .5 16 3 3.5 -.1 3 -.5 3.1 -1.1 7.2 -3.5 13.7 -1.9 8 -2.7 0 26.6 -114 0 0 -33z"/>
<path fill="#e7490c" d="M-57 25l11 2.5 14.5 6.3 10 3 7.5 1 15.5 .1 17 3 3.5 -.1 3 -.5 3.5 -1.2 7 -3.3 13.5 -1.7 8 -2.5 0 25.4 -114 0 0 -32z"/>
<path fill="#dd3d08" d="M-57 26.5l0 -.5 10.4 2.5 15.6 6.6 10 2.9 8 .9 13.5 -.3 18 3 4 -.2 3.5 -.7 10.5 -4.2 12.5 -1.5 8 -2.2 0 24.2 -114 0 0 -30.5z"/>
<path fill="#d02f05" d="M-57 27.5l10 2.1 16 6.7 10 2.9 8.5 .9 13 -.7 17.5 2.8 6.5 -.4 3.5 -1 8.5 -3.4 13 -1.5 7.5 -1.9 0 23 -114 0 0 -29.5z"/>
<path fill="#c32503" d="M-57 29l0 -.5 9.5 2.2 17 6.9 10 2.8 8.5 .8 12 -.9 18 2.7 4 -.1 4 -.7 11.5 -4 12 -1.3 7.5 -1.8 0 21.9 -114 0 0 -28z"/>
<path fill="#b41b01" d="M-57 30l10 2.2 13.5 5.5 7 2.4 6.5 1.6 6 .7 4 -.1 10 -1 16 2.2 5.5 .1 5.5 -.9 10.5 -3.5 12.5 -1.4 7 -1.5 0 20.7 -114 0 0 -27z"/>
<path fill="#a11201" d="M-57 31.5l0 -.4 9.5 2.3 14.5 5.8 6.5 2.1 6.5 1.5 6 .8 4 -.1 10 -1.1 16 1.9 5.5 .1 6 -1.1 10 -3.1 12.5 -1.4 7 -1.4 0 19.6 -114 0 0 -25.5z"/>
<path fill="#8e0a01" d="M-57 32.5l10 2.5 20 7.4 6.5 1.5 6.5 .8 4 0 10.5 -1.1 15.5 1.5 5.5 0 6 -1 10.5 -3 12.5 -1.3 6.5 -1.3 0 18.5 -114 0 0 -24.5z"/>
<path fill="#7a0403" d="M-57 34l9.5 2.2 20.5 7.4 6.5 1.5 6.5 .8 4.5 0 10.5 -1 15.5 1.1 5 -.1 6 -.9 11 -3 12 -1.2 6.5 -1.1 0 17.3 -114 0 0 -23z"/>
</g>
<path class="cl" d="M9.5 -42.5l-10.5 1.8 -11 -.1 -3.5 .5 -3.5 2.1 -2.4 4.2 -2.4 11 -5.9 11.5 -.7 2.5 0 2.5 .7 2 1.7 2.5 9.5 10.2 3.4 2.8 4.1 2 6.5 1.8 6 .8 7.5 -.2 4.5 -1.2 3 -2.3 5 -7.9 6.5 -6.4 1.7 -3.1 .6 -3 -.4 -3.5 -4 -10.5 -2.1 -9.5 -1.9 -5 -2.3 -3 -2.6 -1.8 -3.5 -.9 -4 .2M8.5 -50.5l-8.5 1.2 -10.5 -.7 -5 .3 -5.5 1.9 -4.3 3.3 -5.8 7 -8.5 11.5 -7.1 8.5 -3 5 -1.3 4.5 .1 4.5 1.4 4.5 2.5 3.5 3.9 3 6.1 3.4 9.5 2.9 10 4.8 6.5 1.5 18 2.7 12 3.3 3 .1 3 -1.1 12.6 -8.6 1.9 -2.3 1.5 -3 4.6 -13.7 .3 -7.5 -1.9 -6.8 -2.5 -4.7 -4.3 -6.5 -11 -15 -2.7 -3 -3 -2.3 -3.5 -1.5 -4 -.8 -4.5 .1M-26.7 -57l-4.8 3 -4.9 4 -20.6 20M57 -19.6l-3.6 -6.9 -6 -7.5 -17.9 -18.3 -6.5 -4.7M-57 8.5l6.5 4.4 17.5 7.2 17.3 4.9 18.2 1.7 13 4.5 5.5 .9 4 -.9 8 -4.3 10 -3.5 3.3 -1.9 2.6 -2.5 2.6 -3.5 5.5 -11.5M57 -45.6l-12.7 -11.4M-57 17.1l13 4.4 12.5 5.2 9 2.9 9 1.4 13 0 14.5 4.5 6 1 5 -.7 10 -4.9 13.1 -2.9 4.4 -2.1 4.5 -3.3M-57 24.2l11 2.7 14.5 6.3 10 3 7 1 16.5 .4 16.5 2.9 6.5 -.6 10.5 -4.5 13.5 -1.8 8 -2.6M-57 31.8l10 2.5 20 7.5 6.5 1.5 6.5 .8 14.5 -1.1 15.5 1.7 5.5 0 6 -1 10.5 -3.1 12.5 -1.4 6.5 -1.2"/>
</g>
<use href="#head"/>
</g>
<g transform="translate(255.5 510.9)">
<circle r="54" fill="#e6e8fa" fill-opacity=".5" filter="url(#b2)"/>
<g clip-path="url(#cd)"><g filter="url(#b1)">
<rect x="-57" y="-57" width="114" height="114" fill="#30123b"/>
<path fill="#372466" d="M-57 -57l114 0 0 114 -114 0 0 -114zM7 -44l-4 1.8 -3.5 3.2 -1.8 3.5 -.1 3.5 1.5 3 4.4 3.3 3 .8 4.5 -.1 3.5 -1.7 3.9 -3.8 1.6 -3 -.2 -3 -1.7 -4 -2.6 -2.6 -4 -1.3 -4.5 .4z"/>
<path fill="#3d358b" d="M-57 -57l114 0 0 114 -114 0 0 -114zM9.5 -45.5l-4.4 1 -3.7 2 -3.8 3.5 -2.1 3.5 -1.1 4 .4 3 1.7 2.1 4 2.4 .3 1 -1.3 .9 -4.5 1.3 -2 1 -1.8 1.8 -1.2 2.4 -5.5 18.6 .5 5 .9 2 1.1 .9 2.5 -.2 1.9 -1.7 .1 -1 -.9 -3.5 .9 -1.8 6.5 -2.2 1.5 -1.3 1.6 -2.2 1.6 -3.5 1.2 -4 .7 -5.5 -.1 -5 .5 -1 1.5 -.7 5 -.7 2 -.9 4.8 -4.2 2.7 -3.9 .3 -2.1 -.4 -2.5 -1.2 -3 -1.7 -2.5 -1.8 -1.5 -2.1 -1 -4.6 -.5z"/>
<path fill="#4249b1" d="M-57 -57l114 0 0 114 -114 0 0 -114zM9 -46.5l-3 .7 -3.3 1.3 -6.3 4.5 -7.1 8 -3.8 7.7 -2.7 9.8 -5.7 13 -.6 2.9 .4 2.1 .9 2 4.7 7.3 2 1.8 2 .4 3 -.2 5.5 -1 4 -1.3 2.8 -1.5 2.6 -2 2 -2 1.1 -2 .6 -3 .4 -11.5 -1.3 -10 .8 -.9 4.5 -1.3 3 -2.3 5.5 -6 1.1 -2 .3 -2 -.3 -2.5 -1 -3 -1.4 -2.5 -1.7 -2 -2 -1.4 -2 -.8 -2.5 -.4 -2.5 .1z"/>
<path fill="#4559cb" d="M-57 -57l114 0 0 114 -114 0 0 -114zM9 -47.5l-4.5 1.2 -4.7 2.3 -12.1 8 -2.2 1.9 -2 4 -4.1 13.1 -6.5 13.5 -1 4.5 1 3.5 8.5 10 2.6 2 5 .2 11.5 -1.4 10 -3.8 2.2 -1.5 1.5 -2 .4 -3.5 -2.4 -9.5 -.9 -11.5 1 -2 3.2 -3.2 6.8 -8.3 1 -2.5 .1 -2.5 -1.7 -5.5 -1.5 -2.5 -1.7 -1.9 -2 -1.4 -2.5 -1 -5 -.2z"/>
<path fill="#466be3" d="M-57 -57l114 0 0 114 -114 0 0 -114zM9 -48.5l-3.5 .9 -4 1.6 -15.8 8 -2.2 1.5 -2.5 4.5 -3.5 11.3 -7.9 15.7 -.8 2.5 -.2 2.5 .4 2.5 1.1 2.5 1.9 2.3 7.8 7.7 3.7 2.6 5 .5 9.5 -.4 4 -.6 14 -3.4 2.7 -1.7 1.6 -2.5 .4 -2.5 -.2 -2.5 -4.6 -10.5 -1.1 -5 -.2 -4 .9 -3 2.5 -4.5 5.9 -8 .6 -2.5 -.2 -3 -2.3 -6 -3.2 -4 -1.8 -1.2 -2.5 -1 -2.5 -.4 -3 .1z"/>
<path fill="#477bf2" d="M-57 -57l114 0 0 114 -114 0 0 -114zM9 -49.5l-5 1.4 -18.5 8 -2.5 1.3 -1.5 1.3 -2.7 4.5 -3.8 10.6 -8.4 16.4 -.9 3 -.1 2.5 .7 3 1.3 2.5 2.9 3.4 7.5 6.6 2.5 2 2.5 1.4 4 .7 12 0 9 -1.3 9 -.9 2.5 -.7 2 -1.2 1.9 -2 1.4 -2.5 .7 -4 -.5 -3.7 -1.3 -3.3 -4.7 -8.1 -1.1 -3.4 -.3 -3 .5 -3.5 1.5 -4 1.2 -2 3.4 -4 1 -2 .5 -3 -.5 -3 -2.7 -6.5 -1.5 -2.2 -2 -1.9 -2 -1.3 -2.5 -.9 -2.5 -.4 -3 .2z"/>
<path fill="#458afc" d="M-57 -57l114 0 0 114 -114 0 0 -114zM9 -50.5l-4 1.1 -19.5 7.4 -3 1.4 -2 1.6 -1.8 2 -1.8 3 -4.4 9.9 -6 11 -3 6.6 -.8 3 0 3 .7 2.5 1.7 3 5.5 5.5 8.2 6.5 3.7 2.2 4.5 .9 12 .3 9.5 -1.1 11 -.2 2.9 -1.1 2.6 -2 2 -2.5 1.5 -3 1 -5.5 -.7 -5 -1.6 -3.5 -5.2 -7.5 -1.1 -2.5 -.5 -3 .2 -3.5 .9 -3 3.6 -4.5 1.5 -3 .2 -3 -.7 -3.5 -3.1 -6.9 -3.5 -4.1 -2.5 -1.6 -2.5 -.8 -2.5 -.3 -3 .2z"/>
<path fill="#3e9bfe" d="M-57 -57l114 0 0 114 -114 0 0 -114zM9 -51.5l-24 7.9 -3.3 1.6 -2.6 2 -2.3 2.5 -2.6 4 -10.2 18.5 -3.6 8 -.8 3 0 3 1 3 2 3 3.4 3.5 4.3 3.5 8.3 6 3.9 2 4.5 .9 12 .5 9 -.7 9.5 .6 3.5 -.3 3 -1.2 3 -2.3 2.9 -3.5 1.8 -3.5 1 -3.5 .4 -3.5 0 -4 -.6 -3 -1.7 -3.5 -6.3 -7.3 -1 -2.2 -.5 -2.5 .4 -3.5 3.4 -4.5 1.1 -2.5 .2 -3.5 -.9 -4 -3.4 -7.5 -1.8 -2.5 -2 -2 -2.5 -1.5 -2.5 -.9 -3 -.4 -3 .3z"/>
<path fill="#35abf8" d="M-57 -57l114 0 0 114 -114 0 0 -114zM8.5 -52.5l-9.5 3.4 -14.5 4.1 -3.5 1.6 -3 2.2 -3 3.2 -3.9 5.5 -9.9 16 -4.1 8.5 -.8 3.5 .1 3 1 3 2 3 4.3 4 5.9 4.5 8.2 5.5 4.7 2.4 4.5 .9 12 .6 9 -.5 10.5 1.1 3.5 -.3 3.8 -1.7 4.1 -3.5 3.1 -4 1.9 -4 1.7 -8 .3 -4.5 -.2 -3.5 -.5 -2 -1.1 -2 -6.6 -6 -1.6 -3 .1 -2.5 2.1 -4.5 .6 -3.5 -.4 -4 -1.4 -4 -3.9 -8 -3.6 -4 -2.4 -1.5 -3 -1 -3 -.4 -3.5 .4z"/>
<path fill="#28bceb" d="M-57 -57l114 0 0 114 -114 0 0 -114zM8 -53.5l-9 3.4 -15 3.6 -4 1.8 -3 2.2 -6 6.5 -8.9 12.5 -5.2 8 -2.9 6 -.9 4 .1 3.5 1.1 3.5 2.2 3 4 3.5 9.3 6.5 7.1 4.5 5.2 2.5 5.9 1.1 12 .7 7.5 -.4 11 1.6 4 -.2 4.5 -2.1 5.1 -4.2 3.2 -4 2.4 -5 1.5 -5.5 1.3 -6.5 .3 -4 -.3 -3.5 -2 -4.5 -4.4 -5 -1.1 -1.8 -1.9 -11.2 -4.9 -11 -3.1 -5 -4.1 -3.3 -5 -1.6 -3 -.1 -3 .5z"/>
<path fill="#1fc9dd" d="M-57 -57l114 0 0 114 -114 0 0 -114zM10 -55l-4 .9 -7 2.8 -15 3.2 -3.9 1.6 -3.3 2 -6.7 6.5 -8.2 10 -7.3 10 -3.4 6.5 -1.1 4.5 -.1 4 1.1 4 2.3 3.5 3.6 3 13.1 8.5 6 3.5 5.4 2.6 5.5 1.2 13 .7 7 -.2 11.5 2 4 0 5.1 -2.3 6.5 -5 3.4 -4 2.5 -5.2 3 -9.8 1.3 -7 -.2 -5.5 -1.6 -5.3 -1.6 -2.7 -5.4 -7 -9.4 -18.5 -2.4 -3.5 -2.8 -2.5 -3.4 -1.7 -3.5 -.9 -4 .1z"/>
<path fill="#19d5cd" d="M-57 -57l114 0 0 114 -114 0 0 -114zM9 -56.1l-3.5 .9 -6.9 2.7 -12.6 2.3 -6.5 2.2 -3 1.7 -3 2.3 -9.6 9.5 -11.6 14 -2.7 4.5 -1.8 4.5 -.9 5 .5 4.5 1.7 4.5 2.8 3.5 2.8 2 19.6 11.5 6.7 3.2 5 1.2 14 .8 6.5 -.1 11.5 2.4 4 .2 3 -.9 3.5 -1.9 5.8 -3.9 3.3 -3 2.3 -3 1.8 -3.5 3.5 -10 1.7 -6 .7 -4.5 .1 -4 -.5 -4 -1.1 -3.5 -2.3 -4 -5.8 -5 -3 -3.6 -5.1 -7.4 -3.6 -7.5 -2.9 -3.5 -2.9 -2.2 -3.5 -1.5 -4 -.7 -4 .3z"/>
<path fill="#19e2bb" d="M-57 -57l64.3 0 -9.3 3.2 -11.5 1.9 -5 1.3 -5 2.2 -4.5 3.2 -13.1 12.2 -6.3 7 -3.9 5 -2.5 4.5 -1.4 4 -.7 4.5 .2 4 .9 3.5 1.4 3 1.9 2.8 2.2 2.2 20.7 11.5 8.1 3.9 3.5 1.2 4 .7 19.5 .6 11 2.6 3.5 .4 4 -.8 6.5 -3.6 6 -4 3.8 -4 2.6 -5 5.3 -14 1.4 -6 .4 -5.5 -1.1 -6.5 -1.3 -3 -1.6 -2.5 -2 -2 -7 -5.1 -4 -4.2 -3 -3.8 -3.3 -6.9 -3 -4 -3.7 -2.9 -3.8 -1.6 39.8 0 0 114 -114 0 0 -114z"/>
<path fill="#20eaac" d="M-57 -57l59.8 0 -5.8 1.9 -15 2.6 -4.5 1.6 -4.3 2.4 -11.9 9.5 -8.5 8 -6 7 -3.8 6.7 0 -39.7zM20.9 -57l36.1 0 0 114 -114 0 0 -56.9 2.8 4.9 4.2 4 10 4.7 13.4 7.3 7.1 3 4.5 1.2 20 .8 12.5 3.1 5 .3 4.5 -1.6 10.2 -5.8 3.4 -2.5 2.7 -3 1.9 -3.5 5.4 -12.5 2.4 -7 .8 -4 .3 -4 -.3 -3.5 -.8 -3.5 -1.7 -4 -2.2 -3 -2.9 -2.5 -7.7 -5.2 -3.5 -3.1 -3 -3.6 -3.1 -6.1 -2 -3 -2.9 -3 -3.1 -2z"/>
<path fill="#32f298" d="M-57 -57l54.9 0 -15.9 2.7 -5 1.6 -4.5 2.3 -10.3 7.4 -8 6.5 -6.8 6.5 -4.4 5.6 0 -32.6zM23.7 -57l33.3 0 0 40.3 -.5 -3.3 -1 -3.5 -1.5 -3 -1.8 -2.5 -3.7 -3.5 -9 -5.7 -4 -3.3 -2.5 -3 -4.7 -8 -2.2 -2.5 -2.4 -2zM57 -13l0 70 -114 0 0 -52.8 3.3 3.8 3.2 2.4 10 4.3 12 6.4 9.5 3.9 6.5 1.3 17 .3 12.7 3.4 5.3 .4 4.2 -1.4 12.5 -6.5 2.9 -2 2.4 -2.5 2.4 -4 7.4 -16 1.8 -5.5 .9 -5.5z"/>
<path fill="#46f884" d="M-57 -57l43.2 0 -9.2 2.3 -4.1 1.7 -4.4 2.5 -15.5 11 -5.8 5 -4.2 4.4 0 -26.9zM26.2 -57l30.8 0 0 30 -2.5 -3.5 -3.1 -3 -11.4 -7.1 -3.5 -2.9 -2 -2.3 -4.6 -7.2 -3.7 -4zM56.8 -1.5l.2 58.5 -114 0 0 -50.1 2.9 2.6 3.1 2 10 4.1 12.2 6.4 10.3 3.9 6.5 1.1 10 -.3 5.2 .3 4.3 .9 9 2.9 5.5 .5 2.5 -.5 3.3 -1.3 13.2 -6.4 3.5 -2.5 3.5 -4.6 8.8 -17.5z"/>
<path fill="#5dfc6f" d="M-57 -57l34.4 0 -7.4 3 -9.4 5.5 -10.2 7 -7.4 6.3 0 -21.8zM28.6 -57l28.4 0 0 25.1 -5.2 -4.6 -9.8 -5.8 -3.5 -2.5 -2.5 -2.7 -4.3 -6 -3.1 -3.5zM56.8 4l.2 53 -114 0 0 -48 5.5 3.6 10 3.9 12.5 6.4 10.5 3.8 6.5 1 10.5 -.5 3.5 .2 4.5 1 9.5 3.2 5.5 .6 5.1 -1.2 15.4 -6.8 3 -1.8 2.4 -2.4 1.9 -2.5 7.5 -13.5z"/>
<path fill="#79fe59" d="M-57 -57l27.9 0 -6.3 3 -8.8 5 -6.9 4.5 -5.9 4.5 0 -17zM31.2 -57l25.8 0 0 21.2 -4.5 -3.4 -12 -7.3 -3 -2.9 -6.3 -7.6zM56.9 8.5l.1 48.5 -114 0 0 -46.3 4.8 2.8 11.2 4.3 10.5 5.5 11.5 4.1 7 1.1 10.5 -.8 3 .2 4.5 1.1 9.5 3.4 5.5 .7 5.3 -1.1 19.2 -8.1 2.5 -2.1 2.4 -2.8 6.5 -10.5z"/>
<path fill="#8fff49" d="M-57 -57l21.6 0 -12.1 6.2 -9.5 6.2 0 -12.4zM34 -57l23 0 0 17.5 -15 -9.3 -3 -2.7 -5 -5.5zM-57 12.5l5 2.3 10 3.6 12 6.2 11 3.6 7 1 13 -.9 4.3 1.2 9.2 3.6 6 .9 5.5 -1 8 -3.5 12 -4.3 2.9 -2.2 2.5 -2.5 5.6 -7.9 0 44.4 -114 0 0 -44.5z"/>
<path fill="#a4fc3c" d="M-57 -57l14.5 0 -8 4 -6.5 3.9 0 -7.9zM37.3 -57l19.7 0 0 13.9 -12.5 -7.5 -7.2 -6.4zM-57 14l0 -.3 4 1.8 10 3.5 12.5 6.4 11.5 3.6 4 .8 3.5 .2 12 -1.2 4.2 1.2 9.3 3.8 6 1 5.5 -.8 9 -3.7 11.7 -3.8 2.5 -1.5 3 -2.5 5.3 -6.3 0 40.8 -114 0 0 -43z"/>
<path fill="#b4f836" d="M-57 -57l6.4 0 -6.4 3.4 0 -3.4zM41.3 -57l15.7 0 0 10.2 -10 -5.9 -5.7 -4.3zM-57 15.5l0 -.4 13.5 4.7 13 6.7 11.5 3.4 4 .7 3.5 .2 12 -1.4 3.5 1.1 9.5 4.1 6 1 3 -.1 3 -.7 9 -3.6 12 -3.6 5.1 -3.1 5.4 -5.3 0 37.8 -114 0 0 -41.5z"/>
<path fill="#c3f134" d="M46.4 -57l10.6 0 0 6.4 -10.6 -6.4zM-57 16.5l13.5 4.3 12.5 6.7 11 3 4 .9 4 .2 12.5 -1.5 3 1 9 4.1 6 1.2 3.5 -.1 3 -.6 9.5 -3.6 12 -3.2 5.4 -2.9 5.1 -4.3 0 35.3 -114 0 0 -40.5z"/>
<path fill="#d4e735" d="M52.8 -57l4.2 0 0 2.4 -4.2 -2.4zM-57 18l0 -.4 12.5 3.9 11 6.1 5 1.8 10 2.4 4.5 .6 4 0 8 -1.5 2.5 0 11.5 5.1 6 1.2 3.5 -.1 3.5 -.6 9.5 -3.5 12.2 -3 5.3 -2.5 5 -3.6 0 33.1 -114 0 0 -39z"/>
<path fill="#e1dd37" d="M-57 19l12.5 3.5 10 5.8 5 1.9 11 2.6 4.5 .6 4 -.2 8 -1.4 2.5 0 11 5 5.5 1.2 4 0 3.5 -.6 10.5 -3.7 11.5 -2.5 5.5 -2.2 5 -3.2 0 31.2 -114 0 0 -38z"/>
<path fill="#eecf3a" d="M-57 20.5l0 -.4 12 3.2 10 6.1 5 1.9 11.5 2.4 4.5 .6 4 -.1 7.5 -1.4 2.5 0 2.5 .7 8.5 4.2 5.5 1.2 4 -.1 4 -.6 10.5 -3.5 12 -2.5 5 -1.8 5 -2.8 0 29.4 -114 0 0 -36.5z"/>
<path fill="#f6c33a" d="M-57 21.5l12 2.9 9.5 6.1 4.5 1.7 17 3.1 3.5 -.1 8 -1.3 2.5 0 2.5 .8 8 3.9 5.5 1.1 4 0 4 -.6 11.5 -3.6 11.5 -2.2 5 -1.6 5 -2.5 0 27.8 -114 0 0 -35.5z"/>
<path fill="#fbb637" d="M-57 23l0 -.5 11.5 2.9 9.5 6.2 4.5 1.7 17.5 3 4 -.1 7.5 -1.2 2.5 .1 2.5 .8 7.6 3.6 4.9 1.1 5 -.1 5.5 -1 10 -3 13.5 -2.6 8 -3.1 0 26.2 -114 0 0 -34z"/>
<path fill="#fea431" d="M-57 24l7 1.3 4 1.2 9.5 6.2 4 1.6 18.5 3.1 3.5 0 7 -1 3 0 3 .8 7.5 3.4 4.5 .9 4.5 -.1 6 -1 11 -3 13 -2.3 8 -2.9 0 24.8 -114 0 0 -33z"/>
<path fill="#fe932a" d="M-57 25.5l0 -.5 10.5 2.7 9.5 6 4 1.7 19.5 3.2 3.5 0 7 -.9 2.5 0 3 .9 7 3 4 .8 4.5 -.1 6.5 -1 11.5 -2.9 13.5 -2.3 7.5 -2.4 0 23.3 -114 0 0 -31.5z"/>
<path fill="#fb7e21" d="M-57 26.5l6 1.2 4 1.3 9.5 5.8 4.5 1.7 19.5 3.3 3.5 0 7 -.8 2.5 .2 10 3.5 3.5 .7 4.5 -.1 6 -1 13 -3 13 -2.1 7.5 -2.2 0 22 -114 0 0 -30.5z"/>
<path fill="#f66c19" d="M-57 28l0 -.3 3.5 .8 5.5 1.6 10 5.7 4.5 1.7 20.5 3.6 9.5 -.6 3 .2 9.5 3 3.5 .7 8 -.7 16 -3.4 13 -1.9 7.5 -2 0 20.6 -114 0 0 -29z"/>
<path fill="#f05b12" d="M-57 29.5l0 -.5 8 2.2 10.5 5.7 5 1.7 21 3.8 12 -.3 9.5 2.7 3 .5 7 -.5 17.5 -3.4 13.5 -1.9 7 -1.8 0 19.3 -114 0 0 -27.5z"/>
<path fill="#e7490c" d="M-57 30.5l8 2.3 10 5.1 5 1.7 11 1.8 10.5 2.3 11.5 -.2 12.5 2.8 6.5 -.4 18 -3.4 14 -1.9 7 -1.5 0 17.9 -114 0 0 -26.5z"/>
<path fill="#dd3d08" d="M-57 32l7 2 10.6 5 5.4 1.7 10.5 1.7 11 2.6 11.5 -.1 12 2.4 6 -.3 17.5 -3.2 15 -1.9 7.5 -1.5 0 16.6 -114 0 0 -25z"/>
<path fill="#d02f05" d="M-57 33.5l6.5 1.8 10.5 4.7 5.5 1.8 11 1.7 11 2.6 11.5 .2 11.5 1.9 6 -.2 9.5 -1.9 24 -3.1 7 -1.3 0 15.3 -114 0 0 -23.5z"/>
<path fill="#c32503" d="M-57 35l5.5 1.6 11 4.5 6 1.8 10.5 1.6 11.5 2.8 11.5 .4 11 1.6 6 -.2 10.6 -2.1 23.4 -2.8 7 -1.2 0 14 -114 0 0 -22z"/>
<path fill="#b41b01" d="M-57 36.5l6 1.8 11 4.3 5 1.4 11 1.7 11.5 2.8 11.5 .5 10.5 1.3 6 -.2 12.5 -2.3 22 -2.4 7 -1.1 0 12.7 -114 0 0 -20.5z"/>
<path fill="#a11201" d="M-57 38.5l0 -.5 3.5 1 16 5.6 13.5 2.2 9.5 2.5 23.5 2 6.5 -.2 13.5 -2.4 28 -3.1 0 11.4 -114 0 0 -18.5z"/>
<path fill="#8e0a01" d="M-57 40l0 -.4 2.5 .7 16.5 5.4 13.5 2.3 10 2.5 22.5 1.9 7 -.2 14.5 -2.4 27.5 -2.8 0 10 -114 0 0 -17z"/>
<path fill="#7a0403" d="M-57 41.5l0 -.3 2 .5 16.5 5.1 13.5 2.4 10.5 2.5 5 .7 16.5 1.1 8 -.2 15 -2.5 27 -2.5 0 8.7 -114 0 0 -15.5z"/>
</g>
<path class="cl" d="M9 -52.1l-10.5 3.7 -13.5 4 -3.5 1.6 -3 2.2 -2.8 3.1 -3 4.5 -9.9 17 -4 8.5 -.9 3.5 .2 3 1 3 2.1 3 3.6 3.5 5.8 4.5 8 5.5 3.9 1.9 4.5 1 12 .5 9 -.6 10 .9 3.5 -.3 3.5 -1.5 3.5 -2.9 2.8 -3.5 2 -4 1.6 -8 .1 -4 -.6 -3.5 -1.8 -3.5 -6.4 -6.5 -1.6 -4 .3 -2.5 2.8 -4.5 1.1 -3 0 -3.5 -1.3 -4.5 -3.8 -8 -3.5 -4 -2.4 -1.5 -2.8 -1 -3 -.3 -3 .2M.7 -57l-4.7 1.3 -14 2.3 -4.5 1.5 -4.6 2.4 -11.2 8.5 -8 7 -6.7 7 -4 5.9M-57 2.5l3.4 4.5 3.6 2.9 9.5 4.2 13.5 7.2 7.5 3.1 4 1.1 20 .7 13 3.4 4.5 .3 5.5 -1.8 13 -7.4 2.5 -2.3 2.3 -3.4 8.2 -18.5 2 -8.5 0 -4 -.5 -4 -1.8 -5 -2.7 -3.9 -3 -2.8 -8 -5.1 -4.5 -3.8 -2.5 -3.1 -4.7 -8.3 -2.8 -3 -2.7 -2M-46.5 -57l-10.5 5.6M57 -44.9l-11.5 -6.9 -6.3 -5.2M-57 14.4l14 5.1 12.5 6.5 11 3.3 4 .9 4 .2 12 -1.3 13 5.1 6 1 6 -.8 9 -3.7 12 -3.7 5.2 -3.5 5.3 -5.7M-57 21.9l12 3.1 9 5.9 4.5 1.8 17.5 3.1 14 -1.3 10.5 4.6 5 1 4.5 0 5.5 -1 10 -3.1 13.5 -2.7 8 -3.3M-57 29.7l8 2.3 10.5 5.5 5 1.7 21 3.9 12 -.2 12.5 2.9 6.5 -.5 17.5 -3.3 14 -1.9 7 -1.7M-57 38.8l18.7 6.2 13.8 2.4 10 2.5 22.5 1.9 7 -.1 14.5 -2.5 27.5 -2.9"/>
</g>
<use href="#head"/>
</g>
<g transform="translate(453.0 510.9)">
<circle r="54" fill="#e6e8fa" fill-opacity=".5" filter="url(#b2)"/>
<g clip-path="url(#cd)"><g filter="url(#b1)">
<rect x="-57" y="-57" width="114" height="114" fill="#a1fd3d"/>
<path fill="#a7fc3a" d="M-57 -57l114 0 0 114 -114 0 0 -114zM33 -15.7l-1 .7 -.8 1.5 .1 2 .7 1.6 1.4 1.4 1.6 .7 1.5 0 1.5 -.6 1.1 -2.1 -.2 -1.5 -.7 -1.5 -2.6 -2 -2.6 -.2z"/>
<path fill="#acfb38" d="M-57 -57l114 0 0 114 -114 0 0 -114zM32 -19.6l-3 1.8 -1.9 3.3 -.1 4 1.8 4 3.2 3.1 4 1.7 4 0 3.5 -1.5 2.1 -2.3 .8 -2.5 -.2 -2.5 -1.4 -3 -2.7 -3 -3.6 -2.4 -3.5 -1 -3 .3z"/>
<path fill="#b1f936" d="M-57 -57l114 0 0 114 -114 0 0 -114zM33.5 -23l-3 .8 -2.5 1.4 -2 2 -1.5 2.8 -.7 3 .3 3.5 .9 3 1.8 3 2.2 2.4 3 2.2 3 1.5 3.5 1 3.5 .4 3.5 -.3 3.5 -1.1 2.5 -1.4 2.5 -2.7 1.3 -3.5 -.5 -4 -2 -3.5 -4.1 -4 -6.7 -4.3 -4.5 -1.9 -4 -.3z"/>
<path fill="#b7f735" d="M-55.8 -57l112.8 0 0 38.9 -18 -7.6 -2.5 -.5 -3 .2 -5 2 -4 3.1 -2.5 4.4 -.8 5 .8 5 2.5 4.8 4 4.4 5 3.3 6 2.3 6 1 6 -.4 5.5 -1.7 0 49.8 -114 0 0 -95.3 1.5 -9.2 -.3 -9.5z"/>
<path fill="#bcf534" d="M-48.8 -57l105.8 0 0 31.4 -11 -1.3 -5 -2.1 -2.5 -.7 -2.5 0 -3 .8 -6 3.3 -4.5 3.8 -2.9 5.3 -.9 5.5 .8 5.1 2.5 5.4 4 4.8 5 4 6 3.2 6.5 2.2 6.5 .8 7 -.5 0 43 -114 0 0 -69.9 2.4 -11.6 5.2 -14.5 1.2 -4.5 .4 -6 -1 -7.5z"/>
<path fill="#c1f334" d="M-42.3 -57l99.3 0 0 22.3 -7.5 .4 -9.5 -.8 -2.5 .6 -3 1.3 -10.5 7.6 -3.2 3.1 -2 3 -1.4 3 -.8 3 -.3 3 .9 5.5 2.4 5.5 3.9 5.1 5.5 4.9 6.5 4.1 7 2.9 7 1.6 7.5 .3 0 37.6 -114 0 0 -35.1 2.2 -4.9 1.5 -6 1.3 -20.5 1.7 -10 2.6 -7.5 5.8 -11 1.6 -4.5 .1 -5.5 -2.1 -9z"/>
<path fill="#c6f034" d="M-36.4 -57l93.4 0 0 11.2 -15 3.4 -3.5 1.4 -3 1.9 -6.5 7.1 -8 6.9 -2.7 3.1 -2 3 -1.4 3 -.8 3 -.2 3 1 6 2.7 6 4.1 5.5 5.8 5.3 7.5 5.1 7 3.3 7 2 8 .9 0 32.9 -114 0 0 -26.2 3 -3.3 2.4 -3.5 1.6 -3.5 1.3 -4 1.1 -7.5 .6 -17.5 1.3 -8 1.6 -5 1.8 -4 8.2 -11.5 1.8 -4 .1 -2 -.5 -3 -3.7 -11z"/>
<path fill="#cbed34" d="M-31.3 -57l88.3 0 0 1.4 -16 7.6 -4.5 2.9 -3 2.5 -6.2 9.6 -9 8.5 -3.6 4.5 -2.5 5 -.8 5 .8 6 2.8 6.6 4.2 5.9 6.3 6.1 8 5.9 7.5 4 7.5 2.5 8.5 1.3 0 28.7 -114 0 0 -20.1 5 -4.4 3.1 -3.5 2.4 -3.7 1.8 -4.3 1 -4.5 .7 -5 .9 -20 1.7 -8 1.5 -4 2.3 -4 3 -4 5.9 -6.5 1.8 -3.5 .2 -2.5 -.5 -3 -5.1 -13z"/>
<path fill="#d0ea34" d="M-26.9 -57l72.6 0 -7.7 5.9 -5 4.7 -3 3.9 -2.5 6 -2.3 3.5 -9.5 9 -3.1 3.5 -2 3 -1.2 3 -.6 3 -.1 3.5 1.6 6.5 3.5 7 4.7 5.9 6.5 6.1 8.5 6.3 7 4 7.5 2.7 9 1.8 0 24.7 -114 0 0 -15.1 7.3 -5.9 4.5 -4.5 2.7 -4 2 -5 2 -10.5 1.3 -20.5 2.1 -8 1.9 -4 2.2 -3.5 3 -3.5 5.7 -5.5 2.1 -3.5 .1 -2.5 -.7 -3 -6.1 -15z"/>
<path fill="#d4e735" d="M-23.1 -57l61.6 0 -5 5.7 -3.5 4.8 -1.9 3.5 -2.3 6 -2.1 3.5 -2.8 3 -8.7 7.5 -3.9 4.5 -1.5 2.5 -.9 3 -.3 3 .2 3 2.3 7.5 3.5 6.5 4.9 6 7 6.4 9 7.1 6.5 4 8.5 3.3 9.5 2.3 0 20.9 -114 0 0 -10.6 13.5 -11.2 3.2 -3.7 2 -3.5 1.8 -5 1.7 -7 1.1 -7.5 1.5 -15 1.9 -8 1.8 -4.1 2.3 -3.9 2.2 -2.7 5.5 -5.1 2.3 -4.2 .4 -2.5 -.5 -3 -6.8 -17z"/>
<path fill="#d9e436" d="M-19.6 -57l53.4 0 -5.3 8.7 -4.1 10.8 -2.1 3.5 -3.8 3.8 -10.8 8.2 -4 4.5 -1.8 4.5 -.2 2.5 .4 3 2.7 8 3.5 6.5 4.7 6 7.5 7 11 8.9 6 4 9 3.9 10.5 2.9 0 17.3 -114 0 0 -6.4 15.7 -13.1 3.4 -3.5 2.2 -3.5 2.2 -5.5 2.5 -8.5 4.5 -22.4 2 -7.1 3.1 -6.5 5.9 -6.9 2 -3.8 .8 -4.3 -.4 -4.5 -6.5 -18z"/>
<path fill="#dde037" d="M-16.3 -57l46.3 0 -3.7 8.5 -3.3 10.5 -2.4 4 -2.6 2.4 -4 2.8 -18.2 10.3 -1.7 2 -.3 1.5 .3 2 2.2 5.5 7.8 14 4.3 5.5 5.6 5.5 15 12.6 6.5 4.7 10 4.8 11.5 3.6 0 13.8 -114 0 0 -2.3 16 -13.7 4.2 -4 2.5 -3 4.3 -9.5 11 -30 3.5 -5.9 5.5 -5.6 .9 -1.5 .3 -2 0 -5 -1 -10.5 -1.2 -5 -5.3 -16z"/>
<path fill="#e1dd37" d="M-13.2 -57l40 0 -4.9 17.5 -2.3 4.5 -3.1 2.8 -4.5 2.6 -5.5 2.1 -4.5 .8 -2 -.2 -2 -.8 -1.5 -1.3 -1.5 -2.4 -6.2 -17.6 -2 -8zM-11.1 2l3.1 -.2 3.5 1.7 13.3 13 25.2 20.3 10.5 5.5 12.5 4.4 0 10.3 -111.9 0 14.4 -13 7 -7.2 2.8 -4.3 7.2 -14.7 4.5 -7.9 4 -5.3 2 -1.7 1.9 -.9z"/>
<path fill="#e5d938" d="M-10.2 -57l33.9 0 -3 16 -1 3 -1.1 2 -3.6 2.9 -6 2.3 -5 .5 -2 -.4 -2 -1.1 -2.9 -3.2 -2.6 -5.4 -3.2 -9.1 -1.5 -7.5zM-10.1 11l4.1 0 4.5 1.9 15 10.6 16.2 13 4.8 3.4 10.5 5.7 12 4.6 0 6.8 -107.5 0 11.5 -11.1 6.5 -7 3.1 -4.4 6.9 -11.7 4.5 -6.1 4 -3.8 3.9 -1.9z"/>
<path fill="#e9d539" d="M-7 -57l27.5 0 -1.4 15 -.9 3.5 -1.2 1.9 -3.5 2.2 -5 1.2 -4 -.4 -3.4 -1.9 -2.8 -3.5 -2.8 -6 -1.8 -6 -.7 -6zM-10.2 17l3.2 -.5 3.5 .5 4 1.5 5 2.7 9.5 6.3 14.5 11.7 6.5 4.5 10 5.5 11 4.5 0 3.3 -103.5 0 14.5 -15.5 9.5 -13.8 3.5 -4.4 4.5 -4.2 4.3 -2.1z"/>
<path fill="#ecd13a" d="M-3.4 -57l20.2 0 .4 6.5 -.2 6.8 -.7 3.7 -1.1 2 -2.9 1.5 -3.8 .4 -3.3 -.9 -2.7 -2 -2.9 -4 -2.2 -5 -.9 -4.5 .1 -4.5zM-8.2 21l3.2 -.1 3.5 .7 4.5 1.6 4.5 2.3 8.5 5.5 13.5 11 7 5 9.5 5.4 10.4 4.6 -99.2 0 11.3 -12.9 9.5 -13 3.5 -4.1 5 -4.1 2.5 -1.2 2.8 -.7z"/>
<path fill="#eecf3a" d="M1.5 -56.5l.2 -.5 9.7 0 1.6 4.4 .7 5.1 -.3 4 -.5 1.5 -.9 1.1 -2 .7 -2.5 -.5 -2.1 -1.3 -2.2 -2.5 -1.7 -3.1 -1 -3.4 .1 -2.5 .9 -3zM-7.2 24.5l3.7 .1 4 .9 4.5 1.6 4.5 2.3 7.5 5.1 17.5 14.2 7 4.5 7 3.8 -87.9 0 8.4 -10.3 9 -12.1 3.5 -4 5.5 -4.3 3 -1.2 2.8 -.6z"/>
<path fill="#f1cb3a" d="M-9 28l4 -.5 4.5 .6 5 1.6 5 2.5 7.5 5.1 16 13.4 9.3 6.3 -78.5 0 13.7 -18.5 3.5 -4.2 5 -4.1 5 -2.2z"/>
<path fill="#f4c73a" d="M-6.6 30.5l4.1 .1 4 .8 4.5 1.7 4.5 2.4 6 4.2 12.5 11 8.1 6.3 -70.3 0 10.7 -15.3 4.5 -5.3 2.5 -2.2 3 -1.9 3 -1.2 2.9 -.6z"/>
<path fill="#f5c53a" d="M-8.2 33.5l4.2 -.3 4 .5 4.5 1.5 5 2.5 6.5 4.6 16.4 14.7 -62.6 0 8.2 -12.5 4 -5.1 4.5 -3.8 2.5 -1.2 2.8 -.9z"/>
<path fill="#f7c13a" d="M-6.9 36l3.9 0 4 .8 4 1.4 4.5 2.3 5.4 4 13.2 12.5 -55.4 0 6.8 -11 3.9 -5 4.6 -3.5 5.1 -1.5z"/>
<path fill="#f8be39" d="M-8.4 39l3.4 -.3 4 .5 4 1.2 4.5 2.1 5.5 3.9 10.8 10.6 -48.1 0 5.2 -9 3.2 -4.5 3.4 -2.9 4.1 -1.6z"/>
<path fill="#f9bc39" d="M-8.7 42l3.2 -.3 3.5 .4 3.5 1 4 1.8 5.9 4.1 8.1 8 -40.6 0 4.1 -7.5 2.7 -4 2.3 -2.2 3.3 -1.3z"/>
<path fill="#fbb838" d="M-7.8 45.5l2.3 -.2 3 .4 6 2.3 5.3 3.5 5.9 5.5 -32.3 0 5.1 -8.6 2.1 -1.9 2.6 -1z"/>
<path fill="#fbb637" d="M-7.5 51l3.5 -.4 4 1 4.5 2.2 4.3 3.2 -22 0 2.9 -4 2.8 -2z"/>
</g>
<path class="cl" d="M57 -15.5l-5.8 -3.5 -11.2 -5.2 -3 -.9 -3 -.1 -5 1.7 -3.9 3 -2.3 4 -.9 5 1 5 2.6 4.8 4 4 5 3 6 1.9 6 .5 5.5 -.9 5 -2.3M57 -40.3l-15.5 1.5 -3 .9 -3 1.6 -13.5 11.3 -2.3 2.5 -3.4 6 -1.2 6 .8 5.5 2.5 6 4.1 5.5 5.5 5 7 4.6 7 3.2 7 1.8 8 .7M-57 26.9l3.8 -5.9 2.2 -7 .8 -6 .7 -17.5 2.1 -10.5 2.8 -7 6.6 -10.5 1.7 -4 0 -5.5 -3 -10M43.1 -57l-6.1 5.3 -4.5 4.6 -2.9 4.1 -2.5 6 -2.1 3.5 -10.5 10 -3.4 4 -1.8 3 -1.1 3 -.4 3 .2 3.5 1.8 6.5 3.4 6.5 4.8 6 7 6.4 8.5 6.5 6.5 3.7 8 3 9 1.9M-57 43.3l11.1 -9.3 2.9 -3.3 2 -3.3 1.8 -4.9 1.5 -6.5 1.8 -23 1.9 -8 1.9 -4.5 2.5 -4 8.8 -9 2 -3.5 .3 -2 -.7 -3 -6.5 -16M29.7 -57l-3.7 8.8 -3.2 10.2 -2.9 4.5 -4.4 3.6 -7.5 4.3 -9 4.3 -4 1 -1.5 -.7 -1 -1.9 -2.4 -15.1 -6.1 -19M-57 55.1l16 -13.7 6.6 -6.9 3.9 -8 12 -31 4 -6 2.5 -2 2 -.8 1.5 .3 1.5 1.7 9.7 16.3 3.1 4.5 4.6 5 6.6 6 13.5 11.1 5.5 3.8 10 4.7 11 3.5M20.8 -57l-1.4 14 -1.5 5.5 -1.4 1.6 -2.5 1.5 -3 1 -3.5 .5 -2.5 -.2 -2.5 -1 -2.4 -1.9 -1.8 -2.5 -4.1 -9.5 -1.1 -4.5 -.4 -4.5M-46.9 57l14.9 -15.8 10 -14.6 4 -4.9 5.5 -4.3 5 -1.4 5 .8 7 3.5 10.5 6.9 14.5 11.7 6 4.2 10 5.5 11.5 4.7M-37.2 57l15.1 -20 4.1 -4.6 3 -2.5 3 -1.8 3 -1 3.5 -.5 3.5 .4 4.5 1.1 8.5 4.2 6.5 4.5 15.5 12.9 11.1 7.3M-28.7 57l7.9 -12.5 4.3 -5.1 2.5 -2.1 3 -1.6 6 -1.2 3.5 .3 4 1 8.5 4.2 5 3.8 14.2 13.2M-20.1 57l4.1 -7.5 3 -4.1 3 -2 4 -.7 6 1 6.2 2.8 4.8 3.5 7.1 7"/>
</g>
<use href="#head"/>
</g>
</g>
<g id="row-d">
<text class="t" x="58.2" y="648.1" textLength="22.6" lengthAdjust="spacingAndGlyphs">HC</text>
<text class="t" x="256.1" y="647.0" textLength="28.4" lengthAdjust="spacingAndGlyphs">MCI</text>
<text class="t" x="453.1" y="647.0" textLength="48.7" lengthAdjust="spacingAndGlyphs">p-value</text>
<text class="l" x="270.6" y="808.9">(d)</text>
<rect x="317.8" y="627.4" width="5.9" height="176" fill="url(#gt)"/>
<rect x="514.7" y="627.4" width="5.9" height="176" fill="url(#gp)"/>
<text class="k" x="326.7" y="630.3">34.3</text>
<text class="k" x="326.7" y="674.3">33.2</text>
<rect x="317.8" y="671.1" width="5.9" height=".6" fill="#000" fill-opacity=".18"/>
<text class="k" x="326.7" y="718.3">32.1</text>
<rect x="317.8" y="715.1" width="5.9" height=".6" fill="#000" fill-opacity=".18"/>
<text class="k" x="326.7" y="762.3">31</text>
<rect x="317.8" y="759.1" width="5.9" height=".6" fill="#000" fill-opacity=".18"/>
<text class="k" x="326.7" y="806.3">29.9</text>
<text class="p" x="523.4" y="629.9">1</text>
<text class="p" x="523.4" y="688.6">0.1</text>
<rect x="514.6" y="685.8" width="6" height=".6" fill="#000" fill-opacity=".18"/>
<text class="p" x="523.4" y="747.3">0.01</text>
<rect x="514.6" y="744.4" width="6" height=".6" fill="#000" fill-opacity=".18"/>
<text class="p" x="523.4" y="805.0">0.001</text>
<g transform="translate(58.3 715.4)">
<circle r="54" fill="#e6e8fa" fill-opacity=".5" filter="url(#b2)"/>
<g clip-path="url(#cd)"><g filter="url(#b1)">
<rect x="-57" y="-57" width="114" height="114" fill="#372466"/>
<path fill="#3d358b" d="M-57 -57l114 0 0 114 -114 0 0 -114zM-1.5 5l-.9 .5 -.6 1 .7 1.5 2.3 .6 2.4 -1.1 .3 -1 -.7 -1.3 -1.5 -.5 -2 .3z"/>
<path fill="#4249b1" d="M-57 -57l114 0 0 114 -114 0 0 -114zM-1.5 -31.5l-1.5 .5 -1.5 1.3 -.8 1.2 -.5 2 .5 4.5 2.6 7.5 -.2 2.5 -1.9 3.5 -7.4 10 -1.3 3 -.4 3.5 .3 1.5 1 1.5 3.6 2.3 5 1.3 6 .2 5 -1.1 3.8 -2.2 2.4 -3 .5 -3.5 -.4 -2 -1.3 -2.5 -7 -9 -2.1 -4 0 -2.5 2.1 -5.8 .7 -3.2 .1 -2.5 -.5 -2 -1 -1.5 -1.8 -1.2 -2 -.5 -2 .2z"/>
<path fill="#4559cb" d="M-57 -57l114 0 0 114 -114 0 0 -114zM-1.5 -34l-2.5 .5 -2 1 -2.3 2.5 -.7 3 .3 9.5 -.7 4.5 -2 4.5 -6.6 10 -1.2 3 -.3 2.5 .6 2.5 1.1 2 2 2 2.3 1.4 4 1.4 4.5 1.1 7.5 .3 6 -1.2 6 -3 2.3 -2 1.5 -2 .9 -2 .1 -2 -.3 -2 -1.1 -2.5 -6.4 -9.5 -2.1 -4.5 -.7 -4.5 .4 -9.5 -.8 -3 -1.5 -2 -2.3 -1.3 -3 -.7 -3 0z"/>
<path fill="#466be3" d="M-57 -57l114 0 0 114 -114 0 0 -114zM-4 -35.6l-4.5 1.6 -1.5 1.3 -1 1.7 -.6 3.5 0 8.5 -.7 4 -2 4.5 -7.2 11.5 -1.1 3.5 -.1 3 .7 2.5 1.6 2.5 2.4 2.4 2.5 1.5 4.5 1.6 6.5 1.6 4 .5 4 -.2 8 -2.1 3 -1.3 3.2 -2 2.3 -2.2 1.9 -2.8 .7 -2 .1 -2.5 -1.7 -5.2 -6.4 -9.8 -2.1 -4.5 -.9 -5 -.1 -9.5 -1 -3.1 -2 -1.9 -3.5 -1.4 -4.5 -.6 -4.5 .4z"/>
<path fill="#477bf2" d="M-57 -57l114 0 0 114 -114 0 0 -114zM-1.5 -37.5l-4.5 .5 -3.5 1 -2 1.2 -1.5 1.8 -.8 3 0 9 -.8 4.5 -2 4.5 -6.9 11.1 -1.3 3.9 -.4 3.5 .6 3 1.6 2.9 2.2 2.6 2.8 2.1 3.5 1.5 6.8 1.9 5.2 1.1 4 .2 4.5 -.6 5.5 -1.4 3.5 -1.3 3.6 -2 2.9 -2.5 2.1 -3 1.4 -3 .2 -2.5 -.4 -3 -1.4 -3.5 -6.8 -11 -2 -4.5 -.8 -4.5 0 -9 -1.1 -3.5 -1.7 -1.7 -3 -1.3 -4.5 -.9 -5 -.1z"/>
<path fill="#458afc" d="M-57 -57l114 0 0 114 -114 0 0 -114zM-7 -38.5l-5.5 1.6 -1.8 1.4 -.9 1.5 -.6 3 0 8.5 -.5 3.5 -1.8 4.5 -5.9 9.5 -2 4.5 -1.1 5.5 .1 2.5 .7 2.5 2.8 4.5 4.1 3.5 4.7 2 8.7 2.3 5 .9 3.5 0 7 -1.4 6.3 -1.8 4.2 -2.2 3 -2.9 3.4 -5.4 .7 -4 -.4 -3.5 -1.3 -4 -6.9 -11.5 -1.9 -4.5 -.8 -4.5 0 -8.5 -.6 -3 -.9 -1.5 -1.3 -1.1 -4.5 -1.6 -7.5 -.8 -8 .5z"/>
<path fill="#3e9bfe" d="M-57 -57l114 0 0 114 -114 0 0 -114zM-6.5 -40l-4 .6 -3 1 -2.2 1.4 -1.3 2 -.7 4 0 8.5 -.8 3.5 -1.8 4 -5.7 9.2 -2.2 5.8 -.6 5.5 1.1 5 3.2 4.9 4.5 3.7 5 2 11 2.8 3.5 .6 3.5 -.2 9.3 -1.8 5.7 -1.7 4 -2.4 3.5 -4.4 2.6 -5 .7 -4.5 -.5 -4 -1.4 -4 -6.7 -11.5 -1.9 -4.5 -.6 -4 0 -8 -.7 -3.5 -.8 -1.5 -1.2 -1.1 -4.8 -1.9 -7.2 -.8 -9.5 .3z"/>
<path fill="#35abf8" d="M-57 -57l114 0 0 114 -114 0 0 -114zM-4 -41.5l-5.5 .4 -4 .9 -3 1.6 -1.7 2.1 -1.1 4 -.2 8.5 -.6 3.5 -1.8 4 -5.6 9.2 -2.2 5.8 -.6 6 1 5.5 2.4 4.5 3.9 4 4.3 2.5 6.4 2 9.3 2.2 4 .4 9.9 -1.6 7.9 -2 2.2 -1 2 -1.5 3.5 -4.6 2.8 -5.4 1 -5.5 -.5 -4.5 -1.4 -4.5 -6.6 -11.5 -1.7 -4 -.6 -3.5 -.1 -8 -.8 -3.5 -1.1 -2 -1 -1 -4.5 -2.1 -6 -.8 -10 -.1z"/>
<path fill="#28bceb" d="M-57 -57l114 0 0 114 -114 0 0 -114zM-9 -42.5l-4 .7 -3.2 1.3 -2.3 1.9 -1.5 2.6 -1 4 -.3 8 -.5 2.5 -1.7 3.5 -5.5 9.2 -2.2 6.3 -.6 4 .1 3.5 .6 3.5 1 3 1.7 3 2.1 2.5 2.3 2.1 2.9 1.9 5.6 2.1 11.8 2.9 3.7 .6 3.5 -.3 12 -2.1 5.5 -1.7 1.7 -1 1.8 -1.7 4.8 -7.3 2 -5 .5 -5 -.6 -4.5 -1.4 -4.5 -6.7 -12 -1.4 -3.5 -.5 -2.5 -.2 -7.5 -1.2 -4.5 -1.3 -2 -1.6 -1.5 -2.4 -1.3 -3 -.8 -6.5 -.6 -14 .2z"/>
<path fill="#1fc9dd" d="M-57 -57l114 0 0 114 -114 0 0 -114zM-11 -43.6l-4 1.1 -3 1.6 -2.2 2.4 -1.6 3 -.9 4 -.5 7 -.5 2 -6.8 12.3 -2.2 6.7 -.5 4.5 .1 4 .8 4 1.3 3.3 1.6 2.7 2.1 2.5 2.8 2.5 3 1.9 6 2.2 12 2.8 3.5 .5 4.5 -.4 12 -2 5.5 -1.7 2 -1.3 1.8 -2 5.1 -8 1.8 -5 .5 -5.5 -.5 -4.5 -1.5 -5 -7.5 -14.5 -1 -9.5 -1.6 -5 -1.6 -2.4 -2 -1.8 -2.5 -1.3 -3 -.9 -6.5 -.5 -16.5 .3z"/>
<path fill="#19d5cd" d="M-57 -57l114 0 0 114 -114 0 0 -114zM-9.5 -45l-4.5 .7 -4 1.8 -3 2.8 -2.1 3.7 -1.2 4 -1.6 9 -6.1 11.4 -2.1 6.6 -.5 4.5 .1 4.5 .7 4 1.4 4 3.2 5 5.2 4.5 5 2.4 7.6 2.1 9.4 1.9 3.5 .2 14 -1.9 7 -1.9 2 -1.3 1.8 -2 5.6 -8.5 2.1 -5.5 .7 -5.5 -.3 -4.5 -1.1 -4.5 -2 -5 -5.4 -10.5 -1.7 -9.5 -1.4 -4 -1.7 -3 -2.1 -2.2 -2.5 -1.6 -3 -1.1 -5.5 -.7 -17.5 .1z"/>
<path fill="#19e2bb" d="M-57 -57l114 0 0 114 -114 0 0 -114zM-11.5 -46.1l-3.5 .8 -3 1.3 -2.6 2 -2.4 3 -2.3 5 -2.9 10.5 -5.9 12 -1.5 5.5 -.4 6.5 .7 6.5 1.9 5.5 3.4 5 5.1 4.5 5 2.5 7 2 10 2 3.9 .4 15 -1.9 7.1 -2 1.9 -1.2 2.2 -2.3 6 -9 2.1 -5.5 .8 -6.5 -.3 -5 -1.3 -5.4 -1.8 -4.6 -4.4 -9 -2.6 -9.5 -1.6 -4 -1.8 -3 -2.3 -2.5 -3 -1.9 -3 -1.1 -6 -.8 -19.5 .2z"/>
<path fill="#20eaac" d="M-57 -57l114 0 0 114 -114 0 0 -114zM-13.5 -47l-3 .9 -3 1.6 -2.5 2.1 -2.2 2.9 -2.6 5 -3.4 10 -5.6 12 -1.4 6 -.2 7 1.1 7 2 5.5 3.4 5 5.3 4.5 5.1 2.6 7 2.1 10.5 2 4 .3 15 -1.6 4.1 -.9 3.4 -1.2 2 -1.3 2.5 -2.5 6.1 -9 2.4 -6 1.1 -7 -.3 -6 -1.6 -6.5 -5.5 -12.5 -4.6 -12 -2.1 -3.5 -2.5 -2.8 -3 -2.1 -3.5 -1.3 -6 -.8 -8.5 .3 -9 -.3 -4.5 .5z"/>
<path fill="#32f298" d="M-57 -57l114 0 0 114 -114 0 0 -114zM-12 -48.5l-3.5 .7 -3.5 1.4 -3 2.2 -2.4 2.7 -3.8 6.5 -8.3 18.8 -1.9 6.7 -.5 7 .9 8 2.3 7 3.2 5 5 4.7 5 3 7.1 2.3 10.5 2 5.9 .6 14.5 -1.3 4.5 -.9 3.5 -1.3 2.5 -1.5 2.2 -2.1 6.6 -9 2.7 -6 1.5 -7.5 0 -7 -1.5 -7.5 -1.9 -5 -6.8 -15 -2.8 -5 -2.9 -4 -3.1 -2.7 -3.5 -1.8 -3 -.8 -3.5 -.4 -10 .4 -12 -.2z"/>
<path fill="#46f884" d="M-57 -57l114 0 0 114 -114 0 0 -114zM-14 -49.6l-3.5 1.1 -3 1.5 -2.6 2 -2.4 2.8 -5 8.2 -7.7 16.5 -1.8 7 -.3 7.5 1.2 8.5 2.5 7.5 3.7 5.5 5.2 4.5 5.2 3 7 2.3 9.7 1.7 6.8 .7 15 -1.2 4.5 -.9 3.5 -1.4 2.5 -1.5 2.4 -2.2 5.6 -7 3.1 -5.5 2 -6 1.1 -7.5 -.3 -7 -1.6 -7.5 -2.8 -7 -5.9 -11 -4.1 -6.4 -3.5 -4 -3.5 -2.4 -4 -1.5 -4.5 -.6 -10.5 .5 -9.5 -.6 -4.5 .4z"/>
<path fill="#5dfc6f" d="M-57 -57l114 0 0 114 -114 0 0 -114zM-13.5 -51l-3.5 .8 -3 1.3 -3 2 -2.5 2.5 -7 10.4 -4.3 8 -2.5 5.5 -2.1 8 -.5 7.5 1.4 9.5 2.6 8 3.4 5.5 4.8 4.5 5.7 3.6 7 2.5 9 1.7 9 1 14.5 -.9 4.5 -.9 4 -1.4 2.6 -1.6 2.5 -2 6 -7 3.3 -5.5 2.2 -6 1.6 -8 .2 -7.5 -1.2 -7.5 -2.5 -7 -5.6 -9.5 -6.6 -9.5 -3.2 -3.5 -3.8 -2.6 -4 -1.5 -4.5 -.6 -11 .6 -8.5 -.7 -5 .3z"/>
<path fill="#79fe59" d="M-57 -57l114 0 0 114 -114 0 0 -114zM-12.5 -52.5l-3.5 .6 -3.5 1.2 -3 1.7 -3 2.5 -8.5 11.5 -3.9 6.5 -2.5 5 -2.4 8 -.6 8.5 1.2 9.5 2.9 9.5 3.3 5.5 4.4 4.5 6.6 4.4 7 2.7 8.5 1.7 10.5 1 14 -.6 4.5 -.8 4 -1.3 5 -3.1 5.9 -6 4 -5.5 2.9 -6.5 2.2 -8.5 .8 -8.5 -.8 -8 -2.1 -7 -4.1 -7 -10.1 -13.5 -3.2 -3.3 -3.5 -2.4 -4 -1.6 -4.5 -.7 -12 .6 -8 -.7 -4.5 .1z"/>
<path fill="#8fff49" d="M-57 -57l114 0 0 114 -114 0 0 -114zM-11.5 -54l-4 .5 -4 1.2 -3.5 1.8 -3 2.4 -2.8 3.1 -7.1 9.5 -3.6 5.5 -2.4 4.5 -1.4 4 -1.1 4.5 -.6 8.5 1.2 9.5 3.2 10.5 3.1 5.6 4.7 4.9 7.3 5 7 2.7 11 2 12.5 .6 11 -.5 4 -.8 3.5 -1.1 5.5 -3.4 6.2 -6 4.2 -5.5 2.8 -6 2.8 -9.5 1.1 -8.5 -.4 -8.5 -2 -7.5 -1.6 -3 -2.7 -4 -11.5 -14 -3 -3 -3.7 -2.5 -4.2 -1.6 -4.5 -.8 -4.5 -.1 -8 .6 -11.5 -.6z"/>
<path fill="#a4fc3c" d="M-57 -57l114 0 0 114 -114 0 0 -114zM-12 -55.5l-4 .5 -4 1.2 -3.5 1.8 -3.3 2.5 -2.8 3 -8 10 -3.7 5.5 -2.4 4.5 -1.4 4 -1 4.5 -.5 9 1.5 9.5 3.4 11 3.2 5.8 4.4 4.7 7.6 5.2 7.5 3.1 11 1.9 15.5 .8 9 -.5 7 -1.9 6 -3.5 6.6 -6.1 4 -5 3 -6 3.4 -10.5 1.5 -9 -.2 -9 -1.9 -7.5 -1.6 -3 -2.8 -4 -12.2 -14 -3.7 -3.5 -3.6 -2.3 -4.5 -1.8 -5 -.8 -12.5 .4 -12 -.5z"/>
<path fill="#b4f836" d="M-57 -57l43.8 0 -3.8 .6 -4 1.3 -3.5 1.8 -3 2.2 -3.1 3.1 -6.8 8 -6.1 8.5 -3 6.5 -1.6 8 -.1 8 1.5 8.5 3.3 10.5 3.2 6.5 4.3 5 7.4 5.3 6.5 3.3 7 1.9 8.9 1 15.6 .6 8.5 -.6 6.5 -2 6.3 -4 7.6 -7 3.9 -5.5 3.6 -8.5 3 -10 1.2 -8.5 -.3 -7 -1.3 -6 -2 -4.5 -3.7 -5 -12.5 -13.5 -3.9 -3.5 -2.9 -1.9 -3.5 -1.6 -6.9 -1.5 43.9 0 0 114 -114 0 0 -114zM-6 -57l12.2 0 -6.2 .3 -6 -.3z"/>
<path fill="#c3f134" d="M-57 -57l36.2 0 -4.2 2 -3.5 2.5 -3.7 3.5 -5.3 6 -4.5 5.5 -3 4.5 -2.4 4.5 -1.3 4 -.9 4.5 -.4 5 .2 5 .6 4.5 1.6 6.5 2.9 8.5 2.2 5 2.1 3.5 3.4 3.6 5.1 3.9 5.9 3.5 5.5 2.3 4.6 1.2 5.9 .8 20.5 1 8 -.7 6.5 -2.1 7 -4.5 7.4 -6.5 3.4 -4.5 2.9 -6 4.4 -12 1.8 -8.5 .3 -6.5 -.7 -6 -1.5 -5 -2.5 -4.7 -4.6 -5.8 -12.4 -12.5 -4.5 -3.5 -5.1 -2.5 36.1 0 0 114 -114 0 0 -114z"/>
<path fill="#d4e735" d="M-57 -57l31.9 0 -3.9 2.5 -3.5 3 -10.2 11.5 -5.3 8 -1.7 4 -1.1 4 -.9 9 .3 5 .7 4.5 1.8 6.5 3.5 9.5 1.7 4 2.2 3.6 3.5 3.8 4.8 3.6 7.2 4.3 5.5 2.3 4.5 1.1 5.5 .7 21.5 1 7.5 -.6 6.5 -2 7.6 -4.8 7.8 -6.5 3.1 -4 2.8 -5.5 5.3 -13 2.1 -8.5 .6 -6.5 -.5 -6 -1.3 -5.5 -2.5 -5.2 -4.8 -6.3 -9.6 -9.5 -5.6 -5 -4.6 -3 31.6 0 0 114 -114 0 0 -114z"/>
<path fill="#e1dd37" d="M-57 -57l28.1 0 -3.6 2.8 -3.9 3.7 -9.5 11 -4.4 7.5 -1.5 4 -1 4 -.7 9 1.3 9.5 2 6.5 4.1 10.5 3.7 7 3.2 3.5 4.7 3.5 8 4.8 5.5 2.4 4.5 1.1 5 .7 11.5 .2 11.5 .9 7.5 -.6 6 -2 8.9 -5.5 7.5 -6 2.9 -3.5 2.7 -5 6.1 -14 2.4 -8.5 .8 -6.5 -.2 -6.5 -1.3 -6 -2.3 -5.2 -3.2 -4.8 -4.5 -5 -9.6 -9 -5.8 -4.5 27.6 0 0 114 -114 0 0 -114z"/>
<path fill="#eecf3a" d="M-57 -57l24.6 0 -5.2 4.5 -5.9 6.4 -4.4 5.6 -3.1 5.1 -2.2 4.9 -1.4 5.5 -.6 5.5 .1 6 1.1 6.5 1.9 6.5 5.4 13.5 2.7 5 2.9 3.5 3.7 3 8.1 5 5.3 2.8 5 1.7 5.5 .9 6.5 .5 7 -.1 10.5 1 8.5 -.6 6.5 -2.1 13.4 -8.6 3.1 -2.5 2.5 -2.8 2.9 -4.7 5.7 -12 3.9 -10.7 0 64.7 -114 0 0 -114zM33.4 -57l23.6 0 0 27.7 -3 -6.7 -4.3 -6 -7.4 -7.5 -8.9 -7.5z"/>
<path fill="#f6c33a" d="M-57 -57l21 0 -9 9 -3.6 4.5 -3 4.5 -2 4 -1.8 4.5 -1 4.5 -.6 4.8 0 -35.8zM37.5 -57l19.5 0 0 21.1 -3 -4.9 -4 -4.9 -5.9 -5.8 -6.6 -5.5zM-57 -16l1.1 7.5 2.2 7.5 6.6 15.5 3.4 5.5 2.4 2.5 2.8 2.2 11.5 6.9 6 2.5 6.5 1.4 6.5 .4 8 0 8 .9 6.5 .1 6.5 -.9 5.5 -2.1 14.1 -8.9 4.4 -4 3.9 -6 8.1 -17.1 0 59.1 -114 0 0 -73z"/>
<path fill="#fbb637" d="M-57 -57l17.3 0 -5.9 6 -5.2 6.5 -3.6 6 -2.6 6.2 0 -24.7zM41.9 -57l15.1 0 0 15.7 -6 -7.5 -9.1 -8.2zM-57 -6l2.8 7.5 6.1 13.5 2.4 4 3 3.5 5.5 4 12.7 7.1 5.5 1.8 7 1 12 .1 8.5 1 6 .2 6 -.8 5.5 -2 14.8 -8.9 4.4 -3.5 4 -5.5 7.8 -15 0 55 -114 0 0 -63z"/>
<path fill="#fea431" d="M-57 -57l13.6 0 -4.3 4.5 -3.8 4.7 -3 4.5 -2.5 4.8 0 -18.5zM46.6 -57l10.4 0 0 10.7 -4.5 -5.2 -5.9 -5.5zM-57 -1.5l8.5 18 2.6 4 2.8 3 5.2 3.5 13.4 7.4 5.5 1.8 7 .9 12 .1 8.5 1 6 .2 6 -.7 5 -1.7 16.4 -9.5 3.9 -3 4.3 -5.5 6.9 -12.5 0 51.5 -114 0 0 -58.5z"/>
<path fill="#fe932a" d="M-57 -57l9.8 0 -5.5 6.5 -4.3 6.6 0 -13.1zM51.4 -57l5.6 0 0 5.8 -5.6 -5.8zM-57 2l7.8 15.5 2.8 4 2.9 2.9 4.5 2.9 14.5 7.9 5.5 1.7 6.5 .8 12 .2 9 1 5.5 .2 5.5 -.4 5 -1.5 17.6 -9.7 3.9 -2.6 5 -5.9 6 -10.3 0 48.3 -114 0 0 -55z"/>
<path fill="#fb7e21" d="M-57 -57l6 0 -6 8 0 -8zM56.2 -57l.8 0 0 .9 -.8 -.9zM-57 5.5l6.8 12.5 4.3 5.5 4.7 3.5 14.7 8.1 4.5 1.8 5 1.1 17 .6 10.5 1.2 7.5 -.1 6 -1.4 3.5 -1.6 6.5 -4 10.1 -5.2 3.4 -2.5 2.8 -3 6.7 -10.2 0 45.2 -114 0 0 -51.5z"/>
<path fill="#f66c19" d="M-57 -57l2.3 0 -2.3 3 0 -3zM-57 8.5l6.5 11 4.5 5.3 4 2.7 16.5 8.9 4 1.5 4.5 .9 16.5 .5 11.5 1.2 7.5 -.1 5.5 -1.3 4 -1.8 6.5 -4 9.8 -4.8 3.2 -2.1 3.1 -2.9 2.9 -3.5 3.5 -5.3 0 42.3 -114 0 0 -48.5z"/>
<path fill="#f05b12" d="M-57 11l5.8 9.5 4.7 5.1 4 2.7 8.5 4.1 9 5.1 4 1.3 4 .7 16.5 .6 11.5 1.2 9 -.3 4 -1 3.5 -1.5 7 -4.3 9.1 -4.2 4.2 -2.5 4.4 -4 4.8 -6.1 0 39.6 -114 0 0 -46z"/>
<path fill="#e7490c" d="M-57 14l0 -.5 5.6 8.5 4.9 4.8 3.5 2.2 9 4.2 9.5 5.4 3.5 1.1 4 .6 16 .6 12.5 1.1 8.5 -.2 3.5 -.8 3.5 -1.4 8 -4.7 8.8 -3.9 4.2 -2.3 4.5 -3.7 4.5 -5.2 0 37.2 -114 0 0 -43z"/>
<path fill="#dd3d08" d="M-57 16.5l0 -.5 5.5 7.5 4.5 4.1 4.5 2.7 8.3 3.7 6.2 3.8 4 1.9 6.5 1.3 16 .6 13.5 1.2 8.5 -.2 6.5 -2 8.5 -4.9 12.5 -5.8 4.6 -3.4 4.4 -4.5 0 35 -114 0 0 -40.5z"/>
<path fill="#d02f05" d="M-57 18.5l5 6.1 5 4.2 4 2.2 8.5 3.8 6.5 3.9 4 1.9 6 1.2 16 .6 15 1.3 8 -.3 6 -1.9 9 -5 12.5 -5.6 4.1 -2.9 4.4 -4 0 33 -114 0 0 -38.5z"/>
<path fill="#c32503" d="M-57 20.5l4.9 5.5 4.6 3.6 4 2.2 8.5 3.7 7 4.2 4 1.8 5.5 1.1 15 .6 17 1.3 7.5 -.2 6 -1.8 9.5 -5.1 12.2 -5.4 4.3 -2.8 4 -3.4 0 31.2 -114 0 0 -36.5z"/>
<path fill="#b41b01" d="M-57 22.5l5 5 4.5 3.2 11.5 5.3 8 4.7 4 1.8 5.5 1 12.5 .4 19.5 1.5 7.5 -.2 6 -1.7 10 -5.2 12.1 -5.3 4.1 -2.5 3.8 -3 0 29.5 -114 0 0 -34.5z"/>
<path fill="#a11201" d="M-57 24.5l5 4.4 4 2.7 11.8 5.4 7.7 4.5 4.5 2 5 .9 9.5 .2 23 1.7 7.5 -.2 6 -1.6 10.5 -5.3 12 -5.2 7.5 -4.8 0 27.8 -114 0 0 -32.5z"/>
<path fill="#8e0a01" d="M-57 26l4.5 3.8 4.5 2.9 11 5 8.5 4.9 4.5 1.9 4.5 .7 10 .2 23 1.8 7.5 -.2 6 -1.5 11.4 -5.5 11.1 -4.7 7.5 -4.5 0 26.2 -114 0 0 -31z"/>
<path fill="#7a0403" d="M-57 28l0 -.5 4.3 3.5 4.7 2.9 11 5 9 5 4 1.6 4.5 .7 10 .2 23 1.7 7.5 -.2 6.1 -1.4 11.9 -5.6 11 -4.6 7 -4 0 24.7 -114 0 0 -29z"/>
</g>
<path class="cl" d="M-8.5 -40.5l-3.5 .7 -3 1.2 -1.5 1.1 -1.3 2 -.7 3.5 -.1 8 -.6 4 -1.8 4 -5.8 9.5 -2.2 6 -.5 6 1.3 5.5 3.4 5 4.8 3.8 5 1.9 11.5 2.9 3.5 .5 4 -.3 10 -2.1 5.4 -1.7 3.6 -2.5 4 -5.6 2 -4.5 .5 -4.9 -.6 -4 -1.4 -4.1 -6.6 -11.4 -1.7 -4 -.6 -3.5 0 -8.5 -1.1 -4 -1 -1.5 -1.5 -1.1 -5 -1.7 -8.5 -.6 -10 .4M-11 -48l-4 .7 -3.5 1.4 -3 2.1 -2.5 2.8 -3.2 5.5 -3.8 10 -4.9 10.5 -1.8 6.5 -.5 7 .9 7.5 2.2 6.5 3.6 5.5 5 4.4 5 2.8 7 2.1 15.5 2.5 15 -1.5 7.5 -2.1 2.5 -1.6 2.1 -2.1 6.4 -9 2.7 -6.5 1.1 -7 -.2 -6.5 -1.4 -6.5 -9.3 -22 -2.5 -4.5 -2.4 -3.2 -3 -2.5 -3.5 -1.7 -6.5 -1.2 -20.5 .1M-14.5 -56l-4 .9 -3.5 1.4 -6 4.2 -11.2 13.5 -3.4 5 -2.3 4.5 -2.2 8.5 -.2 9.5 1.8 10 3.7 11 3.2 5.5 4.5 4.5 7.6 5.1 7.5 3.1 11 1.8 16.5 .8 9 -.6 6.5 -1.9 6.2 -3.8 7.1 -6.5 3.8 -5 2.8 -6 3.5 -10.5 1.6 -9 -.2 -9 -2.1 -8 -4.5 -7 -12.7 -14 -3.8 -3.5 -4.2 -2.5 -4.5 -1.5 -5 -.8 -11.5 .5 -10 -.5 -5 .3M-37.9 -57l-7 7 -5.8 7.5 -3.9 7 -2.4 7.2M57 -38.6l-3 -4.5 -3.7 -4.4 -10.6 -9.5M-57 -9.7l2.7 9.2 6.1 14 2.4 4.5 2.8 3.6 5.7 4.4 12.3 7 5.5 1.9 7 1.1 12.5 .2 8 .9 6.5 .2 6.5 -.9 5.5 -2.1 14.2 -8.8 4.3 -3.6 4.1 -5.9 7.9 -16M-57 12.2l5.1 8.3 5.1 5.5 3.8 2.5 9 4.3 9 5.1 4 1.4 4 .6 16 .6 12 1.1 9 -.2 4 -1 3.5 -1.5 7.3 -4.4 8.9 -4 4.3 -2.5 4.6 -4 4.4 -5.4M-57 25.1l4.3 3.9 4.7 3.2 11.5 5.2 8 4.7 4.5 1.9 5 .8 9.5 .2 23 1.7 7.5 -.2 6 -1.5 11 -5.4 11.5 -4.9 7.5 -4.7"/>
</g>
<use href="#head"/>
</g>
<g transform="translate(255.5 715.4)">
<circle r="54" fill="#e6e8fa" fill-opacity=".5" filter="url(#b2)"/>
<g clip-path="url(#cd)"><g filter="url(#b1)">
<rect x="-57" y="-57" width="114" height="114" fill="#30123b"/>
<path fill="#372466" d="M-57 -57l114 0 0 114 -114 0 0 -114zM2 -42.1l-3 .9 -2.5 1.2 -1.9 1.5 -1.4 2 -.5 2 .3 1.8 1 1.7 2 1.9 2.5 1.3 3.5 1.2 5 .5 2.5 -.7 3 -1.6 2.2 -1.6 1.8 -2 .8 -2 -.3 -2 -1.3 -2 -2.2 -2 -2.5 -1.3 -3 -.9 -3 -.2 -3 .3z"/>
<path fill="#3d358b" d="M-57 -57l114 0 0 114 -114 0 0 -114zM1.5 -43.1l-3.5 1 -2.5 1.2 -2.5 1.8 -1.6 2.1 -.7 2 .2 2 1.2 2.5 1.9 2.1 2.5 1.5 3.5 1.2 4 1 3 .2 2 -.5 2.5 -1.1 3 -2 2.5 -2.4 1.5 -2.5 .2 -2 -1.2 -2.7 -2.5 -2.6 -3 -1.8 -3 -1 -3.5 -.4 -4 .4z"/>
<path fill="#4249b1" d="M-57 -57l114 0 0 114 -114 0 0 -114zM1.5 -44.1l-6 1.8 -4.1 2.8 -2.1 3.5 -.3 2 .5 2.2 2.3 3.8 3.7 2.6 9 2.6 2.5 .1 2 -.5 4.5 -2.5 4.2 -3.8 2 -3.5 -.1 -3 -1.1 -2 -1.6 -2 -4.4 -3.1 -5 -1.3 -6 .3z"/>
<path fill="#4559cb" d="M-57 -57l114 0 0 114 -114 0 0 -114zM1.5 -45l-6.5 1.7 -4.6 2.8 -1.6 2 -1 2 -.3 2 .3 2.5 2.2 4.5 2 2.3 2 1.4 10.5 3.5 3 0 4.5 -2.4 6 -5.4 2.4 -3.9 .3 -3.5 -.8 -2 -1.7 -2.5 -2.2 -2.1 -2.5 -1.6 -2.5 -1 -3 -.6 -6.5 .3z"/>
<path fill="#466be3" d="M-57 -57l114 0 0 114 -114 0 0 -114zM2 -46.1l-6.5 1.4 -4.5 2.1 -3.2 3.1 -1.6 3.5 .1 4 1.4 4 2.8 4.2 4.5 4.8 .9 2 -.7 4 -1.6 5.5 -5.3 9 -1 2.5 -.1 1.5 .6 1.5 1.2 1 2 .7 13.5 .3 3.5 -.9 2 -1.6 .9 -2 0 -2.5 -3.4 -10.5 -.4 -3 .2 -2.5 1.7 -3 10.3 -11 1.6 -2.5 .7 -2 .1 -2.5 -1 -3 -2.2 -3.1 -2.8 -2.4 -2.7 -1.5 -3.5 -1.1 -3.5 -.3 -4 .3z"/>
<path fill="#477bf2" d="M-57 -57l114 0 0 114 -114 0 0 -114zM2.5 -47.1l-7 1.3 -5 2.1 -3.7 3.2 -1.9 4 -.2 3 .5 3 1.3 3.6 3.6 7.4 .7 4 -.5 3 -1.3 3.5 -6.1 11 -.7 2.5 -.1 2 .4 2 1.3 2 1.7 1.3 2 .8 4 .5 11 0 6 -.5 2.5 -.8 2.1 -1.3 1.7 -2 .8 -2 .3 -2 -.2 -2.5 -3.4 -11 -.3 -5 .7 -2.5 1.4 -2.5 7.7 -11 .8 -3 -.3 -3 -1 -2.5 -1.8 -2.8 -2.5 -2.4 -2.5 -1.7 -2.5 -1 -3 -.7 -6.5 0z"/>
<path fill="#458afc" d="M-57 -57l114 0 0 114 -114 0 0 -114zM3 -48l-8 1.3 -5 1.9 -4.1 3.3 -1.3 2 -1 2.5 -.4 2.5 .3 3 3.5 11 .4 5 -1.6 5.5 -5.9 11 -.9 3 -.2 2.5 .7 3 1.6 2.5 1.9 1.7 3 1.3 5 .8 11.5 .1 7.5 -.8 3.1 -1.1 2.4 -1.5 2.1 -2.5 1.3 -3 .3 -2.5 -.2 -2.5 -3.4 -11 -.5 -5.5 .6 -2.5 1.1 -3 6.1 -10 .6 -3 -.5 -3.5 -1 -2.5 -2 -3 -2 -2.1 -2.7 -1.9 -2.8 -1.3 -3 -.8 -6.5 .1z"/>
<path fill="#3e9bfe" d="M-57 -57l114 0 0 114 -114 0 0 -114zM3.5 -49l-9 1.3 -5.5 2 -2.4 1.7 -2 2 -1.3 2 -1 2.5 -.4 2.5 .1 3 2.8 11 0 5 -1.5 5 -6 11.5 -.9 3 -.1 3 .9 3.5 2.3 3.5 2.5 2.1 3.7 1.4 5.8 1 10.5 .1 5 -.3 4.5 -1 3.5 -1.3 2.7 -2 2.4 -3 1.5 -3.5 .3 -2.5 -.3 -3 -3.4 -11.5 -.5 -5 .4 -3 1 -3 4 -7 1 -2.5 .3 -3 -.7 -3.5 -1.3 -3 -1.9 -2.7 -2.5 -2.6 -2.5 -1.7 -2.5 -1.2 -3 -.8 -6.5 0z"/>
<path fill="#35abf8" d="M-57 -57l114 0 0 114 -114 0 0 -114zM4 -50.1l-10 1.4 -5.5 1.9 -2.5 1.6 -2.3 2.2 -1.6 2.5 -1.2 3 -.4 5 2.2 10.5 -.1 5 -1.5 5 -6 12 -.9 3.5 -.2 3 1.5 4.5 3 3.9 3 2.3 5 1.7 6 1 9 .2 5.9 -.6 5.6 -1.4 3.7 -1.6 3.1 -2.5 2.6 -3.5 1.4 -3.5 .3 -3 -.3 -3 -3.2 -11.5 -.7 -5 1.1 -6 3.2 -6 .9 -2.5 .2 -3.5 -.7 -3.5 -1.3 -3 -2 -3 -2.3 -2.6 -2.5 -1.9 -3 -1.5 -3 -.9 -6.5 -.2z"/>
<path fill="#28bceb" d="M-57 -57l114 0 0 114 -114 0 0 -114zM4 -51.1l-11 1.4 -3 .9 -3 1.4 -2.7 1.9 -2.3 2.6 -1.7 2.9 -1 3.5 -.2 4.5 1.7 9 -.1 4.5 -1.5 5 -6.3 13.5 -.8 4 .1 3.5 .8 2.5 1.5 2.5 4.2 4.5 4.8 2.5 6.5 1.7 5.5 .8 6 -.1 7.5 -1.2 6 -1.7 3.7 -2 3.3 -3 2.5 -3.5 1.4 -4 .3 -3 -.3 -3 -3.1 -11.5 -.7 -5 .6 -5.5 2.6 -5.5 .9 -3 .1 -3.5 -1 -4 -1.7 -3.5 -2 -3 -2.1 -2.3 -2.5 -2 -3 -1.6 -3 -.9 -3.5 -.4 -3.5 .1z"/>
<path fill="#1fc9dd" d="M-57 -57l114 0 0 114 -114 0 0 -114zM3.5 -52.1l-10 1.2 -5 1.3 -5 3 -3.4 4.1 -1.8 4 -.8 4 .2 4 1.3 7 -.3 4.5 -1.7 5 -5.2 11.5 -1.5 6 .1 4 1.1 3 2.3 3.5 3.2 3.2 3 2.1 4 1.7 5.5 1.6 5.5 1 5 .1 6.5 -1 6.7 -1.7 4.8 -2 3.6 -2.5 3.2 -3.5 2.2 -3.8 1 -3.7 -.3 -6 -2.8 -11 -.7 -5 .3 -4.5 2.2 -6 .6 -3 -.1 -4 -1.3 -4 -1.9 -3.9 -2 -3 -2.4 -2.6 -2.6 -2 -3 -1.5 -3 -.9 -3.5 -.4 -4 .2z"/>
<path fill="#19d5cd" d="M-57 -57l114 0 0 114 -114 0 0 -114zM2.5 -53l-9.5 .9 -5.5 1.5 -5 3.1 -3.8 4.5 -1.8 4 -.9 4.5 0 4 1.1 7 -.4 3.5 -1.4 4.5 -5.3 12.4 -1.4 6.1 .1 4 1.2 3.5 2.6 4 3.6 3.5 3.4 2.3 4.5 1.9 7.5 2.2 5 .9 5 -.3 9 -1.9 5.5 -1.8 4 -2 4 -3.2 3.1 -3.6 2 -4 .8 -4 -.3 -5.5 -2.6 -11 -.6 -5 .2 -4 1.8 -7 .1 -3.5 -.7 -4 -1.7 -4 -2.1 -4 -2.2 -3 -2.3 -2.3 -3 -2.1 -3 -1.4 -3.5 -.8 -3.5 -.3 -4 .4z"/>
<path fill="#19e2bb" d="M-57 -57l114 0 0 114 -114 0 0 -114zM.5 -54l-8.5 .8 -6 1.8 -5 3.3 -3.7 4.6 -2 4.5 -1 4.5 -.2 4 .6 7 -.4 3 -6.1 17 -1.2 6.5 .3 4.5 1.3 3.5 2.7 4 3.7 3.6 4 2.6 4.5 2 8.5 2.6 5 .9 5 -.5 10 -2.4 5.5 -1.9 4.4 -2.4 4.2 -3.5 3.1 -4 1.7 -4 .8 -4.5 -.3 -5.5 -2.7 -14.5 .1 -4 1 -7 -.1 -4 -1.3 -5 -2.9 -6 -2.2 -3.5 -2.3 -2.8 -2.5 -2.1 -3 -1.7 -3 -1.1 -3.5 -.7 -8.5 .4z"/>
<path fill="#20eaac" d="M-57 -57l114 0 0 114 -114 0 0 -114zM2.5 -55.5l-10 .8 -6 1.5 -5.5 3.1 -4.2 4.6 -2.4 4.5 -1.7 5 -.7 4.5 0 7.5 -.3 3 -5.3 17 -1 5.5 .2 4.5 1.3 4.5 2.4 4 3.9 4 4.2 3 4.6 2.2 8.5 2.8 6 1.3 4.5 -.3 11 -2.5 5.7 -2 4.8 -2.5 4.4 -3.5 3.3 -4 2.2 -4.5 1 -5 -.1 -5.5 -2.2 -14 .3 -11 -.2 -3.5 -1.4 -5 -3.6 -7.5 -2.1 -3.5 -2.1 -2.6 -2.5 -2.3 -3 -1.9 -3 -1.3 -3.5 -.8 -7.5 -.1z"/>
<path fill="#32f298" d="M-57 -57l114 0 0 114 -114 0 0 -114zM-2.5 -56.5l-8 .9 -6 2.1 -5.1 3.5 -3.9 5 -2.7 6 -1.6 5 -1.7 13 -4.1 17.5 -.6 5.5 .6 5 1.6 4.5 2.7 4 4.1 4 4.4 3 5.3 2.5 9.7 3 5.3 1 8.6 -1.5 8.9 -2.4 5.5 -2.2 5 -3.1 4.2 -3.8 3.1 -4.5 1.9 -5 .6 -6 -1.6 -13.5 -.3 -12.5 -.6 -4.5 -2.1 -6 -5.8 -11 -2.4 -3 -2.5 -2.4 -3 -1.9 -3 -1.4 -6.5 -1.2 -10 .4z"/>
<path fill="#46f884" d="M-57 -57l45.7 0 -6.2 2.2 -3 1.8 -2.5 2 -3.9 5 -3.9 8 -2 5.5 -1.4 6.5 -2 15.5 -1.4 7.5 -.1 6.5 1.1 5 2 4.5 3.1 4 4 3.6 4.5 2.9 5.5 2.5 9.9 3 5.1 .9 8 -1.3 8.6 -2.1 5.9 -2.2 5 -2.7 4.5 -3.6 3.5 -4 2.4 -4.5 1.4 -5 .4 -6.5 -.9 -8.5 -.4 -12 -.8 -5 -1.3 -4.5 -6.9 -13.5 -2.9 -4.4 -4.5 -4.2 -5.7 -2.9 43.2 0 0 114 -114 0 0 -114z"/>
<path fill="#5dfc6f" d="M-57 -57l40.2 0 -5.7 3.3 -4.7 4.7 -6.5 11.5 -3.4 7.5 -1.2 4 -.4 3.5 -.1 11.5 -.8 8.5 .4 6 1.4 5.5 2.1 4.5 3.2 4 3.9 3.5 5.1 3.3 5.5 2.5 8 2.5 7 1.5 8 -1.2 9 -2.1 6 -2.1 5.6 -2.9 4.7 -3.5 3.7 -4 2.6 -4.5 1.8 -5.5 .9 -7 -.5 -16.5 -.5 -5 -1 -4 -3.1 -7 -8.3 -14.5 -3.9 -4.6 -5 -3.4 40 0 0 114 -114 0 0 -114z"/>
<path fill="#79fe59" d="M-57 -57l36.1 0 -4.9 3.5 -3.9 4.5 -9.7 15.5 -3 6 -.5 2.5 -.1 3 1.1 10.5 .4 9.5 .8 5.5 1.7 6 2.3 4.5 3.1 4 4.6 3.9 5.5 3.4 6 2.6 9 2.6 6 1 8 -1.1 9 -2 6.5 -2.3 5.8 -3.1 5.2 -3.9 3.7 -4.1 2.6 -4.5 2 -6 1.3 -7.5 .2 -12 -.3 -6 -1 -4.5 -3.1 -6.5 -6.5 -10 -4.3 -8 -3.1 -3.8 -4 -3.2 37.5 0 0 114 -114 0 0 -114z"/>
<path fill="#8fff49" d="M-57 -57l32.3 0 -3.8 3.2 -3.7 4.3 -11.1 15.5 -3 6 -.6 3.5 .3 4.5 4.2 23 1.8 6 2.5 5 3.1 4.1 4.5 3.9 6 3.8 6.5 2.9 8.5 2.4 7 1 9 -1 9 -2 7 -2.6 6.3 -3.5 5.2 -4 3.4 -4 2.8 -5 2.4 -7 1.5 -7.5 .7 -7.5 -.2 -7.5 -1.1 -5.5 -2.9 -5.5 -8.6 -12 -4.7 -8.5 -2.8 -3.5 -2.8 -2.5 35.3 0 0 114 -114 0 0 -114z"/>
<path fill="#a4fc3c" d="M-57 -57l28.6 0 -5.1 5 -9.7 12 -3.6 5 -2.1 4 -1.2 4.5 -.1 4.5 .8 6 1.8 7.5 4.2 13.5 2.3 6 2.9 5 3.6 4 6.9 5 7.7 3.8 9.5 2.8 8.5 1.2 9 -.9 9.5 -2.2 8 -3.1 7.1 -4.1 4.7 -4 3.5 -4.5 3 -6 2.8 -8.5 1.7 -7 .5 -5.5 -.4 -7 -1.4 -5.7 -2.8 -4.8 -9.7 -12.2 -5.7 -9.8 -4.1 -4.5 33.3 0 0 114 -114 0 0 -114z"/>
<path fill="#b4f836" d="M-57 -57l24.8 0 -6.9 7 -9.2 11 -3.4 6 -1.5 6 .1 7 2.1 9.5 7.6 19.5 2.8 5.5 2.6 3.6 3.6 3.4 5 3.5 5.4 3 5 2.1 6 1.8 6 1.1 5.5 .4 9.5 -.8 10 -2.4 8.5 -3.4 7.8 -4.8 4.4 -4 3.5 -5 3.6 -8 3.8 -10.5 .9 -4.5 .1 -6 -.8 -5.5 -1.6 -5 -3.1 -5 -10.1 -11.7 -5.6 -9.3 -3.7 -4.5 31.3 0 0 114 -114 0 0 -114z"/>
<path fill="#c3f134" d="M-57 -57l20.5 0 -9 9 -6 7.5 -3.3 6.5 -1.6 7 .4 7.5 2.3 9 9.8 21.5 2.1 4 3.1 4 3.9 3.5 5.8 3.8 6 3.2 5.4 2 5.6 1.4 5.5 .9 6.5 .2 6 -.3 7 -1.2 6.5 -1.8 6 -2.4 6 -3.1 4.8 -3.2 3.8 -3.5 3 -4 6.2 -13 3.2 -8.5 .8 -6.5 -.8 -7.5 -1.5 -5 -2.5 -4.5 -12 -13.4 -5.8 -9.1 -3 -4 29.3 0 0 114 -114 0 0 -114z"/>
<path fill="#d4e735" d="M-57 -57l15.7 0 -5.8 5.5 -4.4 5 -3.2 4.5 -2.3 4.3 0 -19.3zM29.6 -57l27.4 0 0 114 -114 0 0 -69.5 2.5 6 10.1 19.5 3.7 5.5 4.2 4 5.5 3.7 7 3.8 6 2.2 8.5 1.9 9.5 .6 7.5 -.4 8 -1.5 8.5 -2.8 8.3 -4 6.2 -4.1 4.5 -4.6 3.8 -6.3 5.4 -11 2.2 -5.5 1.3 -7 -.5 -7.5 -1.7 -6 -2.7 -5 -3.2 -4 -9.6 -9.9 -8.4 -12.1z"/>
<path fill="#e1dd37" d="M-57 -57l10.4 0 -6 6 -4.4 5.8 0 -11.8zM31.7 -57l25.3 0 0 33.8 -2.1 -5.3 -2.8 -4.5 -3.1 -3.6 -9.5 -9.5 -7.8 -10.9zM-57 -6.5l7.5 12.5 5.7 10.5 3.3 3.9 4 3.3 10 6 8 3.3 9 1.8 11.5 .6 9.5 -.9 9.5 -2.4 9.8 -4.1 8.4 -5 3.9 -3.5 3.3 -4.5 7.9 -14.5 2.7 -6.7 0 63.2 -114 0 0 -63.5z"/>
<path fill="#eecf3a" d="M-57 -57l4.8 0 -4.8 5.2 0 -5.2zM33.9 -57l23.1 0 0 27.5 -4.1 -6 -11.9 -12.1 -7.1 -9.4zM-57 -2.5l6.5 9.8 6.2 10.7 3.3 3.6 4.5 3.4 10.5 5.9 7.5 2.9 8.5 1.7 12 .6 9 -.7 9.5 -2.2 9.6 -3.7 9.2 -5 4.2 -3.3 3.5 -4.2 10 -17.3 0 57.3 -114 0 0 -59.5z"/>
<path fill="#f6c33a" d="M36.3 -57l20.7 0 0 23 -4.1 -5 -10.4 -10.2 -6.2 -7.8zM-57 1l5.5 7.7 6.4 10.3 3.4 3.5 4.9 3.5 10.8 5.9 7 2.7 8.5 1.6 12.5 .7 8.5 -.5 9.5 -2.1 9.2 -3.3 10.1 -5 4.4 -3 3.8 -4 9.5 -14.9 0 52.9 -114 0 0 -56z"/>
<path fill="#fbb637" d="M38.9 -57l18.1 0 0 19.1 -12.5 -12.5 -5.6 -6.6zM-57 4.5l0 -.5 3.5 4.7 5.3 8.3 2.7 3.5 3.8 3.5 5.5 3.5 10.7 5.6 6.5 2.4 8 1.4 13.5 .7 8.5 -.5 9.5 -1.9 8.5 -3 11 -5.2 4.5 -2.9 3.8 -3.6 3.1 -4 5.6 -8.6 0 49.1 -114 0 0 -52.5z"/>
<path fill="#fea431" d="M41.8 -57l15.2 0 0 15.4 -10.2 -9.9 -5 -5.5zM-57 7l7.7 11 3.3 3.9 3.7 3.1 5.9 3.5 10.9 5.6 6.5 2.3 7.5 1.2 14 .8 8 -.3 9.5 -1.9 8.4 -2.7 11.5 -5 5.1 -3 3.5 -3 3.9 -4.5 4.6 -6.6 0 45.6 -114 0 0 -50z"/>
<path fill="#fe932a" d="M45.1 -57l11.9 0 0 11.7 -11.9 -11.7zM-57 10l7.5 10 4.5 4.5 5 3.2 12.5 6.5 5.5 2.2 5.5 1.4 19.5 1.5 8 -.4 9 -1.7 8 -2.5 11.5 -4.7 5 -2.6 4 -2.9 4 -4 4.5 -5.8 0 42.3 -114 0 0 -47z"/>
<path fill="#fb7e21" d="M48.8 -57l8.2 0 0 7.9 -8.2 -7.9zM-57 13l7 8.5 4.5 4.2 4.6 2.8 14.4 7.2 5 1.8 5 1.1 19.5 1.5 8 -.4 9 -1.6 7.5 -2.2 11.5 -4.4 5.4 -2.5 4.1 -2.6 4.3 -3.9 4.2 -4.8 0 39.3 -114 0 0 -44z"/>
<path fill="#f66c19" d="M52.9 -57l4.1 0 0 4 -4.1 -4zM-57 15.5l6 7 5 4.3 4.5 2.6 15.5 7.5 4.5 1.6 5 1 19.5 1.5 7.5 -.3 9 -1.5 8 -2.2 10.9 -4 5.9 -2.5 4.3 -2.5 4.4 -3.5 4 -4 0 36.5 -114 0 0 -41.5z"/>
<path fill="#f05b12" d="M-57 18.5l0 -.4 6.6 6.9 4.4 3.3 21 10.1 4 1.2 4.5 .8 20 1.5 6 -.2 7.5 -1 7 -1.6 7.5 -2.4 10 -3.6 5.5 -2.5 5 -3.3 5 -4.4 0 34.1 -114 0 0 -38.5z"/>
<path fill="#e7490c" d="M-57 21l0 -.5 6.5 6.1 4.5 3.1 21 9.7 8 1.9 20.5 1.5 5.5 -.2 7.5 -.9 7 -1.5 7 -2 10.5 -3.6 5.5 -2.3 5.5 -3.2 5 -3.9 0 31.8 -114 0 0 -36z"/>
<path fill="#dd3d08" d="M-57 23l6 4.9 4.5 2.9 21.5 9.7 7.5 1.7 20.5 1.6 5.5 -.2 8 -.9 13.5 -3.2 16.5 -5.7 5.2 -2.8 5.3 -3.7 0 29.7 -114 0 0 -34z"/>
<path fill="#d02f05" d="M-57 25l5.5 4.2 4.7 2.8 21.8 9.7 6.5 1.4 21 1.7 5.5 -.1 8 -.9 14 -3.2 16.5 -5.4 5.5 -2.7 5 -3.2 0 27.7 -114 0 0 -32z"/>
<path fill="#c32503" d="M-57 27l5.5 3.8 4.5 2.5 22 9.5 6 1.2 21.5 1.8 5.5 -.1 8 -.9 14 -3 16.5 -5.2 5.5 -2.5 5 -3 0 25.9 -114 0 0 -30z"/>
<path fill="#b41b01" d="M-57 29l10 5.7 22 9.3 5.5 1 21.5 1.9 5.5 -.1 8 -.9 14.5 -3 16.5 -4.8 5.5 -2.4 5 -2.7 0 24 -114 0 0 -28z"/>
<path fill="#a11201" d="M-57 31l0 -.4 5 3.1 5 2.5 22 8.9 5.5 1 21 1.9 6 -.1 8 -.9 15 -3 15.9 -4.5 5.6 -2.2 5 -2.6 0 22.3 -114 0 0 -26z"/>
<path fill="#8e0a01" d="M-57 32.5l9.5 4.9 22 8.8 5 1 21.5 2 6 -.2 7.5 -.8 16 -3 15.7 -4.2 10.8 -4.5 0 20.5 -114 0 0 -24.5z"/>
<path fill="#7a0403" d="M-57 34.5l0 -.4 10.5 5.2 20.5 8 5.5 1 21 2.1 6 -.2 7.5 -.8 17 -3.1 15 -3.8 11 -4.3 0 18.8 -114 0 0 -22.5z"/>
</g>
<path class="cl" d="M3.5 -49.5l-9.5 1.3 -5.5 2.1 -4.3 3.6 -2.6 5 -.4 5 2.5 11 0 5 -1.6 5 -6 12 -.8 3 -.2 3 1.2 4 2.4 3.5 2.8 2.3 4.5 1.7 6 1 10 .2 5.5 -.6 4.8 -1.1 3.7 -1.5 2.5 -2 2.8 -3.5 1.4 -3.5 .1 -5.5 -3.5 -12 -.5 -5 1.4 -6 3.6 -6.5 .8 -2.5 .3 -3 -.7 -3.5 -3.4 -6 -4.8 -4.3 -3 -1.4 -3 -.8 -6.5 0M.5 -56l-9 .8 -6.3 1.7 -5.2 3.2 -4.2 4.8 -2.5 5 -1.8 5.5 -1.4 14 -4.6 17 -.9 5.5 .4 5 1.4 4.5 2.6 4 4 4 4.3 3 5.2 2.5 9.5 2.9 5 1 6.5 -.9 10.3 -2.5 5.7 -2.2 4.7 -2.8 4.3 -3.7 3.2 -4.3 1.9 -4.5 .8 -5.5 -.2 -4.5 -1.9 -12.5 0 -11.5 -.4 -4 -1.7 -5.5 -4.7 -9.1 -4.5 -5.7 -5.5 -3.6 -6.5 -1.8 -8.5 .2M-30.3 -57l-5 5 -9.3 11 -3.4 4.6 -2.3 4.4 -1.3 4.5 -.2 5 .8 6 1.7 7 7.7 21 2.7 4.5 3.6 4 7.3 5.3 8 4 9.3 2.7 8.7 1.1 9.5 -.9 10 -2.3 8.4 -3.4 7.4 -4.5 4.4 -4 3.6 -5 3 -6.5 3.4 -10 1.3 -5.5 .2 -6 -.7 -6.5 -1.5 -4.9 -2.9 -4.6 -9.6 -11.6 -5.6 -9.4 -4.2 -5M57 -36l-4 -4.5 -9.5 -9.2 -6 -7.3M-57 2.5l11.5 17 3.4 3.5 5.2 3.5 10.9 5.9 7 2.6 8.5 1.5 13 .8 8.5 -.6 9.5 -2 8.8 -3.2 10.4 -5 4.5 -3 3.5 -3.5 9.3 -14M-57 19.3l5.6 5.7 4.9 3.7 21 10 8.5 2.1 20 1.5 6 -.1 7.5 -1 14 -3.6 16.1 -6.1 5.4 -3.3 5 -4.1M-57 31.5l9.5 5.2 22 8.9 5.5 1 21 2 13.5 -.9 16 -3.1 16 -4.4 10.5 -4.6"/>
</g>
<use href="#head"/>
</g>
<g transform="translate(453.0 715.4)">
<circle r="54" fill="#e6e8fa" fill-opacity=".5" filter="url(#b2)"/>
<g clip-path="url(#cd)"><g filter="url(#b1)">
<rect x="-57" y="-57" width="114" height="114" fill="#a7fc3a"/>
<path fill="#acfb38" d="M-57 -57l114 0 0 114 -114 0 0 -114z"/>
<path fill="#b1f936" d="M-57 -57l114 0 0 114 -103 0 4.5 -7.5 10.4 -12.5 5.9 -12 2.9 -4 2.8 -2.4 3.5 -1.7 15.5 -3.6 4 -1.6 3 -1.8 3 -2.9 2.8 -4.5 2.2 -6 .5 -4.5 -1 -2.1 -2.5 -.9 -13 -.3 -14.5 -2.1 -3 .1 -2.5 .5 -2.6 1.3 -2.4 2.4 -7.1 13.6 -2.4 3.2 -3 2.8 -4.8 3 -4.7 1.6 -4.5 .2 -4 -1.1 0 -71.2z"/>
<path fill="#b7f735" d="M-57 -57l114 0 0 87.4 -15.1 1.1 -2.9 1.1 -.9 .9 -.2 1 1 2.5 8 12 3.7 8 -86.4 0 4.1 -8 7.2 -11.2 4 -5.3 3.5 -3.2 3.5 -2.1 4 -1.5 11 -1.8 9.5 -2.4 4 -1.8 2.5 -2.1 1.3 -2.1 .9 -3.5 1.3 -12.5 1.6 -10 0 -3.5 -1.1 -2.4 -2 -.9 -10.5 .8 -4.5 0 -5.5 -1 -5.1 -2 -3.7 -2.5 -2.8 -3 -2.2 -4 -2.1 -7 -1.1 -2.4 -3 -4.1 -3.5 -3.1 -5.5 -3.2 -6.5 -2.2 -8 -1.5 -12.5 -1.2 0 -3.3z"/>
<path fill="#bcf534" d="M-34.2 -57l91.2 0 0 72.4 -9.5 1.3 -6 .2 -5.5 -1.2 -4 -2.2 -3.3 -4 -2.2 -6 -.6 -6.5 .9 -11.5 -.5 -2.5 -1.3 -1.8 -2 -1.5 -2 -.4 -9.5 1.2 -6 -.2 -4.5 -1 -4.5 -2.2 -3.2 -2.6 -2.4 -3 -1.9 -3.5 -3.6 -9 -4.2 -6 -3.1 -3 -3.6 -2.6 -8.7 -4.4zM1.3 31l6.2 -.2 5 .4 4 1.2 3.5 2 3.6 3.6 4.4 6 3.8 6.5 2.9 6.5 -62.6 0 2.2 -6 2.9 -6 2.9 -4.5 3.4 -3.7 3.5 -2.5 4 -1.7 4.5 -1 5.8 -.6z"/>
<path fill="#c1f334" d="M-24.7 -57l81.7 0 0 61.6 -8 3 -5 1 -5 -.5 -4 -1.9 -3 -3.4 -1.8 -4.3 -.6 -5 .6 -9 -.5 -2 -1.5 -2 -2.7 -2 -3 -1.2 -10 1 -4.5 -.1 -5 -1.1 -4.5 -2.3 -3 -2.6 -2.5 -3.4 -5.3 -12.3 -2.7 -4.5 -4 -4.5 -5.7 -4.5zM-5.4 38l5.4 -.5 6 .4 4.5 1 3.5 1.7 3 2.7 2.6 3.7 2.4 5 1.6 5 -44 0 2.1 -8 1.7 -3.5 1.6 -2.4 2 -2 2 -1.3 5.6 -1.8z"/>
<path fill="#c6f034" d="M-19.2 -57l76.2 0 0 47 -2 1.4 -4.9 6.6 -3.1 2.4 -2.5 1 -2.5 .4 -2.5 -.4 -2 -.8 -2.7 -2.6 -1.6 -3.5 -.2 -4 1.3 -6.5 -.3 -1.5 -1 -1.5 -4.5 -3 -5 -1.9 -2.5 -.2 -8 .7 -4 -.2 -4.5 -1.1 -4.3 -2.3 -2.8 -2.5 -2.5 -3.5 -4.9 -12 -2.4 -4.5 -3.1 -3.9 -3.7 -3.6zM-2.9 46l5.9 .4 2.5 .9 2 1.2 1.5 1.5 1.2 2 1.3 5 -22.4 0 .4 -4.5 1.5 -3.6 2.5 -2 3.6 -.9z"/>
<path fill="#cbed34" d="M-15.1 -57l72.1 0 0 36.4 -6 -2.7 -4 -1 -2.5 .2 -5.5 2 -3 .3 -12.5 -3.3 -12.5 .2 -3.5 -.7 -3.5 -1.4 -4 -2.9 -2.9 -3.6 -2 -4 -4.3 -11.5 -2.5 -4 -3.4 -4zM38.9 -11.5l2.1 .2 1.5 1.8 -.1 2 -1.4 1.5 -1.5 .1 -1 -.4 -1.4 -1.7 0 -2 1.8 -1.5z"/>
<path fill="#d0ea34" d="M-11.8 -57l68.8 0 0 32.3 -6.5 -1.8 -4.5 -.5 -2 .3 -6 2.1 -4.5 .3 -10.5 -1.8 -11.5 -.1 -5.5 -1.6 -4 -2.7 -3.3 -4 -2.1 -4.5 -3.6 -10.7 -2 -3.6 -2.8 -3.7z"/>
<path fill="#d4e735" d="M-9 -57l66 0 0 29.6 -5.7 -1.1 -4.8 -.2 -3 .5 -6.5 2 -4 .3 -10 -1.1 -10 -.3 -5.5 -1.5 -4.2 -2.7 -3.2 -4 -2 -4.5 -3.1 -10.3 -4 -6.7z"/>
<path fill="#d9e436" d="M-6.6 -57l63.6 0 0 27.3 -5.5 -.6 -5 .1 -10 2.6 -4.5 .4 -17.5 -1 -5.5 -1.3 -4.5 -3 -3.2 -4 -1.9 -4.5 -2.5 -9.5 -3.5 -6.5z"/>
<path fill="#dde037" d="M-4.4 -57l61.4 0 0 25.4 -5.5 -.3 -4.5 .3 -10.5 2.7 -4.5 .6 -16 -.7 -6 -1.4 -4.5 -3 -3 -4.1 -1.8 -4.5 -2.2 -9 -2.9 -6z"/>
<path fill="#e1dd37" d="M-2.5 -57l59.5 0 0 23.6 -9.5 .5 -11.5 3 -4.5 .6 -14.5 -.5 -5.5 -1.2 -4.5 -2.8 -3.3 -4.2 -1.7 -4.5 -2 -9 -2.5 -5.5z"/>
<path fill="#e5d938" d="M-.8 -57l57.8 0 0 21.9 -9.5 .9 -11.5 3.2 -4.5 .7 -13 -.3 -6 -1.2 -2.5 -1.2 -2 -1.5 -3 -4 -1.8 -4.5 -2 -9 -2 -5z"/>
<path fill="#e9d539" d="M.8 -57l56.2 0 0 20.3 -9 1.2 -12 3.5 -4.5 .7 -12 0 -6 -1.1 -4.3 -2.6 -3.1 -4 -1.6 -4 -1.9 -9 -1.8 -5z"/>
<path fill="#ecd13a" d="M2.2 -57l54.8 0 0 18.7 -9 1.6 -11.5 3.5 -5 1 -11 .1 -6 -1 -4.2 -2.4 -3.1 -4 -1.6 -4 -1.9 -9 -1.5 -4.5z"/>
<path fill="#eecf3a" d="M3.6 -57l53.4 0 0 17.2 -8.5 1.7 -12 3.9 -4.5 1.1 -9.5 .3 -7 -.9 -4.1 -2.3 -3.1 -4 -1.6 -4 -3.1 -13z"/>
<path fill="#f1cb3a" d="M5 -57l52 0 0 15.6 -8 1.9 -12.5 4.3 -4.5 1.2 -8 .4 -7.5 -.8 -4 -2.1 -3.2 -4 -1.6 -4.5 -2.7 -12z"/>
<path fill="#f4c73a" d="M6.3 -57l50.7 0 0 14 -8 2.2 -12.5 4.7 -4.5 1.2 -7.5 .5 -7.5 -.8 -3.5 -1.8 -1.9 -2 -1.2 -2 -1.6 -4.5 -2.5 -11.5z"/>
<path fill="#f5c53a" d="M7.6 -57l49.4 0 0 12.5 -7.5 2.2 -12.5 5 -4.5 1.4 -7 .6 -8 -.7 -2 -.8 -1.5 -1.2 -2.8 -4 -1.4 -4.5 -2.2 -10.5z"/>
<path fill="#f7c13a" d="M9 -57l48 0 0 10.8 -7.5 2.5 -12.5 5.3 -4.5 1.5 -6.5 .8 -7.5 -.7 -2 -.7 -1.4 -1 -2.6 -3.6 -1.5 -4.4 -2 -10.5z"/>
<path fill="#f8be39" d="M10.3 -57l46.7 0 0 9.1 -7.5 2.8 -16.5 7.2 -6 .8 -7 -.4 -3.6 -1.5 -2.7 -3.5 -1.7 -5 -1.7 -9.5z"/>
<path fill="#f9bc39" d="M11.7 -57l45.3 0 0 7.4 -7.5 2.9 -16.5 7.8 -5 .9 -6.5 -.4 -4 -1.5 -2.6 -3.1 -1.7 -5 -1.5 -9z"/>
<path fill="#fbb838" d="M13.1 -57l43.9 0 0 5.5 -8 3.4 -15.5 7.9 -4.5 1.1 -5 -.1 -4.8 -1.3 -2.7 -2.7 -1.9 -4.8 -1.5 -9z"/>
<path fill="#fbb637" d="M14.5 -57l42.5 0 0 3.5 -8 3.7 -15.5 8.5 -3.5 1.1 -4 .1 -5 -1.2 -1.9 -1.2 -1.3 -1.5 -1.8 -4.5 -1.5 -8.5z"/>
<path fill="#fcb336" d="M16.1 -57l40.9 0 0 1.5 -8.5 4.1 -15 8.8 -3 1.1 -3 .2 -5 -1 -2 -1.2 -1.3 -1.5 -1.9 -4.5 -1.2 -7.5z"/>
<path fill="#fcb136" d="M17.8 -57l37.5 0 -7.8 4.2 -13.5 8.4 -3 1.4 -2.5 .4 -4.5 -.9 -1.7 -1 -1.5 -1.5 -1.9 -4 -1.1 -7z"/>
<path fill="#fdac34" d="M19.6 -57l31.2 0 -17.1 11 -2.7 1.2 -2.5 .5 -3.5 -.9 -2.7 -2.3 -1.6 -3.5 -1.1 -6z"/>
</g>
<path class="cl" d="M-3 -2.5l-2.5 .5 -1.5 .9 -.7 1.1 .2 1 1 .7 2 .3 2.1 -.5 1.8 -1 1.3 -1.5 -.2 -.9 -1.5 -.6 -2 0M-52.8 57l2.7 -5.5 3.1 -4.5 12.5 -12.3 1.1 -3.2 .1 -4 -1.5 -3.5 -3.1 -1.5 -3.6 0 -9.5 1.3 -6 -.4M57 16.5l-10 1.3 -6 0 -5.5 -1.1 -3.9 -2.2 -3.3 -4 -2.1 -6 -.7 -7 1 -12 -.4 -2 -1.2 -2 -1.9 -1.5 -2 -.5 -10 1.2 -6 -.2 -4.5 -1.1 -4 -1.9 -3.2 -2.5 -2.8 -3.4 -5.5 -12.6 -4.3 -6 -6.9 -5.5 -9.6 -4.5M-28.6 57l2.7 -7 3.4 -6.5 3.5 -4.9 3.5 -3.4 4 -2.3 4.5 -1.5 14.5 -1.3 4.5 .2 4 .8 3 1.4 3 2.3 3.5 4.1 4.8 7.1 3.2 5.5 2.4 5.5M57 -15.1l-8 -3.8 -2.5 .1 -.1 1.3 2.5 3.5 1 2.5 .2 3 -.9 3 -2.2 2.9 -3 1.8 -3 .5 -3 -.9 -2.5 -2.3 -1.4 -3.5 .1 -3.5 1.9 -6 -.3 -1.5 -.8 -1 -5.2 -3 -5.8 -2.2 -2.5 -.3 -7.5 .7 -4.5 -.2 -4.5 -1.1 -4 -2.1 -2.7 -2.3 -2.3 -3 -1.8 -3.5 -5.2 -12.7 -3 -4.3 -3.8 -4M-5.5 57l.1 -2.5 .9 -1.9 1.5 -1.2 2 -.4 2.5 .4 2 1.3 1.2 1.8 .6 2.5M57 -26.7l-6 -1.2 -4.5 -.3 -2.5 .3 -7 2.2 -4 .3 -10 -1.4 -10 -.1 -6 -1.6 -4.4 -3 -3.1 -4 -2 -4.5 -3 -10 -4.3 -7M57 -31.8l-10 .1 -10.5 2.7 -4.5 .6 -16 -.7 -5.5 -1.2 -4.5 -2.8 -3.4 -4.4 -1.8 -4.5 -2.1 -9 -2.9 -6M57 -35.9l-9.5 1.1 -11.5 3.3 -4.5 .7 -12.5 -.2 -6 -1.1 -4.5 -2.8 -3.1 -4.1 -1.7 -4.5 -1.9 -9 -1.8 -4.5M57 -39.7l-8.5 1.7 -12 3.9 -4.5 1 -9.5 .4 -7 -.9 -4.3 -2.4 -3 -4 -1.6 -4 -3.1 -13M57 -43.4l-7.5 2 -12.8 4.9 -4.7 1.3 -7.5 .5 -7.5 -.7 -3.6 -2.1 -2.9 -4 -1.5 -4.5 -2.3 -11M57 -47.4l-7.5 2.7 -12.7 5.7 -4.3 1.5 -6 .7 -7 -.5 -3.5 -1.6 -2.7 -3.6 -1.6 -4.5 -1.8 -10M57 -51.7l-8 3.5 -15.5 7.9 -4.5 1.1 -5 -.1 -4.5 -1.2 -3 -2.9 -1.8 -4.6 -1.5 -9M57 -56.7l-9 4.6 -14.1 8.6 -2.9 1.2 -2.5 .4 -5 -.9 -2 -1.1 -1.5 -1.5 -1.8 -4.1 -1.3 -7.5M47 -57l-13 8.8 -2.5 1.2 -2.5 .6 -2.7 -.6 -2.3 -2 -1.5 -3.1 -.9 -4.9"/>
</g>
<use href="#head"/>
</g>
</g>
<g id="row-e">
<text class="t" x="58.2" y="852.5" textLength="22.6" lengthAdjust="spacingAndGlyphs">HC</text>
<text class="t" x="256.1" y="851.4" textLength="28.4" lengthAdjust="spacingAndGlyphs">MCI</text>
<text class="t" x="453.1" y="851.4" textLength="48.7" lengthAdjust="spacingAndGlyphs">p-value</text>
<text class="l" x="269.6" y="1013.4">(e)</text>
<rect x="317.8" y="831.4" width="5.9" height="176" fill="url(#gt)"/>
<rect x="514.7" y="831.4" width="5.9" height="176" fill="url(#gp)"/>
<text class="k" x="326.7" y="834.3">21.1</text>
<text class="k" x="326.7" y="878.3">20.2</text>
<rect x="317.8" y="875.1" width="5.9" height=".6" fill="#000" fill-opacity=".18"/>
<text class="k" x="326.7" y="922.3">19.4</text>
<rect x="317.8" y="919.1" width="5.9" height=".6" fill="#000" fill-opacity=".18"/>
<text class="k" x="326.7" y="966.3">18.5</text>
<rect x="317.8" y="963.1" width="5.9" height=".6" fill="#000" fill-opacity=".18"/>
<text class="k" x="326.7" y="1010.3">17.7</text>
<text class="p" x="523.4" y="833.9">1</text>
<text class="p" x="523.4" y="892.6">0.1</text>
<rect x="514.6" y="889.8" width="6" height=".6" fill="#000" fill-opacity=".18"/>
<text class="p" x="523.4" y="951.3">0.01</text>
<rect x="514.6" y="948.4" width="6" height=".6" fill="#000" fill-opacity=".18"/>
<text class="p" x="523.4" y="1009.0">0.001</text>
<g transform="translate(58.3 919.4)">
<circle r="54" fill="#e6e8fa" fill-opacity=".5" filter="url(#b2)"/>
<g clip-path="url(#cd)"><g filter="url(#b1)">
<rect x="-57" y="-57" width="114" height="114" fill="#372466"/>
<path fill="#3d358b" d="M-57 -57l114 0 0 114 -114 0 0 -114zM-.5 -34.1l-1.9 1.1 -.7 2.5 .8 2.5 .8 .9 1 .3 1 -.4 1 -1.2 .7 -2.6 -.7 -2.2 -1 -.7 -1 -.2z"/>
<path fill="#4249b1" d="M-57 -57l114 0 0 114 -114 0 0 -114zM-1 -38.1l-2.8 1.1 -2.3 2 -1.2 2.5 -.3 2.5 .7 4.5 2.4 7.3 2 3.6 2 1.2 2 -.8 2 -3.2 2.5 -8.1 .8 -5.5 -.7 -3 -1.6 -2.1 -3 -1.8 -2.5 -.2z"/>
<path fill="#4559cb" d="M-57 -57l114 0 0 114 -114 0 0 -114zM-1.5 -40l-3.5 1.3 -2.9 2.2 -1.6 2.4 -.6 2.6 .2 4 3.2 20 1.2 4.8 1.5 2.2 3.5 -1 4 0 1.5 -1.8 1.8 -6.7 2.7 -20 -.5 -4 -2.1 -3 -4.4 -2.7 -2 -.5 -2 .2z"/>
<path fill="#466be3" d="M-57 -57l114 0 0 114 -114 0 0 -114zM-1 -41.6l-4.8 1.6 -3.8 2.5 -2.1 3 -.6 4 1.7 16 .2 10.5 -1 9 .2 3 1.3 2.5 2.4 2.1 3.5 1.6 4 .7 4 -.7 3.5 -1.6 2.3 -2.1 1.3 -2.5 .3 -2.5 -1.1 -7.5 -.2 -4.5 .5 -14 1.2 -11 -.8 -3.5 -2.5 -3.1 -5 -2.7 -2.5 -.7 -2 -.1z"/>
<path fill="#477bf2" d="M-57 -57l114 0 0 114 -114 0 0 -114zM-2 -42.5l-4.5 1.4 -3.7 2.1 -2.5 2.5 -1.1 2.5 -.2 4 1.3 14 -.2 13.5 -.8 9.5 1.3 4 3.1 3.5 4.3 2.1 5.5 1 4.8 -1.1 3.7 -1.8 2.7 -2.7 1.7 -3.5 .3 -3 -1.1 -9 .1 -15.5 1.1 -13 -.2 -2 -.9 -2 -1.6 -2 -1.9 -1.5 -2.8 -1.5 -3.4 -1.2 -2.5 -.5 -2.5 .2z"/>
<path fill="#458afc" d="M-57 -57l114 0 0 114 -114 0 0 -114zM-1.5 -43.6l-4.6 1.1 -4.4 2 -3.1 2.5 -1.7 3 -.3 4 1.1 13.5 -.1 16 -.7 8.5 .3 2 1.3 3 1.7 2.4 1.7 1.6 4.8 2.3 6 .8 5.5 -.9 4 -1.9 3 -3.2 2 -4.1 .3 -2.5 -.9 -9.5 .2 -19 1 -10.5 -.3 -2 -.8 -2 -1.5 -1.8 -2.1 -1.7 -2.9 -1.6 -3.5 -1.3 -3 -.6 -3 -.1z"/>
<path fill="#3e9bfe" d="M-57 -57l114 0 0 114 -114 0 0 -114zM-4 -44.1l-5 1.5 -3.8 2.1 -2.7 2.6 -1.3 2.9 -.3 4 1.1 11.5 -.3 10.5 .3 8 -.5 9 .9 3 1.5 3 1.6 2.1 2 1.7 2.5 1.2 3.5 1 3.5 .4 3.5 -.1 5.5 -1.3 3.5 -2 2.9 -3.5 1.9 -4.5 .2 -2.5 -.6 -9.5 .5 -8.5 .1 -12.5 .7 -9 -.5 -2.5 -1 -2 -2.2 -2.3 -3 -1.9 -3.5 -1.5 -4 -1 -3.5 -.3 -3.5 .4z"/>
<path fill="#35abf8" d="M-57 -57l114 0 0 114 -114 0 0 -114zM-3.5 -45l-5.5 1.3 -4.5 2.2 -3.2 3 -1.4 3 -.4 4 1 10.5 -.2 11.5 .5 9 -.3 8.5 .8 3 1.6 3.5 1.6 2.4 2 1.8 2.5 1.3 3.5 1 4 .5 4.5 -.1 5 -1 4 -2 2.9 -3.4 2.1 -5 .5 -3 -.4 -9 .9 -10.5 .8 -20 -.6 -3 -1.1 -2.5 -1.9 -2 -2.8 -2 -3.9 -1.8 -4 -1 -4 -.5 -4 .3z"/>
<path fill="#28bceb" d="M-57 -57l114 0 0 114 -114 0 0 -114zM-1.5 -46l-6.5 .9 -5 2 -4 3.1 -1.4 2 -.8 2 -.6 4.5 .9 9 -.2 11 .9 11 -.1 8 .6 3.5 1.4 3.5 1.8 3.1 2 1.9 2.7 1.5 3.3 1 4 .5 4.5 .1 6 -1 4.5 -2.1 2.7 -3 2.3 -4.9 .8 -4.1 -.1 -9 1.5 -13.5 .7 -16 -.5 -3.5 -1.1 -3 -1.8 -2.4 -2.5 -2.2 -3.5 -1.9 -3.5 -1.1 -4.5 -.8 -4.5 -.1z"/>
<path fill="#1fc9dd" d="M-57 -57l114 0 0 114 -114 0 0 -114zM-5.5 -46.5l-6 1.5 -4.4 2.5 -3.2 3.5 -1.6 4 -.4 4 .9 8 -.2 11 1.2 11 .3 10.5 1.1 4 1.8 3.7 2 2.6 2.5 1.7 3.5 1.2 4.5 .8 5.5 .1 4.5 -.5 4.5 -1.3 3.3 -2.3 2.4 -3.5 1.8 -4.8 .6 -3.7 .2 -9.5 2.2 -16.5 .5 -9.5 -.4 -4.5 -.9 -3.5 -1.7 -3.3 -2.5 -2.7 -3.1 -2 -3.9 -1.6 -4.5 -.9 -5.5 -.3 -5 .3z"/>
<path fill="#19d5cd" d="M-57 -57l114 0 0 114 -114 0 0 -114zM-3 -47.5l-6.5 .8 -5.5 2.3 -4 3.4 -1.7 2.5 -1 2.5 -.7 5 .8 8 -.1 9.5 1.6 13 .3 9 .8 4 1.8 4.5 1.9 3 2.3 1.9 3 1.4 4.5 .9 5 .3 5.5 -.2 5 -1 3.6 -1.8 2.8 -3 2.1 -4.5 1.3 -5.5 .5 -11 2.8 -15.5 .5 -7 -.2 -5 -.9 -4.5 -1.7 -4 -2.2 -3 -3.1 -2.5 -3.5 -1.8 -4 -1.1 -4.5 -.6 -6.5 0z"/>
<path fill="#19e2bb" d="M-57 -57l114 0 0 114 -114 0 0 -114zM-7.5 -48l-5.7 1.5 -4.8 2.9 -3.3 4.1 -2.1 5.5 -.4 4 .8 7 0 9.5 2 13 .5 9 .6 3.5 1.4 4.4 1.6 3.1 2.2 2.5 2.7 1.6 4 1.2 5.5 .6 6 0 5.5 -.8 4 -1.4 2.7 -2.2 2.3 -3.5 1.6 -4.5 .9 -4.5 .6 -10 2.9 -13 .9 -6 .3 -6.5 -.6 -5 -1.5 -4.5 -2.3 -4 -2.8 -3 -3.5 -2.3 -4 -1.5 -4 -.8 -9.5 -.2 -4.5 .3z"/>
<path fill="#20eaac" d="M-57 -57l114 0 0 114 -114 0 0 -114zM-6.5 -49l-6.5 1.3 -3 1.4 -2.5 1.8 -3.8 4.5 -2.4 6 -.6 5 .8 14 2.8 15 1.1 12 1.1 4.1 1.8 3.9 2.1 2.5 2.6 1.8 4 1.2 5.5 .7 6.5 .1 6 -.7 4 -1.3 3 -2.2 2.2 -3.1 1.8 -4.5 1 -5 1 -11 4.5 -18.5 .4 -5.5 -.5 -5 -1.6 -5 -2.4 -4.5 -2.8 -3.5 -3.6 -2.7 -4 -1.7 -4 -.9 -14.5 -.2z"/>
<path fill="#32f298" d="M-57 -57l114 0 0 114 -114 0 0 -114zM-10 -49.5l-6 2 -4.6 3.5 -3.7 5.5 -1.5 3.5 -.9 3.5 -.2 4 .9 12.5 3.5 15 .9 10.5 .9 4.5 1.5 4 1.8 3 2.4 2.3 3 1.4 4.5 1 7 .5 6.5 -.3 5 -.8 3.5 -1.5 2.5 -2.1 2 -3.1 1.7 -4.4 .9 -4.5 1.1 -11.5 4.3 -14 1.2 -5.5 .4 -5.5 -.8 -5 -2.1 -5.5 -3 -5 -3.2 -3.5 -4 -2.6 -4 -1.5 -4.5 -.7 -12.5 -.1 -4.5 .4z"/>
<path fill="#46f884" d="M-57 -57l114 0 0 114 -114 0 0 -114zM-10 -50.5l-3.5 .8 -3 1.3 -2.5 1.5 -2.6 2.4 -2.3 3 -2.2 4 -1.5 3.5 -.9 3.5 -.2 5 .9 8.5 1.2 5.5 3.4 12 1 10.5 .9 4.5 1.6 4.5 1.8 3 2.2 2 3.1 1.5 4.6 1 7.5 .5 7.5 -.3 4.5 -.8 3.5 -1.4 2.4 -2 2 -3 1.6 -4 1.2 -5 1.3 -12.3 4.9 -14.2 1.4 -5.5 .5 -5 -.8 -5 -2.2 -5.5 -3.6 -6 -3.2 -3.6 -4 -2.7 -4 -1.6 -4.5 -.8 -14 -.1 -4 .3z"/>
<path fill="#5dfc6f" d="M-57 -57l114 0 0 114 -114 0 0 -114zM-10 -51.5l-3.5 .7 -3.3 1.3 -2.7 1.6 -2.7 2.4 -2.7 3.5 -2.9 5 -1.8 4 -.9 3.5 -.2 4.5 .8 6 1.6 6.5 4.3 13 1.1 11 .9 4.5 1.7 4.5 1.8 3.2 2 2 3 1.5 5 1.1 8 .5 7.5 -.3 5 -.7 3.2 -1.3 2.6 -2 2 -3 1.7 -4 1.2 -5 .8 -9 .8 -4 5.6 -14.5 1.6 -5.5 .5 -5 -.6 -4.5 -2.4 -5.5 -4.7 -7.5 -3.3 -3.6 -4 -2.7 -4 -1.5 -4.5 -.8 -18.5 .1z"/>
<path fill="#79fe59" d="M-57 -57l114 0 0 114 -114 0 0 -114zM-10.5 -52.5l-3.5 .7 -3.5 1.4 -3 1.9 -2.8 2.5 -2.6 3.5 -4.3 7 -1.6 3.5 -1 3.5 0 4.5 1.3 6 7 19.5 1.1 11 .9 4.5 1.7 4.5 1.8 3.1 2 1.9 3.5 1.7 5 .9 8.5 .4 8 -.2 5 -.9 3.3 -1.4 2.2 -1.8 1.8 -2.7 1.7 -4 1.3 -5.5 .8 -9 .8 -4 6.4 -15 2 -6 .5 -4.5 -.7 -4.5 -2.5 -5.5 -5.7 -8.5 -3.4 -3.6 -4 -2.6 -4 -1.6 -4.5 -.8 -19.5 .1z"/>
<path fill="#8fff49" d="M-57 -57l114 0 0 114 -114 0 0 -114zM-11 -53.5l-3.5 .7 -3.5 1.4 -3.1 1.9 -2.8 2.5 -2.4 3 -6.4 9.5 -1.5 3 -1 3 0 4 1.4 5 8.5 21 .7 3.5 .5 8 1.1 4.8 1.8 4.7 1.7 3 2.3 2 3.2 1.5 5.5 1 8.5 .2 8.5 -.1 5 -.9 3 -1.2 2.5 -2 1.7 -2.5 1.5 -3.5 1.7 -6 .8 -9.5 .8 -3.7 2 -5 5.1 -10.3 2.4 -6.5 .7 -4.5 -.5 -4 -2.6 -5.5 -6.6 -9.5 -3.5 -3.7 -4 -2.8 -4.5 -1.8 -4.5 -.8 -16.5 -.2 -4 .3z"/>
<path fill="#a4fc3c" d="M-57 -57l114 0 0 114 -114 0 0 -114zM-11.5 -54.6l-4 .9 -4 1.7 -3.5 2.4 -3 3.1 -8.6 11.5 -2.1 3.5 -1.1 4 .6 4 4 10 6.8 14 1 4 .6 8 .8 4.5 2.1 6 2.4 3.9 4 2.5 6 1.3 16.5 .3 7 -1 3 -1.2 2.5 -1.9 1.6 -2.4 1.6 -3.5 1.9 -7 .7 -9 .8 -3.5 1.9 -4.6 6.1 -11.4 2.7 -7 .8 -4.5 -.6 -4 -2.8 -5.5 -7.9 -10.5 -3.3 -3.4 -4 -2.6 -4.5 -1.8 -5 -.9 -17 -.1 -4 .2z"/>
<path fill="#b4f836" d="M-57 -57l114 0 0 114 -114 0 0 -114zM-12.5 -55.6l-4 1 -3.7 1.6 -3.3 2.2 -2.9 2.8 -12.4 15.5 -1.6 4 .4 3.5 5.5 12 5.5 9.9 2 4.3 1 3.8 .4 7.5 .9 5 2.4 6.5 2.3 3.6 4 2.5 6 1.4 18 .3 6.5 -1 3 -1.2 2.5 -2 1.5 -2 1.5 -3.2 2.3 -7.9 .6 -9 .6 -2.9 2.5 -5.6 6.1 -10.5 2.9 -6.5 1.5 -5.5 -.5 -4.5 -2.8 -5.5 -9.1 -11.5 -3.5 -3.5 -4.1 -2.6 -4.5 -1.8 -5.5 -.9 -17 -.2 -5 .4z"/>
<path fill="#c3f134" d="M-57 -57l46.5 0 -4.5 .7 -4 1.3 -3.7 2 -3.3 2.6 -14.6 16.4 -2 4 -.2 3.5 1.1 3 5.9 11 5.8 9.6 2.5 5 .8 2.9 .4 7.5 .9 5 2.2 6.5 2.2 3.8 3.5 2.7 5 1.5 4.5 .4 15 .2 5.5 -.4 4 -1.1 3.4 -2.1 2.1 -2.6 2 -4.5 1.7 -5.4 .7 -4.5 .2 -6.5 .8 -3 2.1 -4.5 5.7 -9 2.8 -5.5 2.8 -6.5 .7 -4 -.7 -4 -2.4 -4.5 -9.9 -12 -2.9 -3 -3.6 -2.7 -4 -1.9 -4.5 -1.3 -5.1 -.6 48.6 0 0 114 -114 0 0 -114zM-3.2 -57l7.8 0 -7.8 0z"/>
<path fill="#d4e735" d="M-57 -57l39.8 0 -4.8 2 -4.3 3 -14.2 14.5 -2.3 3 -1.4 2.5 -.8 3 .1 2.5 1.2 3 7.2 12.5 5.5 8.4 2.8 5.1 .8 2.5 .3 7.5 .9 5 2.4 7 2.3 4 3.5 2.7 5 1.6 4.5 .4 8.5 -.1 8 .3 5 -.3 4 -1.2 3.1 -1.9 2.5 -3 2.2 -5 1.7 -5.5 .6 -4.5 .3 -6.5 .6 -2.4 2.5 -4.9 8 -12.7 3.6 -7.5 1.4 -4.5 -.5 -4 -2.1 -4.5 -2.6 -3.5 -8.8 -10 -3 -3 -3 -2.2 -3.5 -2 -3.6 -1.3 40.6 0 0 114 -114 0 0 -114z"/>
<path fill="#e1dd37" d="M-57 -57l36 0 -4 2.2 -3.5 2.7 -14.7 14.6 -2.1 3 -1.2 3 -.4 3 .5 3 9.1 15.5 5.3 7.7 3 5.3 .8 2.5 .3 7.5 1 5 2.6 7.5 2.6 4 3.7 2.7 5 1.5 21.5 .6 5 -.4 4 -1.2 3 -1.9 2.5 -2.9 2.1 -4.4 2.1 -6.5 .7 -4.5 .3 -7 .6 -2 2.7 -5 5.5 -8 2.7 -4.5 4.1 -8 1.5 -4.5 -.1 -3 -.8 -3 -1.6 -3 -2.3 -3.3 -12.4 -13.2 -3.6 -2.7 -4.2 -2.3 36.7 0 0 114 -114 0 0 -114z"/>
<path fill="#eecf3a" d="M-57 -57l32.8 0 -6.8 4.9 -11.3 10.6 -3.1 3.5 -1.8 3 -1.2 3.5 -.2 3 .6 3 2 3.9 7.9 12.6 5.6 7.9 2.6 4.6 .8 2.5 .4 7.5 1.1 5 2.9 8 2.7 4 4 2.7 5 1.3 22 .6 5 -.4 4 -1.2 3.1 -2 2.5 -3 2.1 -4.5 2.2 -6.5 .8 -4.5 .4 -7 .6 -2 2.7 -5 6 -8.5 4.7 -8 2.8 -5.5 1 -3.5 .1 -3 -.7 -3 -1.3 -3.1 -2.3 -3.4 -12.4 -13 -3.3 -2.8 -3.5 -2.2 33.5 0 0 114 -114 0 0 -114z"/>
<path fill="#f6c33a" d="M-57 -57l29.7 0 -4.7 3.5 -10 8.8 -5.2 5.7 -1.9 3.5 -1 3.5 -.1 3.5 .9 3.5 1.8 3.6 13.5 19.9 2.9 5 1 3 .6 7.5 1.2 5 3 8 2.8 4.2 4 2.8 5 1.4 23 .6 5 -.4 4 -1.3 3.4 -2.3 2.4 -3 1.9 -4 2.5 -7.5 .9 -4.5 .5 -6.5 .8 -2.5 2.8 -5 5.7 -8 6.1 -10 2 -4 1 -3.5 .2 -3 -.6 -3.5 -1.2 -3 -2.2 -3.5 -3.3 -4 -8.1 -8 -6.9 -5.5 30.6 0 0 114 -114 0 0 -114z"/>
<path fill="#fbb637" d="M-57 -57l26.6 0 -11.7 9.5 -5.4 5.5 -2.1 3 -1.4 3 -.8 3 -.1 3.5 .8 4 1.7 3.5 14 20.5 3.1 5.5 1 3 .9 7 1 4.5 3.1 8.5 1.8 3.3 2 2.2 2 1.5 2.5 1.2 3 .8 4.5 .5 9 -.1 11.5 .5 5 -.4 4 -1.3 3.2 -2.2 2.6 -3 1.7 -3.5 2.9 -8 .9 -4 1 -7.5 1 -3 2.7 -5 5.7 -8 6.3 -10 1.9 -3.5 1.1 -3.5 .4 -3.5 -.4 -3.5 -1.2 -3.5 -2 -3.5 -2.8 -3.5 -3.8 -4 -6.5 -6 -4.4 -3.5 27.7 0 0 114 -114 0 0 -114z"/>
<path fill="#fea431" d="M-57 -57l23.4 0 -10.6 8.5 -5.6 6 -1.8 3 -1.4 3.5 -.6 3 .1 3.5 .9 4 1.7 3.5 14.2 20.5 2.6 4.5 1.7 4.5 1.1 7.5 1.1 4 3.2 8.5 1.9 3.5 1.7 2 2.4 1.8 2.5 1.2 3 .9 4.5 .5 9.5 -.2 12 .7 4.5 -.4 4 -1.2 3.5 -2.2 2.7 -3.1 1.8 -3.5 3.2 -8.5 1 -4 1.2 -7.5 1.9 -5 2.2 -3.8 12.1 -17.7 1.9 -3.5 1.2 -3.5 .4 -3.5 -.4 -4 -1 -3.5 -1.9 -3.5 -2.5 -3.5 -3.3 -3.5 -10.8 -9.5 24.8 0 0 114 -114 0 0 -114z"/>
<path fill="#fe932a" d="M-57 -57l19.9 0 -9.3 7.5 -5.3 6 -1.8 3.2 -1.2 3.3 -.6 3.5 0 3.5 .9 4 1.9 4 7.5 10.2 9.3 14.3 2 5.5 2.4 11 3.7 9.5 1.7 3 1.9 2.3 2.2 1.7 2.8 1.4 3 .9 5.5 .5 11.5 -.2 10 .8 5 -.5 4 -1.4 3.5 -2.4 2.5 -3 1.6 -3.1 3.6 -9.5 2.4 -11 2.1 -5.5 2.3 -4 12.2 -17.5 1.9 -3.5 1.2 -3.5 .6 -3.5 -.3 -4 -1 -4 -1.7 -3.5 -2.4 -3.5 -3.1 -3.5 -10.1 -9 21.7 0 0 114 -114 0 0 -114z"/>
<path fill="#fb7e21" d="M-57 -57l16.2 0 -6.7 5.4 -4.7 5.1 -3.3 5.5 -1.5 5.3 0 -21.3zM38.6 -57l18.4 0 0 114 -114 0 0 -86.9 1.2 4.4 2 4 8 10.5 8.5 13 2.3 6 1.7 8 1.5 4.5 4.1 10 3.2 4.2 4.5 2.9 6 1.5 4.5 .2 9.5 -.5 11.5 1.1 6 -.8 3 -1.1 2.5 -1.6 2.5 -2.3 1.8 -2.6 5.1 -12.5 2.6 -11 2 -5.5 2.1 -3.5 12.8 -18 2.1 -4 1.3 -4 .4 -3.5 -.3 -4 -1.1 -4 -1.6 -3.5 -2.3 -3.5 -3 -3.5 -8.8 -8z"/>
<path fill="#f66c19" d="M-57 -57l12.4 0 -4.2 3.5 -3.5 3.5 -2.7 3.5 -2 3.7 0 -14.2zM41.9 -57l15.1 0 0 20.3 -1.9 -5.3 -3.1 -5 -4.4 -5 -5.7 -5zM57 -26.5l0 83.5 -114 0 0 -81.3 2.9 4.8 7.6 9.5 7.8 12 2.1 5.5 2 8.5 1.3 4 4.6 11 3.4 4.5 4.3 2.9 5.5 1.5 5.5 .4 10 -.7 12.5 1.4 4.5 -.6 4.1 -1.4 3.6 -2.5 2.8 -3.3 1.7 -3.2 4.4 -11 2.9 -11.5 1.9 -5 2.1 -3.4 13.2 -18.1 1.9 -3.5 1.4 -4z"/>
<path fill="#f05b12" d="M-57 -57l8.6 0 -4.8 4.5 -3.8 5 0 -9.5zM45.4 -57l11.6 0 0 13.9 -1.9 -3.4 -2.6 -3.5 -7.1 -7zM-57 -21l9.1 11 7.7 12 1.7 4 2.3 9.5 1.5 4.5 4.9 11.5 1.6 2.5 2.2 2.4 4.5 3 5.5 1.6 6.5 .3 9.5 -.8 8 1.3 4.5 .3 5 -.5 4 -1.5 3.5 -2.2 3.1 -3.4 2.2 -4 4.9 -12 3.1 -12 1.5 -4 8.7 -12.3 5.7 -7.2 2.8 -4.5 0 78.5 -114 0 0 -78z"/>
<path fill="#e7490c" d="M-57 -57l4.9 0 -4.9 5.3 0 -5.3zM48.9 -57l8.1 0 0 9.3 -3.5 -4.7 -4.6 -4.6zM-57 -18l0 -.5 8 9 7.5 12 1.5 3.5 1.9 9 1.9 5.5 5.5 12 1.7 2.5 2.4 2.5 4.6 3 5.5 1.5 7 .4 9.5 -.9 8 1.5 4.5 .3 5 -.5 4.5 -1.5 3.6 -2.3 3.3 -3.5 2.3 -4 5.7 -13 1.4 -4.5 1.6 -8 1.1 -2.8 8.5 -12 7.5 -9.3 0 75.1 -114 0 0 -75z"/>
<path fill="#dd3d08" d="M-57 -57l1.4 0 -1.4 1.5 0 -1.5zM52.4 -57l4.6 0 0 5.1 -4.6 -5.1zM-57 -16l7.2 7.5 6.8 11.5 1.2 3 1.7 9 1.8 5 6.3 13 2.1 3 2.4 2.5 5 3.1 5.5 1.6 7.5 .4 9.5 -.8 8 1.5 4.5 .3 5.5 -.5 4.5 -1.5 4 -2.6 3.3 -3.5 2.5 -4 7 -15 1.4 -4.5 .9 -6.5 .8 -2.5 8.4 -12 6.2 -7 0 72 -114 0 0 -73z"/>
<path fill="#d02f05" d="M55.9 -57l1.1 0 0 1.2 -1.1 -1.2zM-57 -13.5l5 4.6 2.3 3.4 5.4 10.5 1.1 8 2.5 7 7.5 14 2.3 3 2.4 2.4 5 3.2 6 1.8 7.5 .5 10 -.5 7.5 1.3 4.5 .3 6 -.5 4.9 -1.5 4.1 -2.5 3.9 -4 2.9 -4.5 9.1 -17.5 1.3 -4 .1 -5 .4 -1.5 7.4 -11.5 4.9 -5.6 0 69.1 -114 0 0 -70.5z"/>
<path fill="#c32503" d="M-57 -11l0 -.4 4.3 4.4 2.7 5 2.2 6.5 0 5 .4 2 4 9 8.5 14 4.9 5.6 5.5 3.6 6.5 2 6.5 .6 11 -.1 12 1.3 6.5 -.5 5.5 -1.6 4.6 -2.9 4 -4 11.4 -17.9 7.8 -9.6 .5 -2 -1 -4.5 .3 -3 2.4 -5.5 3.5 -4.7 0 65.7 -114 0 0 -68z"/>
<path fill="#b41b01" d="M-57 -8.5l3 3.5 1.9 4.5 .6 4 -.5 6.5 1.4 4 6.3 10.5 8.7 12 4.1 4.3 6 4 6.5 2.2 5 .7 23 1.4 7.5 -.2 6 -1.4 5.5 -2.9 4.6 -4.1 9.4 -13.2 10.1 -11.3 1.9 -2.6 1.4 -4.4 .1 -8.5 1.5 -4.2 0 60.7 -114 0 0 -65.5z"/>
<path fill="#a11201" d="M-57 -4.5l1.1 2 .8 3 .1 8.5 .7 4 2.3 4.8 5 7.7 10.2 12.5 4.8 4.6 3.5 2.4 3.5 1.8 7.5 2 17.5 2 11 .1 7.5 -.6 6.5 -2.1 4.7 -2.7 4.3 -3.9 9 -11.4 11 -11.5 3 -4.3 0 42.6 -114 0 0 -61.5z"/>
<path fill="#8e0a01" d="M-57 14l3 6.1 5.2 7.4 10.7 12 6.6 5.6 5.2 2.9 5.8 1.9 21 3 10.5 -.1 6.5 -.6 6 -1.5 5 -2.3 3.5 -2.4 3.4 -3 9.6 -11.1 12 -12.1 0 37.2 -114 0 0 -43z"/>
</g>
<path class="cl" d="M-4 -44.5l-5 1.3 -4 2.1 -3 2.7 -1.4 2.9 -.4 4.5 1 11 -.2 11 .4 8.5 -.4 8.5 1 3.5 1.5 3 3.5 3.8 2.5 1.2 3.5 1 4 .5 4 -.2 5.5 -1.2 3.5 -2.1 2.5 -3 2.2 -5 .3 -2.5 -.5 -9.5 1.5 -30.5 -.7 -3 -1.1 -2 -1.9 -2 -3.1 -2 -3.4 -1.5 -4.3 -1.1 -3.5 -.3 -4 .4M-5.5 -49.5l-7 1.1 -5.6 2.9 -2.4 2.2 -2.1 2.8 -2.8 6.5 -.7 5 .8 13.5 3.2 15.5 1.1 12 1.2 4.5 1.8 3.8 2 2.6 2.5 1.7 4 1.3 5.5 .7 7 .1 6 -.6 4 -1.2 3 -2 2.2 -2.9 1.8 -4.2 1.3 -5.3 1.1 -12 4.9 -18.5 .5 -5 -.5 -4.5 -1.6 -5.5 -2.6 -5 -3.1 -3.8 -3.5 -2.7 -4 -1.8 -4 -.9 -14 -.3M-12 -55.1l-4 1 -3.8 1.6 -3.2 2.1 -3 2.9 -11.8 15.5 -1.3 4 .4 3.5 4.7 11 7.3 14.5 1 3.5 .5 8 .8 4.5 2.1 6 2.3 4 4 2.7 6 1.4 17.5 .3 7 -1 3 -1.4 2.5 -2 2.9 -5.5 2 -7 1.3 -12 1.8 -4.6 6.1 -10.9 3 -7 1.4 -5.5 -.5 -4.5 -2.8 -5.5 -8.5 -11 -3.5 -3.5 -4.2 -2.7 -4.5 -1.7 -5 -.8 -17 -.2 -4.5 .3M-28.8 -57l-13.9 11.5 -5.4 6 -1.9 3.6 -1 3.9 .1 4 1 3.5 1.9 3.5 13.3 19.5 2.9 5 1.1 3 .8 7.5 1.1 5 3.2 8.5 2.7 4 3.9 2.8 5 1.4 24 .8 4.5 -.4 4 -1.2 3.5 -2.3 2.5 -3 1.7 -3.6 2.9 -8 1.6 -11 .9 -3 2.7 -5 5.7 -8 6.2 -10 2.1 -4 1 -3.5 .3 -3 -.6 -3.5 -1 -3 -2.1 -3.5 -3.2 -4 -5.5 -5.5 -9.3 -8M-50.2 -57l-3.8 3.6 -3 3.8M57 -45.5l-4 -5.7 -5.8 -5.8M-57 -19.7l8.5 9.8 7.6 11.9 1.6 4 2.3 9.5 1.7 5 5.1 11.5 3.9 5 4.8 3 5.5 1.5 6.5 .3 9.5 -.8 8 1.4 4.5 .3 5 -.5 4 -1.4 3.7 -2.3 3.3 -3.5 2.2 -4 5.3 -12.5 3 -12 1.3 -3.5 8.4 -12 8.3 -10.7M-57 -.6l.6 10.1 .8 4 2.6 5.5 5.1 7.5 10.2 12 5.4 5 7.3 4.1 8 2.2 17 2.1 9.5 0 8.5 -.7 7 -2 4.5 -2.5 4.5 -3.7 10 -12 10 -10.1 3 -3.6"/>
</g>
<use href="#head"/>
</g>
<g transform="translate(255.5 919.4)">
<circle r="54" fill="#e6e8fa" fill-opacity=".5" filter="url(#b2)"/>
<g clip-path="url(#cd)"><g filter="url(#b1)">
<rect x="-57" y="-57" width="114" height="114" fill="#30123b"/>
<path fill="#372466" d="M-57 -57l114 0 0 114 -114 0 0 -114zM1 -44.5l-5.5 1 -3.1 1.5 -2.9 3.3 -1 3.7 .4 2.5 1.1 2.5 5 7.6 3.5 3.1 3.5 .9 2 -.4 2.5 -1.2 5 -3.9 6.1 -6.6 1.4 -2.5 .5 -2.5 -.4 -2 -1.6 -2.5 -2 -2 -2.5 -1.7 -2 -.8 -3 -.5 -7 .5z"/>
<path fill="#3d358b" d="M-57 -57l114 0 0 114 -114 0 0 -114zM1.5 -45.5l-6.5 .9 -3.5 1.7 -2 1.9 -1.4 2 -.8 2 -.3 2 .4 2.5 1 2.5 5.8 9.5 3.3 3.1 2 1 2 .3 2 -.4 2.5 -1.2 6 -5 6.6 -7.3 1.4 -2.7 .5 -2.8 -.4 -2 -1.6 -2.7 -2.5 -2.7 -2.5 -1.7 -2.4 -.9 -2.6 -.4 -7 .4z"/>
<path fill="#4249b1" d="M-57 -57l114 0 0 114 -114 0 0 -114zM2.5 -46.5l-7.5 .9 -3.9 1.6 -2.1 1.7 -1.8 2.3 -1.1 2.5 -.4 2 .2 2.5 1 3 6.2 11 3.4 3.7 2 1 2 .4 2.5 -.3 2 -.9 6 -4.8 8.2 -9.1 1.4 -2.5 .8 -3 -.2 -2.5 -1.2 -2.5 -2.5 -3.2 -2.9 -2.3 -2.1 -1.1 -3 -.6 -7 .2z"/>
<path fill="#4559cb" d="M-57 -57l114 0 0 114 -114 0 0 -114zM3.5 -47.5l-9 1 -4 1.6 -2.4 1.9 -1.6 2 -1.3 2.5 -.7 2.5 .2 3 .8 3 6.5 12.9 3 3.7 2 1.3 2 .5 2.5 0 2.5 -.7 2.5 -1.6 3 -2.6 10 -11.2 1.7 -2.8 .9 -3 -.1 -3 -.9 -2.5 -2.1 -3.2 -3 -2.9 -2.5 -1.5 -3 -.9 -3 -.3 -4 .3z"/>
<path fill="#466be3" d="M-57 -57l114 0 0 114 -114 0 0 -114zM5 -48.5l-10.5 1 -4.2 1.5 -2.3 1.6 -2 2.1 -1.5 2.4 -1 2.9 -.1 3.5 .8 3.5 6.3 14.3 3 4.9 1.5 1.4 2 .8 2.5 .1 3 -.6 2.5 -1.2 2.5 -2.1 5.5 -5.8 6.9 -8.3 1.9 -3 1 -3 .1 -3 -.8 -3 -2 -3.5 -2.6 -2.9 -2.5 -1.9 -3 -1.3 -3 -.5 -4 .1z"/>
<path fill="#477bf2" d="M-57 -57l114 0 0 114 -114 0 0 -114zM6 -49.5l-12 1.2 -4.5 1.5 -2.5 1.8 -2.2 2.5 -1.7 3 -.8 3 -.1 3 .7 3.5 5.8 15 3 9.5 -.1 3.5 -2.2 6.5 .4 4.5 .7 2 1.5 2 2 1.4 2 .7 1.5 -.1 .9 -.5 1.1 -2 -.4 -1.5 -2.1 -2.5 .5 -2 1.5 -1.2 3 -.9 .9 -.9 -.8 -5 .5 -2 17.9 -22.1 2.1 -3.4 1 -3.5 0 -3.5 -1 -3 -2.1 -3.7 -2.5 -2.8 -2.5 -2 -3 -1.4 -3 -.6 -3.5 0z"/>
<path fill="#458afc" d="M-57 -57l114 0 0 114 -114 0 0 -114zM3 -50.1l-10 1 -2.5 .7 -2.7 1.4 -2.4 2 -2.3 3 -1.3 3 -.8 3.5 .6 5.5 4.6 13 1.9 8 0 4.5 -2 9 .9 5.6 1.5 3.4 1.7 2 3.3 1.9 3.5 .9 2.5 -.5 3.4 -2.3 3.6 -4 2.8 -4 .8 -2 .1 -1.5 -1.9 -7 0 -2 .7 -2.5 2.5 -4.5 10.9 -14.5 1.4 -3 .7 -3 -.2 -3.5 -1.3 -3.8 -2.5 -4.1 -3 -3.1 -3 -2 -3.5 -1.2 -3.5 -.3 -4.5 .4z"/>
<path fill="#3e9bfe" d="M-57 -57l114 0 0 114 -114 0 0 -114zM3.5 -51l-11 1 -3 .9 -2.5 1.4 -2.6 2.2 -2.2 3 -1.6 3.5 -.7 3.5 .4 5.5 3.9 12 1.7 7.5 0 5.5 -1.7 9.5 1.3 6.7 1.4 3.3 2.2 2.5 3.4 1.9 4 .8 3.5 -.4 4.5 -2.3 3.5 -3.3 2.9 -4.2 1.1 -2.5 .6 -2.5 -1.8 -8 .1 -2.5 .6 -2.5 1.8 -3.5 10 -14 1.3 -3 .7 -3 -.3 -4 -1.4 -4 -2.6 -4.4 -3 -3.2 -3 -2.1 -3.5 -1.3 -3.5 -.4 -4.5 .4z"/>
<path fill="#35abf8" d="M-57 -57l114 0 0 114 -114 0 0 -114zM4 -52.1l-11.5 1 -3 .9 -3 1.5 -3 2.6 -2.3 3.1 -1.5 3.5 -.9 4 -.1 3 .4 3 3.6 11.5 1.3 7 .2 5.5 -1.3 10 1.4 7.5 1.5 3.5 2.2 2.5 3 1.8 4 1 4.5 0 5 -1.8 4 -3 3 -3.9 1.5 -3.2 1.1 -3.9 -1.4 -8.5 .6 -5 1.8 -3.5 8.9 -13.2 1.3 -2.8 .7 -3 -.1 -4 -1.2 -4 -2.6 -5 -3.1 -3.8 -3 -2.3 -3.5 -1.5 -4 -.7 -4.5 .2z"/>
<path fill="#28bceb" d="M-57 -57l114 0 0 114 -114 0 0 -114zM4 -53l-12 1 -3.5 1 -2.8 1.5 -2.9 2.5 -2.3 3.1 -1.8 3.9 -1.1 4.5 -.2 3 .4 3 3.2 11 1.4 7 .2 6 -.8 10 1.6 8.5 1.5 3.5 2.3 2.5 3.3 2 3.5 .8 5.5 0 5.2 -1.3 4.3 -2.5 3.3 -4 1.7 -3.6 1.1 -4.9 -.9 -9 .6 -4.5 1.9 -4 8.2 -12.5 1.3 -3 .6 -2.5 0 -4 -1.2 -4.5 -2.7 -5.5 -3.4 -4.4 -3.4 -2.6 -3.6 -1.6 -4 -.6 -4.5 .2z"/>
<path fill="#1fc9dd" d="M-57 -57l114 0 0 114 -114 0 0 -114zM3.5 -54l-12 .9 -3.5 1.1 -3 1.6 -3 2.6 -2.5 3.5 -2 4.3 -1.2 5 -.1 3 .3 3 3 10.5 1.5 7.5 .3 5.5 -.4 10.5 1.7 8.5 1.4 3.5 2.5 2.9 3 1.9 4 1.1 7 -.1 5.3 -1.3 4.5 -2.5 3.1 -3.5 1.6 -3.5 .7 -4 .3 -3.5 -.4 -7.5 .7 -4.5 1.8 -4 7.7 -12.5 1.3 -3 .6 -2.5 -.1 -4.5 -1.4 -4.5 -2.9 -6 -3.3 -4.5 -3.5 -2.8 -3.5 -1.6 -4.5 -.8 -5 .2z"/>
<path fill="#19d5cd" d="M-57 -57l114 0 0 114 -114 0 0 -114zM2.5 -55l-12 1 -3.5 1.2 -3.5 2 -3 3 -2.4 3.8 -2.1 5 -1.1 5 .3 5.5 3 10.5 1.4 7 .4 5.5 .1 11 1.8 9 1.6 3.5 2.5 2.9 3 1.9 4 1 7.5 0 5.5 -1 5 -2.3 1.8 -1.5 1.7 -2 1.2 -2.5 .8 -3.4 .3 -13.1 .9 -5 2 -4.5 7.2 -12 1.7 -5.5 -.1 -4.5 -1.6 -5 -3.4 -7 -3.5 -4.6 -3.5 -2.7 -4 -1.7 -4.5 -.7 -5.5 .2z"/>
<path fill="#19e2bb" d="M-57 -57l114 0 0 114 -114 0 0 -114zM.5 -56l-7 .3 -4 .7 -4 1.6 -3.5 2.3 -2.8 3.1 -2.4 4 -2.3 6 -1.1 5 .4 5.5 3 10 1.4 6.5 .7 5.5 .5 12 2 9 2 4 2.6 2.8 3.5 1.8 4 .8 8 -.1 6 -1.2 5 -2.3 2 -1.6 1.4 -1.7 1.1 -2.3 .6 -2.7 0 -12 1.1 -6.5 2.1 -5 7.1 -12.5 1.2 -3 .5 -3 -.3 -4.5 -1.7 -5 -3.9 -8 -3.7 -4.7 -4 -2.9 -4.5 -1.7 -4.5 -.5 -6.5 .3z"/>
<path fill="#20eaac" d="M-57 -57l51.9 0 -4.9 .6 -4 1.3 -3.6 2.1 -3.2 3 -2.7 4 -2.2 5 -2 6 -.6 4.5 .7 4 3 9.5 1.5 6 .8 5.5 1.2 14 .9 4.5 1.3 4 2.4 4.1 3 2.7 4 1.6 5 .6 7.5 -.3 6 -1.3 5.2 -2.4 3 -3 1.2 -2.5 .6 -3 -.6 -10 1.1 -7.1 2.1 -5.4 7.4 -13.5 1.5 -4.5 .1 -4 -.9 -4 -3.9 -9 -2.3 -4.2 -2.5 -3.2 -3 -2.5 -3.5 -2 -3.8 -1.1 46.3 0 0 114 -114 0 0 -114z"/>
<path fill="#32f298" d="M-57 -57l44.5 0 -3.5 1.5 -3 1.9 -2.5 2.4 -2 2.7 -2.1 4 -3.5 9 -.8 3.5 -.1 3 .8 3.5 3.1 8.5 1.7 6 1.2 6.5 1.5 14.5 1.1 4.5 1.5 4 2.6 4.1 3 2.4 4 1.4 5.5 .6 8 -.4 6.5 -1.4 4.9 -2.2 3 -3 1.5 -3 .6 -3 -.1 -3 -1.3 -6.5 .9 -5.5 2.1 -5.5 7.5 -14.5 1.8 -5 .4 -3.5 -.7 -4 -6.1 -13.7 -2 -3.1 -2.5 -2.8 -3 -2.3 -3.2 -1.6 42.7 0 0 114 -114 0 0 -114z"/>
<path fill="#46f884" d="M-57 -57l40.9 0 -2.9 1.7 -2.5 2.1 -3.9 5.2 -5.9 13.5 -.7 3 .1 3 .8 3 3.6 8.7 1.9 5.8 1.4 7 2.1 15.5 1.2 4.5 1.7 4 2.7 3.9 3 2.2 4.5 1.4 6 .5 7.8 -.5 6.9 -1.5 4.8 -2.1 3 -2.9 1.9 -4 .7 -3.5 -.3 -2.5 -1.7 -6 .4 -3.5 2 -5.4 8.4 -17.1 1.7 -4.5 .3 -3.5 -.7 -4 -6.3 -14 -3.9 -5.8 -2.5 -2.3 -2.9 -1.9 40.4 0 0 114 -114 0 0 -114z"/>
<path fill="#5dfc6f" d="M-57 -57l38 0 -4.5 3.8 -3.2 4.7 -2.8 6.5 -4.1 8 -.7 3 .1 2.5 .9 3 4.6 9.5 1.8 5 1.9 8.1 2.3 15.4 1.4 4.5 2 4.5 2.6 3.5 3.2 2.1 4.8 1.4 6.2 .5 8 -.6 7 -1.5 5 -2.1 2.9 -2.8 2.5 -5 .9 -3.5 -.4 -3 -2.2 -5.5 .3 -2.5 10.8 -23.5 1.5 -4 .2 -5 -1.7 -5.5 -7.5 -15 -2.8 -3.6 -3.5 -2.9 38.5 0 0 114 -114 0 0 -114z"/>
<path fill="#79fe59" d="M-57 -57l35.4 0 -2.9 2.7 -2.5 3.3 -4.4 9 -4.1 6.5 -1.4 3.5 .1 3.5 1.2 3 5.1 8.8 2.3 5.7 2.5 9.5 2.5 15 1.7 5 2.5 5 2.5 2.9 3.5 1.9 5 1.2 6 .4 6 -.3 5.5 -.8 4.9 -1.3 3.6 -1.6 2 -1.4 1.5 -1.9 4 -8.6 .1 -3 -2.4 -5.5 -.2 -2.5 11.3 -25.5 1 -3.5 .1 -3 -1.6 -5.5 -4.2 -7.5 -3.2 -7.5 -2.9 -4.2 -3.3 -3.3 36.8 0 0 114 -114 0 0 -114z"/>
<path fill="#8fff49" d="M-57 -57l32.9 0 -4.3 5 -4.6 8.7 -5.4 7.8 -1.4 3.5 0 3 1.3 3 6 8.6 3.1 6.4 3 10.5 2.6 14.5 2 5.5 2.4 5 2.4 2.7 4 2.1 5 1.1 6 .5 6.5 -.4 6 -.9 5 -1.4 3.5 -1.6 3 -2.8 5.7 -10.8 .1 -2.5 -2.1 -5.5 0 -2.5 3 -7.5 2.8 -8.5 4.4 -9.5 .8 -3 .1 -2.5 -.5 -2.5 -1.1 -3 -4.7 -8 -3.5 -8 -2.5 -4 -2.8 -3 35.3 0 0 114 -114 0 0 -114z"/>
<path fill="#a4fc3c" d="M-57 -57l30.4 0 -3.3 4 -5 8.5 -6.2 8.5 -1.5 4 .1 3.5 1.3 2.5 6.7 8 3.8 7 3.6 11.5 2.7 14 2.5 6.5 2.4 4.8 2.5 2.5 4 1.9 5 1.1 6 .5 6.5 -.4 6.5 -.9 5 -1.4 3.5 -1.6 3 -2.7 7.1 -11.8 .3 -3 -1.1 -5.5 0 -2.5 3.8 -14.5 5 -11.5 .6 -4.5 -1.5 -5 -5.5 -9 -3.4 -8 -2.2 -3.5 -2.5 -3 33.9 0 0 114 -114 0 0 -114z"/>
<path fill="#b4f836" d="M-57 -57l27.8 0 -14.3 20 -1.5 4.5 -.1 2.5 .3 2 1.3 2.2 7.7 8.3 4 7 4.1 12 2.6 13 2.8 7.5 2.3 4.6 2.5 2.4 4 2 5.5 1.2 6.5 .5 7 -.5 6.5 -1 4.5 -1.2 3.5 -1.7 3 -2.8 3.5 -6 3.9 -5 1.1 -2.5 .5 -3 -.3 -6 1.6 -13 1.2 -4 4.6 -10 .5 -2.5 0 -2 -.5 -2.5 -1.4 -3 -5.7 -9 -4.3 -9.5 -3.2 -4.5 32.5 0 0 114 -114 0 0 -114z"/>
<path fill="#c3f134" d="M-57 -57l25 0 -11 14.5 -2.5 4 -1 2.5 -.6 3 0 2.5 .5 2.5 1.7 3 8.2 8.5 3.9 6.5 4.3 12.1 2.8 12.9 3.7 9.4 1.7 3.1 2.8 2.6 4 1.8 5.5 1.2 6.5 .4 7 -.4 7 -1 4.5 -1.3 3.5 -1.7 3.2 -3.1 3.5 -6 4.5 -5.5 1.8 -4 .8 -4.5 .4 -16.5 1.3 -4 4.6 -9.5 .6 -2.5 -.1 -2 -.6 -2.5 -1.4 -3 -5.9 -9 -4.1 -9 -3.3 -5 31.2 0 0 114 -114 0 0 -114z"/>
<path fill="#d4e735" d="M-57 -57l22 0 -9.1 11.5 -3.3 5.5 -1.1 3 -.5 3 .1 3 .7 3 2.2 3.7 8.5 8.8 3.7 6 4.6 12.5 1.4 7.5 1.3 4.5 4 10 1.6 3 2.9 2.8 4 1.9 6 1.3 7 .4 7 -.4 7 -1.1 4.5 -1.2 3.5 -1.9 2.5 -2.3 4.4 -7 5.1 -6 1.9 -3.5 1.5 -4 .5 -3.5 -1.1 -11.5 .1 -2.5 1.4 -4 4.7 -9.5 .7 -2.5 -.1 -2 -.6 -2.5 -1.4 -3 -6.5 -9.5 -4.2 -9 -2.8 -4.5 29.9 0 0 114 -114 0 0 -114z"/>
<path fill="#e1dd37" d="M-57 -57l18.6 0 -7.6 9.5 -3.6 6.5 -.9 3 -.5 3.5 .3 3.5 .9 3 2.8 4.5 8.4 8.5 3.8 6 4.8 12.8 1.4 6.7 1.3 4.5 4.5 11 1.7 3 3.1 2.8 4 1.8 6 1.2 7 .5 7 -.4 7.5 -1.1 4.5 -1.3 3.5 -1.9 2.5 -2.4 4.5 -7.2 6.1 -7 2.2 -4 1.7 -4 .2 -2.5 -1.6 -10.5 0 -3 1.3 -4 5 -10 .7 -2.5 0 -2 -.7 -2.5 -1.3 -3 -7.1 -10.3 -4.2 -8.7 -2.3 -4 28.5 0 0 114 -114 0 0 -114z"/>
<path fill="#eecf3a" d="M-57 -57l15 0 -6 7.5 -3.2 6 -1.2 3.5 -.4 3 .5 6 1.2 3.5 1.8 3 9.2 9.5 4.3 6.5 4.7 12.5 2.8 10.5 5.9 14 2.9 3.3 4.5 2.4 6.5 1.4 7.5 .6 7 -.4 8 -1.2 4.5 -1.3 3.5 -1.9 3 -3.2 4 -6.7 6.8 -7.5 2.2 -3.6 1.7 -3.9 .4 -2.5 -1.4 -7.5 -.4 -6.5 1.4 -4 5 -10 .7 -2.5 -.1 -2.5 -2.1 -5.5 -7.2 -10.5 -6.2 -12 27.2 0 0 114 -114 0 0 -114z"/>
<path fill="#f6c33a" d="M-57 -57l11.1 0 -4.8 6.5 -3 6.5 -1.2 6.5 .7 6 1.3 3.5 2.1 3.5 9.8 10.1 4.2 6.4 2.7 6.5 4.7 15.5 6.7 15.5 2.7 3.1 4.5 2.3 7 1.6 8 .5 6.5 -.3 8 -1.2 4.5 -1.2 3.5 -1.8 3.1 -3 4.5 -7.5 7.1 -7.5 2.3 -3.5 1.5 -3.5 .7 -3.5 -1.5 -8.5 -.1 -5.5 1.3 -4 5.1 -10 .6 -2.5 -.1 -2.5 -.7 -3 -1.4 -3 -7.4 -10.9 -5.9 -11.1 25.9 0 0 114 -114 0 0 -114z"/>
<path fill="#fbb637" d="M-57 -57l7.2 0 -4.2 6.7 -2.4 6.8 -.5 3.5 0 3.5 1.5 6.5 1.4 3 2 3 9.9 10 4.1 6 2.4 5.5 5.1 16 7.1 16.5 2.9 3.3 4.5 2.4 7 1.6 8.5 .6 6.5 -.3 8.5 -1.2 4.5 -1.2 3.5 -1.9 3.3 -3.3 4.3 -7.5 7.9 -8 2 -3.2 1.4 -3.3 .7 -4 -1.3 -8 -.1 -5.5 1.3 -4 5 -10 .7 -3 -.1 -3 -.7 -3 -1.6 -3.5 -7.3 -10.8 -5.5 -10.2 24.5 0 0 114 -114 0 0 -114z"/>
<path fill="#fea431" d="M-57 -57l3.4 0 -3.4 6.5 0 -6.5zM34 -57l23 0 0 114 -114 0 0 -86.8 1.7 3.3 2.1 3 9.7 9.5 4 5.5 2.5 5.5 2.2 7.5 3.5 9.5 4.1 8.5 2.8 7.5 2.9 3.8 2.6 1.7 3.4 1.4 5 1.1 6 .7 10 -.1 12.5 -2.1 4 -1.7 3 -2.3 1.9 -2.5 3.6 -6.8 7.1 -6.7 3.4 -5 1.4 -3.5 .5 -3 -1.2 -9.5 .2 -5 1.3 -4 4.3 -8.5 1.2 -4 0 -4.5 -1.7 -5 -2 -3.5 -6 -8.8 -5 -9.2z"/>
<path fill="#fe932a" d="M35.5 -57l21.5 0 0 114 -114 0 0 -83.5 4 5 9 8.5 3.5 5 2.3 5 2.3 8 3.1 8 5.1 10 2.8 8 2.9 3.6 3 2 3.5 1.2 11.5 1.8 9.5 -.1 9 -1.2 4.5 -1.1 4 -1.8 2.9 -2.4 1.8 -2.5 3.3 -6.8 7.5 -6.7 3.3 -5 1.3 -3.5 .6 -3 -1 -10 .4 -5 1.3 -4 4.1 -8 1.2 -4 .1 -5 -1.6 -5.5 -2.2 -3.9 -6 -8.9 -4.5 -8.2z"/>
<path fill="#fb7e21" d="M37 -57l20 0 0 114 -114 0 0 -81.1 3.3 3.6 8.2 7.4 3.8 5.1 2.5 5.5 2.4 8.5 2.5 6.5 6 11 2.8 8.4 3 3.7 3 1.9 3.5 1.2 6.5 1.2 6.5 .7 9 -.2 9.5 -1.3 4.5 -1.1 3.5 -1.6 3 -2.4 2.1 -3 2.9 -6.6 7.4 -6.4 3.5 -5 1.4 -3.5 .6 -3.5 -.7 -9.5 .4 -5.5 1.3 -4 4.2 -8.5 1.2 -4 .1 -5.5 -1.6 -5.5 -12.3 -20.5z"/>
<path fill="#f66c19" d="M38.6 -57l18.4 0 0 114 -114 0 0 -79.1 10.1 9.1 4.2 5.5 2.5 5.5 2.4 9 1.9 5 6.9 11.9 2.6 8.6 1.4 2.2 2 2 3 1.7 4 1.3 8.5 1.5 5.5 .5 8 -.3 10.5 -1.5 4.5 -1.1 3.6 -1.8 3 -2.5 1.9 -3 2.6 -6.5 7.4 -6.1 2 -2.4 1.7 -3 1.3 -3.5 .7 -3.5 -.6 -9.5 .5 -5.5 1.3 -4 4.3 -9 1.2 -4 .2 -5.5 -1.6 -6 -2.3 -4.5 -9.6 -15.5z"/>
<path fill="#f05b12" d="M40.3 -57l16.7 0 0 114 -114 0 0 -77.2 9 7.6 4 5.1 2.7 6 2.7 10 1.5 4 2.1 4 5.3 8 1.4 6.5 1 2.5 1.8 2.5 2.5 2.1 3.5 1.7 4.5 1.2 10.5 1.6 7.5 .1 13.5 -1.7 4 -.9 4.5 -1.9 3.8 -3.2 1.8 -3 2.4 -6.2 7.9 -6.8 2.1 -2.9 1.5 -3.1 1.5 -6.5 -.5 -9 .5 -5.5 1.3 -4 4.6 -9.5 1.3 -5 -.1 -5.5 -1.7 -6 -2.4 -4.8 -8.7 -14.2z"/>
<path fill="#e7490c" d="M42 -57l15 0 0 114 -114 0 0 -75.4 8.1 6.4 3.9 5 2.9 7 2.3 9.5 1.2 3.5 2.3 4 5.7 8 1.1 6.5 1.1 3 1.9 2.5 2.5 2 3.5 1.7 4.5 1.2 11.5 1.8 7 .2 15 -2 4 -.9 4.5 -2 4 -3.4 1.7 -2.6 2.5 -6.5 7.3 -6.4 2 -2.8 1.6 -3.3 1.7 -7 -.4 -9 .6 -5.6 1.3 -3.9 4.5 -9.5 1.5 -5.5 0 -6 -1.7 -6 -2.6 -5.4 -8 -13.1z"/>
<path fill="#dd3d08" d="M43.8 -57l13.2 0 0 114 -114 0 0 -73.7 7 5.2 3.6 4.5 1.9 4 1.5 4.4 1.6 8.6 1.4 4 2 3.5 6 8 1 6.5 1.1 3 1.9 2.6 3 2.4 3.5 1.7 4.5 1.2 13 2 6.5 .2 15.5 -2.1 4 -.9 5 -2.2 4.1 -3.4 2 -3 2.4 -6 7 -6.7 1.9 -2.8 1.4 -3 1.1 -3.5 .7 -4 -.2 -9.5 .6 -5.5 1.4 -4 4.4 -9 1.6 -6 .1 -6 -1.6 -6.5 -2.9 -6 -7.2 -12z"/>
<path fill="#d02f05" d="M45.7 -57l11.3 0 0 114 -114 0 0 -72 6.5 4.7 2.9 3.8 1.6 3.5 1.6 5 1 8.5 1.2 4 2.3 4 5.9 7.5 1.1 7 1 2.5 2.4 3 3.5 2.7 3.5 1.6 4 1.1 14.5 2.3 6 .2 17 -2.4 4 -.9 5 -2.3 4.6 -3.8 1.8 -2.5 2.7 -6 6.4 -7 3 -5.5 1.1 -3.5 .8 -4.5 0 -10 .6 -5 1.4 -4 4.5 -9.5 1.6 -6 .1 -6.5 -1.5 -6.5 -3 -6.5 -6.4 -11z"/>
<path fill="#c32503" d="M47.6 -57l9.4 0 0 19.2 -3 -7.7 -6.4 -11.5zM56.9 -23l.1 80 -114 0 0 -70.3 6 4.3 2.4 3.5 1.5 4 1 4 .1 8 1.1 4.5 2.7 5 5.2 6.5 .7 2 1.2 6 2.9 4 4.7 3.7 6 2.4 18 3 5.5 .2 10 -1.8 7.5 -.8 4.5 -1 6 -3.1 2.6 -2.1 2.3 -2.5 3.8 -7 5.8 -7 2.8 -5.5 1.2 -4 .7 -4.5 .2 -10.5 .7 -5 6.8 -16z"/>
<path fill="#b41b01" d="M49.4 -57l7.6 0 0 14.8 -2.8 -6.3 -4.8 -8.5zM56.9 -19.5l.1 76.5 -114 0 0 -68.4 4.8 3.4 2 3 1.1 3 .7 3.5 0 3 -.9 6 1.3 5.5 3 6.6 4.4 5.9 3.2 7 2.7 3.5 5.2 4 6.5 2.8 19.5 3.2 5 .2 10.5 -1.8 8 -.9 4.5 -1.1 3.5 -1.5 3 -1.8 5 -4.6 4.5 -7.5 5 -6.5 2.6 -5.5 1.2 -4 .8 -5 .4 -11 .7 -4.5 1.2 -3.5 4.5 -9.5z"/>
<path fill="#a11201" d="M51.4 -57l5.6 0 0 10.9 -5.6 -10.9zM56.8 -16.5l.2 73.5 -114 0 0 -66.2 3.9 3.2 1.8 4 .4 4.5 -1.3 6.5 -.1 2.5 .7 4 1.8 5.5 2.8 5.5 9.5 13 5.9 4.5 7.1 3.1 20.5 3.4 5 .3 19.5 -3 4.5 -1.1 6.5 -3.2 3 -2.3 2.6 -2.7 8.9 -13.2 3 -6.3 1.8 -8 .8 -12.5 .6 -4 1.3 -4 3.3 -7z"/>
<path fill="#8e0a01" d="M53.3 -57l3.7 0 0 7.3 -3.7 -7.3zM57 -14l0 71 -114 0 0 -63.4 2 2.4 1.1 3.5 0 3 -1.1 6 -.2 3.5 .4 4 1.4 5 1.9 4.4 2.1 3.6 8.9 11 3 2.6 3.6 2.4 3.9 2 4 1.4 4.5 1 17.5 2.6 5 .3 20 -3.2 5 -1.3 6.6 -3.3 2.9 -2.2 2.7 -2.8 8.7 -13 3 -6.5 1.9 -8 1.4 -16.5 1.2 -4 2.6 -5.5z"/>
<path fill="#7a0403" d="M55.2 -57l1.8 0 0 3.6 -1.8 -3.6zM56.9 -11l.1 68 -114 0 0 -36.8 2 5.3 2.4 4.5 3.4 4.5 4.5 5 3.8 3.5 3.9 2.7 4.5 2.4 5 1.8 5.5 1.2 17 2.4 6 .4 22 -3.7 4.5 -1.4 4.5 -2.2 4.5 -3.2 3.7 -3.9 6.8 -10.3 2.7 -5.2 1.8 -5 1.1 -5 1.8 -18 2.5 -7z"/>
</g>
<path class="cl" d="M3.5 -51.5l-11 1 -5.5 2.1 -2.9 2.4 -2.2 3 -1.7 3.5 -.9 4 .4 5.5 3.6 11.5 1.6 7.5 .1 5.5 -1.5 10 1.5 7.5 1.3 3 2.2 2.5 3.5 2 4 .8 4.1 -.3 4.5 -2 3.6 -3 2.9 -4 1.6 -3.5 .8 -3 -1.7 -8 .6 -5 1.8 -3.5 9.4 -13.5 1.4 -3 .6 -3 -.2 -4 -1.2 -4 -2.7 -4.7 -3 -3.5 -3 -2.2 -3.5 -1.4 -4 -.5 -4.5 .3M-10 -57l-3.5 1 -3.5 1.8 -3 2.4 -2.5 2.9 -2.4 4.4 -3 7.5 -1 4 -.2 3.5 .7 3.5 4.7 15 2.3 20 2.4 8.7 2.5 4.2 3 2.5 4.3 1.6 5.2 .5 7.5 -.4 6.5 -1.4 4.8 -2.2 3 -3 1.2 -2.5 .7 -3 -1 -10 1.2 -6.5 2.3 -6 7.2 -13.5 1.6 -4.5 .2 -4 -.9 -4 -5.9 -13 -2.4 -3.4 -2.5 -2.5 -3 -2 -3.7 -1.6M-27.9 -57l-2.8 3.5 -5 8 -6.6 9 -1.5 4 0 4 1.3 2.5 7.5 8.5 3.7 6.5 3.8 11.6 2.9 14.4 2.9 7.5 2.2 4 2.5 2.3 4 1.9 5 1.1 6.5 .4 13 -1.4 4.5 -1.1 3.5 -1.7 3.4 -3 7.7 -12.5 .3 -3 -.7 -6.5 2.2 -12.5 1.4 -4.5 4.4 -9.5 .7 -5 -.7 -3 -1.4 -3 -5.1 -8 -4.2 -9.5 -3.7 -5M-47.8 -57l-5 7.5 -2.7 7.5 -.4 4 .2 3.5 .8 3.5 1.5 3.5 3.4 5 8.6 8.5 3.7 5.5 2.7 6 5.2 16.5 5.8 14 2 3.2 3 2.6 4.5 1.9 6.5 1.3 7.5 .5 6.5 -.4 8.5 -1.2 4.5 -1.3 3.5 -1.9 3 -3 4.5 -7.7 7.4 -7.5 3.6 -6.8 .6 -3.7 -1.3 -8 -.2 -5.5 1.3 -4 5.2 -10.5 .5 -2.5 0 -3 -2.2 -6 -7.4 -10.8 -5.7 -10.7M-57 -19.3l8.5 6.9 4.1 5.4 2.8 6.5 3.7 13 2.1 4 5.6 8 1.4 7 1 2.5 3.5 4 3.3 1.9 4 1.2 16 2.2 5.5 -.1 12 -1.7 6 -1.5 3.9 -2 2.8 -2.5 1.9 -3 2.6 -6.5 7.1 -6 3.4 -5 1.4 -4 .8 -4 -.5 -9 .7 -6 1.3 -4 4.3 -9 1.4 -4.5 .2 -6 -1.7 -6.5 -2.6 -5.3 -8.3 -13.7M57 -47.9l-4.7 -9.1M-57 -7.9l3 2.7 1.5 3.7 .1 4 -1.4 9 .6 4.5 1.6 5 3.5 7 8.9 11.5 6.2 4.8 7.5 3.3 21.5 3.7 5 .3 20 -3.2 4.5 -1.1 6.6 -3.3 5.6 -5 8.8 -13.2 2.9 -6.3 1.9 -8 1.4 -16.5 1.2 -4 3.1 -6.5"/>
</g>
<use href="#head"/>
</g>
<g transform="translate(453.0 919.4)">
<circle r="54" fill="#e6e8fa" fill-opacity=".5" filter="url(#b2)"/>
<g clip-path="url(#cd)"><g filter="url(#b1)">
<rect x="-57" y="-57" width="114" height="114" fill="#8fff49"/>
<path fill="#96fe44" d="M-57 -57l114 0 0 114 -114 0 0 -114zM0 3.5l-2 .5 -1.3 1 -1.2 1.9 -.6 2.1 0 2.5 .6 2 1.5 2 1.5 .7 1.5 -.3 1.6 -1.4 1.4 -2.5 .5 -2.5 0 -2.5 -.8 -2 -1.2 -1.1 -1.5 -.4z"/>
<path fill="#9cfe40" d="M-57 -57l114 0 0 114 -114 0 0 -114zM-2.5 -13.5l-3 .9 -2.5 1.4 -2.5 2.2 -2 2.5 -1.5 3 -1.2 3.5 -.6 3.5 -.1 3.5 .4 3.5 1 3.5 1.4 3 2 3 2.5 2.5 2.6 1.7 3 1.1 2.5 .2 2.5 -.8 2.5 -1.7 2.5 -2.5 2.5 -3.5 1.7 -3.5 1.3 -3.5 .7 -3.5 .1 -3.5 -.4 -3.5 -.9 -3 -1.2 -2.5 -2 -2.5 -3.1 -2.5 -3.2 -1.8 -2.5 -.7 -2.5 0z"/>
<path fill="#a1fd3d" d="M-57 -57l114 0 0 114 -114 0 0 -114zM-5 -17.6l-4 1 -3.5 1.6 -3.5 2.5 -2.9 3 -2.2 3.5 -1.3 3.5 -.7 4 .1 4 .8 5 1.5 4.5 2.1 4 2.6 3.5 3.5 3.2 3.9 2.3 4.1 1.3 3.5 .2 3.5 -.8 3.9 -2.2 3.5 -3 3.4 -4 2.5 -4.5 1.7 -4.5 .8 -4.5 -.1 -4.5 -.6 -4 -1.1 -3.5 -1.7 -3 -2.4 -2.5 -4.7 -3 -5.2 -2.3 -3.5 -.8 -4 0z"/>
<path fill="#a7fc3a" d="M-57 -57l114 0 0 114 -114 0 0 -114zM-10 -20.5l-4.9 1.5 -4.6 2.5 -3.9 3 -3 3.5 -1.8 3.5 -1 4 -.2 4.5 .6 5.5 1.6 6 2.2 5 2.9 4.5 3.4 3.5 4.7 3.3 5 2.2 4.5 1 4.5 -.2 5 -1.7 5 -3.1 4.5 -4.1 3.8 -4.9 2.4 -5 1.3 -5 .4 -5.5 -.7 -5.5 -1.2 -4.5 -1.7 -3.5 -2.3 -2.7 -3 -2.2 -7.5 -3.4 -6 -2 -5 -.7 -5 .5z"/>
<path fill="#acfb38" d="M-57 -57l114 0 0 114 -114 0 0 -114zM-12 -24l-6 1.4 -5.7 2.6 -4.8 3.4 -3.8 4.1 -2 3.5 -1 4 -.1 5 .8 6.5 1.8 7 2.4 6 3.1 5 3.8 4.1 5 3.5 6.5 2.9 6 1.4 5.5 -.1 5.5 -1.9 6.8 -3.9 5.2 -4.2 4.1 -4.8 2.8 -5 1.7 -5.5 .5 -6 -.8 -6.5 -1.3 -5 -1.6 -4 -2.1 -3 -3.2 -2.5 -5.4 -2.5 -12.7 -4.7 -5.5 -1 -5.5 .2z"/>
<path fill="#b1f936" d="M-57 -57l114 0 0 114 -114 0 0 -114zM-16 -27.5l-7.5 1.6 -5.4 2.4 -5.1 3.9 -4.3 5.1 -2.2 4.5 -.8 4.5 .3 6 1.3 7.5 2.2 8.1 2.7 6.4 3.3 5.2 4.2 4.3 5.3 3.5 6.5 2.6 9 2.2 3 .2 2.5 -.3 6 -2.4 10.1 -5.8 5.4 -4.3 4 -4.5 3.2 -5.7 1.7 -6 .3 -6 -1 -6.5 -1.8 -6.5 -1.9 -4.4 -2.2 -3.1 -3.1 -2.5 -24.2 -9.3 -5.5 -1 -6 .3z"/>
<path fill="#b7f735" d="M-57 -57l114 0 0 114 -114 0 0 -114zM-22.5 -32l-3.5 .2 -3 .7 -5 2.8 -3 2.7 -4 4.6 -2.5 3.5 -1.9 3.5 -1.6 5.5 -.1 6 .8 5.5 3.2 14 2.3 6.5 2.9 5.5 3.9 4.8 4.5 3.7 4.5 2.5 5.5 2 13.5 3.3 2.5 .2 2 -.3 3.5 -1.6 17.4 -10.6 4.5 -3.5 3.6 -4 3.6 -6 2.1 -6.5 .4 -6 -1.2 -7 -2.6 -8 -1.9 -4.5 -2.5 -3.5 -3.7 -3 -13.2 -4.7 -16.5 -7.5 -4.5 -.8 -10 0z"/>
<path fill="#bcf534" d="M-57 -57l114 0 0 114 -114 0 0 -114zM-29.5 -43.5l-2.5 .5 -2.2 1 -2.3 1.8 -2.5 2.6 -11.3 17.1 -2.8 6.5 -1 6 .3 6 5.5 24.5 2.5 6.5 3.2 5.5 4.1 4.7 5 3.9 4 2.2 4 1.6 17 4.9 4 .7 3.5 -.4 2.7 -1.6 8.3 -8.2 10.6 -5.8 4.5 -3 3.4 -2.9 2.6 -3.1 3.6 -6 2.5 -7 .7 -6 -1.2 -6.5 -6 -15 -2.5 -3.5 -3.5 -3 -3.7 -2 -8.5 -2.4 -5.5 -2.3 -5.1 -2.8 -11.9 -7.6 -2.5 -.8 -4.5 -.8 -8 -4.3 -4.5 -1z"/>
<path fill="#c1f334" d="M-57 -57l114 0 0 114 -54.5 0 3.2 -3 4.8 -6.5 2 -2.2 12.5 -6.6 6.5 -4.9 4.3 -5.3 3.8 -7 1.8 -4.5 1 -4 .4 -3.5 -.3 -3.5 -1.7 -5.5 -4.6 -8.5 -2.1 -5 -1.7 -2.5 -1.9 -2 -5.7 -4 -3.3 -1.5 -10.5 -3 -4.1 -2 -3.9 -2.5 -3.6 -3 -3.2 -3.5 -2.5 -3.5 -3.2 -6 -2.1 -2.5 -4.9 -3.1 -7 -2.4 -5.5 -.8 -5.5 .2 -5 1.3 -4.5 2.2 -3.9 3.1 -3 3.5 -2.7 4.5 -3.4 7.2 0 -23.7zM-57 24l2.1 6.5 2.6 5.5 3.2 5 3.6 4.1 4.5 3.8 5 3.2 5.5 2.5 7 2.4 -33.5 0 0 -33z"/>
<path fill="#c6f034" d="M-13.2 -57l70.2 0 0 114 -46.3 0 3.6 -5 2.3 -2.5 2.7 -2 12.2 -7.3 4 -3.4 3.2 -3.8 3.6 -6 4.8 -10.5 1.3 -6 -.3 -5.5 -1.2 -4 -1.7 -3.5 -9 -13.5 -3.8 -3 -6.2 -3.5 -3.7 -1.6 -10.5 -3 -3.9 -1.9 -3.6 -2.5 -3.5 -3.5 -2.4 -3.5 -1.5 -3.5 -1.8 -6.5 -1.3 -2.5 -3 -3.1 -4.2 -2.9zM-57 53l4.5 4 -4.5 0 0 -4z"/>
<path fill="#cbed34" d="M-7 -57l64 0 0 114 -37.3 0 4.3 -4.2 13.5 -10.1 3.9 -4.2 3.3 -4.5 5.9 -11 2.9 -7 1 -6.5 -.7 -7 -1.8 -5.4 -2.6 -5.1 -3.4 -5 -3.5 -3.5 -4.5 -2.5 -13.1 -5.5 -12.4 -3.7 -4.1 -2.3 -3.4 -2.7 -2.7 -3.3 -1.9 -3.5 -1 -3.5 -1.1 -6 -.8 -2 -2 -2.9 -2.5 -2.6z"/>
<path fill="#d0ea34" d="M-3.5 -57l60.5 0 0 50.8 -2.6 -4.8 -2.9 -4 -2.9 -3 -2.9 -2 -2.7 -1 -9.5 -1.9 -17.5 -5.3 -4.3 -1.8 -3.7 -2.5 -2.9 -3 -2.2 -3.5 -1.3 -4 -1.6 -8.5 -3.5 -5.5zM56.9 25l.1 32 -25.1 0 9.1 -8.3 5.6 -6.2 5.4 -8 4.9 -9.5z"/>
<path fill="#d4e735" d="M-.9 -57l57.9 0 0 42 -5 -5 -2.8 -2 -2.7 -1.3 -3 -.6 -8 -.4 -4.5 -.8 -14.5 -4.1 -3.2 -1.3 -2.8 -1.7 -3.5 -3.3 -2.5 -4 -1.3 -4 -1.4 -8 -2.7 -5.5zM56.8 41l.2 16 -12.3 0 6.8 -8.1 5.3 -7.9z"/>
<path fill="#d9e436" d="M1.1 -57l55.9 0 0 37 -5 -3.5 -5 -2.2 -3 -.4 -8 .3 -5 -.6 -13 -3.4 -5.9 -2.7 -3.3 -3 -2.6 -4 -1.4 -4 -1.6 -8.5 -2.1 -5z"/>
<path fill="#dde037" d="M2.9 -57l54.1 0 0 33.6 -4.9 -2.6 -4.5 -1.5 -3.6 -.3 -8 .6 -5 -.4 -12 -2.9 -5.5 -2.5 -3.5 -3 -2.5 -4 -1.3 -4 -1.7 -8.5 -1.6 -4.5z"/>
<path fill="#e1dd37" d="M4.5 -57l52.5 0 0 30.9 -5 -2 -5 -1.1 -3 -.1 -8.5 .8 -6.5 -.6 -9 -2.1 -5 -2.1 -3.8 -3.2 -2.5 -4 -1.2 -3.5 -1.6 -8.5 -1.4 -4.5z"/>
<path fill="#e5d938" d="M6 -57l51 0 0 28.5 -5 -1.5 -4.5 -.6 -12 .9 -5.5 -.3 -8.5 -1.8 -5.5 -2.2 -3.7 -3 -2.4 -4 -1.1 -3.5 -2.8 -12.5z"/>
<path fill="#e9d539" d="M7.4 -57l49.6 0 0 26.5 -5 -1.2 -4.5 -.4 -12 1.2 -5 -.1 -7.5 -1.4 -6 -2.2 -3.5 -2.8 -2.4 -4.1 -1.3 -4 -2.4 -11.5z"/>
<path fill="#ecd13a" d="M8.8 -57l48.2 0 0 24.6 -4.5 -.8 -4.5 -.2 -12 1.3 -5 .1 -7 -1.1 -6 -2.2 -3 -2.2 -2.6 -4 -1.4 -4.5 -2.2 -11z"/>
<path fill="#eecf3a" d="M10.1 -57l46.9 0 0 22.7 -9 -.5 -12 1.6 -5 .2 -6.4 -1 -5.6 -2 -3 -2.1 -2.5 -4 -1.4 -4.4 -2 -10.5z"/>
<path fill="#f1cb3a" d="M11.5 -57l45.5 0 0 21 -9 -.2 -11.5 1.9 -4.5 .3 -6 -.7 -5.5 -1.8 -3.5 -2.4 -2.3 -3.6 -1.4 -4.5 -1.8 -10z"/>
<path fill="#f4c73a" d="M12.9 -57l44.1 0 0 19.2 -8.5 .2 -16 2.6 -5 -.4 -5.3 -1.6 -3.7 -2.3 -2.5 -3.6 -1.5 -4.6 -1.6 -9.5z"/>
<path fill="#f5c53a" d="M14.3 -57l42.7 0 0 17.5 -8.5 .5 -15.5 2.9 -5 -.3 -4.5 -1.3 -3.8 -2.3 -2.5 -3.5 -1.6 -5 -1.3 -8.5z"/>
<path fill="#f7c13a" d="M15.7 -57l41.3 0 0 15.7 -8.5 .8 -15 3.3 -4.5 -.1 -4 -1 -4 -2.4 -2.5 -3.3 -1.5 -4.6 -1.3 -8.4z"/>
<path fill="#f8be39" d="M17.2 -57l39.8 0 0 13.9 -8.5 1.1 -14.5 3.6 -4 .1 -3.5 -.7 -4 -2.2 -2.6 -3.3 -1.5 -4.5 -1.2 -8z"/>
<path fill="#f9bc39" d="M18.7 -57l38.3 0 0 12 -8.5 1.4 -14.5 3.9 -3.5 .3 -3 -.6 -3.7 -2 -2.7 -3.5 -1.4 -4.5 -1 -7z"/>
<path fill="#fbb838" d="M20.4 -57l36.6 0 0 10.1 -8.5 1.6 -14.4 4.3 -2.6 .4 -2.5 -.3 -3.5 -1.7 -2.8 -3.4 -1.5 -4.5 -.8 -6.5z"/>
<path fill="#fbb637" d="M22.1 -57l34.9 0 0 8 -8.5 1.8 -14 4.6 -4.5 .4 -3 -1.4 -2.5 -2.9 -1.5 -4 -.9 -6.5z"/>
<path fill="#fcb336" d="M24.1 -57l32.9 0 0 5.8 -8.5 2 -13.5 4.6 -2.5 .5 -2 0 -2.5 -1.3 -2 -2.7 -1.2 -3.4 -.7 -5.5z"/>
</g>
<path class="cl" d="M-2.5 -15l-3.5 .8 -3 1.5 -2.9 2.2 -2.3 2.5 -1.8 3 -1.4 3.5 -.7 3.5 -.1 4 .5 4 1.1 4 1.6 3.5 2.1 3 2.9 2.9 3 2 3 1.1 3 .4 3 -.8 2.7 -1.6 2.8 -2.5 2.8 -3.5 3.6 -7.5 .9 -4 .2 -4 -1.3 -7 -3.1 -5 -3 -2.5 -4.1 -2.3 -3.5 -1.2 -2.5 0M-11 -23l-5.5 1.3 -5.5 2.5 -4.6 3.2 -3.7 4 -2.1 3.5 -1.1 4 -.1 5 .6 5.5 1.6 6.5 2.3 6 3 5 3.6 4 5 3.7 6 2.7 6 1.5 5 -.2 5.5 -1.8 5.9 -3.4 5.1 -4.2 4.1 -4.8 2.8 -5 1.6 -5.5 .5 -5.5 -.6 -6 -1.2 -5 -1.7 -4.1 -2 -2.9 -3.1 -2.5 -6.5 -3 -9.9 -3.6 -5.5 -1.1 -5.5 .2M-26.5 -32.5l-5 1.6 -5 3.8 -7 8.4 -3.3 6.7 -1 5 .2 6 4.8 21 2.5 6 3 5 3.8 4.2 4.5 3.3 4.5 2.3 5.5 1.9 13.5 3.3 4.5 -.3 21.8 -13.2 4.7 -4 3.6 -4.5 3.3 -6.5 1.5 -7 -.3 -6.5 -2 -7.5 -2.2 -6.5 -2.1 -4 -2.8 -3.2 -3.5 -2.4 -12.5 -4.3 -13 -6.3 -4.5 -1.7 -4.5 -.6 -13 0M-46.9 -57l-5.4 3 -4.7 4M-57 39.8l3.5 5.2 4 4.5 5 4.2 5.3 3.3M6.8 57l7.7 -9.8 14.5 -8.3 4.2 -3.4 3.3 -3.8 4 -6.7 3.7 -8.5 1.3 -6 -.4 -5.5 -2.5 -6.5 -4.8 -7.5 -2.3 -5 -2 -2.5 -3.8 -3 -5.1 -3 -13.1 -4.1 -7.7 -4.4 -3.8 -3.5 -2.7 -3.5 -1.6 -3 -2.3 -6.5 -2 -3 -4.4 -3.5 -6.2 -3M57 -4.8l-2.3 -4.7 -3 -4.5 -3.2 -3.5 -2.7 -2 -2.8 -1.2 -9.5 -2 -18 -5.5 -4.1 -1.8 -3.6 -2.5 -2.9 -3 -2.2 -3.5 -1.3 -4 -1.4 -8 -1.5 -3 -2.3 -3M30.6 57l10.1 -9 5.8 -6.5 5.3 -8 5.2 -10.4M57 -21.1l-5.3 -3.4 -4.7 -1.8 -2.5 -.4 -8.5 .4 -5 -.5 -12.5 -3.1 -5.7 -2.6 -3.5 -3 -2.7 -4 -1.3 -4 -1.8 -8.9 -1.8 -4.6M57 -27.8l-5.2 -1.7 -4.8 -.7 -11.5 .8 -6 -.4 -8.5 -1.9 -5.5 -2.2 -3.6 -3.1 -2.4 -4 -4 -16M57 -32.6l-9 -1 -12 1.4 -5 .1 -7 -1.1 -6 -2.2 -3.3 -2.6 -2.4 -4 -1.2 -4 -2.2 -11M57 -36.9l-8.5 0 -16.5 2.4 -5.5 -.6 -5 -1.6 -3.7 -2.3 -2.4 -3.5 -1.5 -5 -1.7 -9.5M57 -41.1l-8.5 .8 -15 3.2 -4.5 -.1 -4 -1 -4 -2.3 -2.5 -3.2 -1.6 -4.8 -1.3 -8.5M57 -45.6l-8.5 1.5 -14.5 4.1 -3 .3 -3 -.5 -4 -2.2 -2.4 -3.1 -1.4 -4.5 -1 -7M57 -50.5l-8.5 1.9 -13.5 4.6 -4.5 .6 -3 -1.6 -1.9 -2.5 -1.4 -4 -.7 -5.5M57 -56.6l-7.5 1.8 -11 3.5 -3.5 .6 -2 -.4 -1.5 -1.1 -1.1 -1.8 -.8 -3"/>
</g>
<use href="#head"/>
</g>
</g>
</svg></body></html>
